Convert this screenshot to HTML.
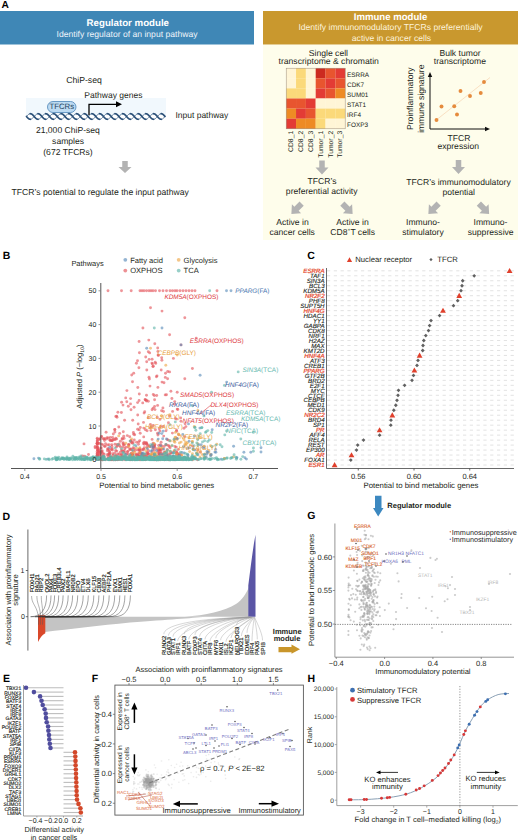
<!DOCTYPE html>
<html><head><meta charset="utf-8"><style>
html,body{margin:0;padding:0;background:#fff;}
body{width:520px;height:840px;overflow:hidden;}
svg{display:block;}
text{font-family:"Liberation Sans",sans-serif;text-rendering:geometricPrecision;}
</style></head><body>
<svg width="520" height="840" viewBox="0 0 520 840">
<text x="1.50" y="7.80" font-size="10.20" font-weight="bold" fill="#000">A</text>
<rect x="0.00" y="11.00" width="254.00" height="33.50" fill="#3f87b6"/>
<text x="127.80" y="25.75" font-size="9.70" text-anchor="middle" font-weight="bold" fill="#fff">Regulator module</text>
<text x="127.00" y="37.16" font-size="8.60" text-anchor="middle" fill="#eef4fa">Identify regulator of an input pathway</text>
<rect x="263.00" y="11.00" width="255.00" height="33.70" fill="#c9982e"/>
<rect x="263.00" y="44.70" width="255.00" height="195.30" fill="#fefdeb"/>
<text x="390.50" y="20.07" font-size="9.60" text-anchor="middle" font-weight="bold" fill="#fff">Immune module</text>
<text x="390.50" y="29.76" font-size="8.60" text-anchor="middle" fill="#fdf3dc">Identify immunomodulatory TFCRs preferentially</text>
<text x="391.50" y="41.16" font-size="8.60" text-anchor="middle" fill="#fdf3dc">active in cancer cells</text>
<text x="84.00" y="83.23" font-size="8.70" text-anchor="middle" fill="#231f20">ChiP-seq</text>
<rect x="26.00" y="98.00" width="140.00" height="17.00" fill="#f1f8fd"/>
<path d="M26.50,116.50 L26.76,116.79 L27.01,117.08 L27.27,117.37 L27.53,117.64 L27.78,117.90 L28.04,118.15 L28.30,118.37 L28.55,118.58 L28.81,118.77 L29.07,118.92 L29.32,119.06 L29.58,119.16 L29.84,119.24 L30.09,119.28 L30.35,119.30" fill="none" stroke="#2b5078" stroke-width="1.7" stroke-linecap="round"/>
<path d="M26.50,116.50 L26.76,116.21 L27.01,115.92 L27.27,115.63 L27.53,115.36 L27.78,115.10 L28.04,114.85 L28.30,114.63 L28.55,114.42 L28.81,114.23 L29.07,114.08 L29.32,113.94 L29.58,113.84 L29.84,113.76 L30.09,113.72 L30.35,113.70" fill="none" stroke="#2b5078" stroke-width="0.8" stroke-linecap="round"/>
<path d="M30.35,119.30 L30.61,119.28 L30.86,119.24 L31.12,119.16 L31.38,119.06 L31.63,118.92 L31.89,118.77 L32.15,118.58 L32.40,118.37 L32.66,118.15 L32.92,117.90 L33.17,117.64 L33.43,117.37 L33.69,117.08 L33.94,116.79 L34.20,116.50 L34.46,116.21 L34.71,115.92 L34.97,115.63 L35.23,115.36 L35.48,115.10 L35.74,114.85 L36.00,114.63 L36.25,114.42 L36.51,114.23 L36.77,114.08 L37.02,113.94 L37.28,113.84 L37.54,113.76 L37.79,113.72 L38.05,113.70" fill="none" stroke="#2b5078" stroke-width="0.8" stroke-linecap="round"/>
<path d="M30.35,113.70 L30.61,113.72 L30.86,113.76 L31.12,113.84 L31.38,113.94 L31.63,114.08 L31.89,114.23 L32.15,114.42 L32.40,114.63 L32.66,114.85 L32.92,115.10 L33.17,115.36 L33.43,115.63 L33.69,115.92 L33.94,116.21 L34.20,116.50 L34.46,116.79 L34.71,117.08 L34.97,117.37 L35.23,117.64 L35.48,117.90 L35.74,118.15 L36.00,118.37 L36.25,118.58 L36.51,118.77 L36.77,118.92 L37.02,119.06 L37.28,119.16 L37.54,119.24 L37.79,119.28 L38.05,119.30" fill="none" stroke="#2b5078" stroke-width="1.7" stroke-linecap="round"/>
<path d="M38.05,113.70 L38.31,113.72 L38.56,113.76 L38.82,113.84 L39.08,113.94 L39.33,114.08 L39.59,114.23 L39.85,114.42 L40.10,114.63 L40.36,114.85 L40.62,115.10 L40.87,115.36 L41.13,115.63 L41.39,115.92 L41.64,116.21 L41.90,116.50 L42.16,116.79 L42.41,117.08 L42.67,117.37 L42.93,117.64 L43.18,117.90 L43.44,118.15 L43.70,118.37 L43.95,118.58 L44.21,118.77 L44.47,118.92 L44.72,119.06 L44.98,119.16 L45.24,119.24 L45.49,119.28 L45.75,119.30" fill="none" stroke="#2b5078" stroke-width="1.7" stroke-linecap="round"/>
<path d="M38.05,119.30 L38.31,119.28 L38.56,119.24 L38.82,119.16 L39.08,119.06 L39.33,118.92 L39.59,118.77 L39.85,118.58 L40.10,118.37 L40.36,118.15 L40.62,117.90 L40.87,117.64 L41.13,117.37 L41.39,117.08 L41.64,116.79 L41.90,116.50 L42.16,116.21 L42.41,115.92 L42.67,115.63 L42.93,115.36 L43.18,115.10 L43.44,114.85 L43.70,114.63 L43.95,114.42 L44.21,114.23 L44.47,114.08 L44.72,113.94 L44.98,113.84 L45.24,113.76 L45.49,113.72 L45.75,113.70" fill="none" stroke="#2b5078" stroke-width="0.8" stroke-linecap="round"/>
<path d="M45.75,119.30 L46.01,119.28 L46.26,119.24 L46.52,119.16 L46.78,119.06 L47.03,118.92 L47.29,118.77 L47.55,118.58 L47.80,118.37 L48.06,118.15 L48.32,117.90 L48.57,117.64 L48.83,117.37 L49.09,117.08 L49.34,116.79 L49.60,116.50 L49.86,116.21 L50.11,115.92 L50.37,115.63 L50.63,115.36 L50.88,115.10 L51.14,114.85 L51.40,114.63 L51.65,114.42 L51.91,114.23 L52.17,114.08 L52.42,113.94 L52.68,113.84 L52.94,113.76 L53.19,113.72 L53.45,113.70" fill="none" stroke="#2b5078" stroke-width="0.8" stroke-linecap="round"/>
<path d="M45.75,113.70 L46.01,113.72 L46.26,113.76 L46.52,113.84 L46.78,113.94 L47.03,114.08 L47.29,114.23 L47.55,114.42 L47.80,114.63 L48.06,114.85 L48.32,115.10 L48.57,115.36 L48.83,115.63 L49.09,115.92 L49.34,116.21 L49.60,116.50 L49.86,116.79 L50.11,117.08 L50.37,117.37 L50.63,117.64 L50.88,117.90 L51.14,118.15 L51.40,118.37 L51.65,118.58 L51.91,118.77 L52.17,118.92 L52.42,119.06 L52.68,119.16 L52.94,119.24 L53.19,119.28 L53.45,119.30" fill="none" stroke="#2b5078" stroke-width="1.7" stroke-linecap="round"/>
<path d="M53.45,113.70 L53.71,113.72 L53.96,113.76 L54.22,113.84 L54.48,113.94 L54.73,114.08 L54.99,114.23 L55.25,114.42 L55.50,114.63 L55.76,114.85 L56.02,115.10 L56.27,115.36 L56.53,115.63 L56.79,115.92 L57.04,116.21 L57.30,116.50 L57.56,116.79 L57.81,117.08 L58.07,117.37 L58.33,117.64 L58.58,117.90 L58.84,118.15 L59.10,118.37 L59.35,118.58 L59.61,118.77 L59.87,118.92 L60.12,119.06 L60.38,119.16 L60.64,119.24 L60.89,119.28 L61.15,119.30" fill="none" stroke="#2b5078" stroke-width="1.7" stroke-linecap="round"/>
<path d="M53.45,119.30 L53.71,119.28 L53.96,119.24 L54.22,119.16 L54.48,119.06 L54.73,118.92 L54.99,118.77 L55.25,118.58 L55.50,118.37 L55.76,118.15 L56.02,117.90 L56.27,117.64 L56.53,117.37 L56.79,117.08 L57.04,116.79 L57.30,116.50 L57.56,116.21 L57.81,115.92 L58.07,115.63 L58.33,115.36 L58.58,115.10 L58.84,114.85 L59.10,114.63 L59.35,114.42 L59.61,114.23 L59.87,114.08 L60.12,113.94 L60.38,113.84 L60.64,113.76 L60.89,113.72 L61.15,113.70" fill="none" stroke="#2b5078" stroke-width="0.8" stroke-linecap="round"/>
<path d="M61.15,119.30 L61.41,119.28 L61.66,119.24 L61.92,119.16 L62.18,119.06 L62.43,118.92 L62.69,118.77 L62.95,118.58 L63.20,118.37 L63.46,118.15 L63.72,117.90 L63.97,117.64 L64.23,117.37 L64.49,117.08 L64.74,116.79 L65.00,116.50 L65.26,116.21 L65.51,115.92 L65.77,115.63 L66.03,115.36 L66.28,115.10 L66.54,114.85 L66.80,114.63 L67.05,114.42 L67.31,114.23 L67.57,114.08 L67.82,113.94 L68.08,113.84 L68.34,113.76 L68.59,113.72 L68.85,113.70" fill="none" stroke="#2b5078" stroke-width="0.8" stroke-linecap="round"/>
<path d="M61.15,113.70 L61.41,113.72 L61.66,113.76 L61.92,113.84 L62.18,113.94 L62.43,114.08 L62.69,114.23 L62.95,114.42 L63.20,114.63 L63.46,114.85 L63.72,115.10 L63.97,115.36 L64.23,115.63 L64.49,115.92 L64.74,116.21 L65.00,116.50 L65.26,116.79 L65.51,117.08 L65.77,117.37 L66.03,117.64 L66.28,117.90 L66.54,118.15 L66.80,118.37 L67.05,118.58 L67.31,118.77 L67.57,118.92 L67.82,119.06 L68.08,119.16 L68.34,119.24 L68.59,119.28 L68.85,119.30" fill="none" stroke="#2b5078" stroke-width="1.7" stroke-linecap="round"/>
<path d="M68.85,113.70 L69.11,113.72 L69.36,113.76 L69.62,113.84 L69.88,113.94 L70.13,114.08 L70.39,114.23 L70.65,114.42 L70.90,114.63 L71.16,114.85 L71.42,115.10 L71.67,115.36 L71.93,115.63 L72.19,115.92 L72.44,116.21 L72.70,116.50 L72.96,116.79 L73.21,117.08 L73.47,117.37 L73.73,117.64 L73.98,117.90 L74.24,118.15 L74.50,118.37 L74.75,118.58 L75.01,118.77 L75.27,118.92 L75.52,119.06 L75.78,119.16 L76.04,119.24 L76.29,119.28 L76.55,119.30" fill="none" stroke="#2b5078" stroke-width="1.7" stroke-linecap="round"/>
<path d="M68.85,119.30 L69.11,119.28 L69.36,119.24 L69.62,119.16 L69.88,119.06 L70.13,118.92 L70.39,118.77 L70.65,118.58 L70.90,118.37 L71.16,118.15 L71.42,117.90 L71.67,117.64 L71.93,117.37 L72.19,117.08 L72.44,116.79 L72.70,116.50 L72.96,116.21 L73.21,115.92 L73.47,115.63 L73.73,115.36 L73.98,115.10 L74.24,114.85 L74.50,114.63 L74.75,114.42 L75.01,114.23 L75.27,114.08 L75.52,113.94 L75.78,113.84 L76.04,113.76 L76.29,113.72 L76.55,113.70" fill="none" stroke="#2b5078" stroke-width="0.8" stroke-linecap="round"/>
<path d="M76.55,119.30 L76.81,119.28 L77.06,119.24 L77.32,119.16 L77.58,119.06 L77.83,118.92 L78.09,118.77 L78.35,118.58 L78.60,118.37 L78.86,118.15 L79.12,117.90 L79.37,117.64 L79.63,117.37 L79.89,117.08 L80.14,116.79 L80.40,116.50 L80.66,116.21 L80.91,115.92 L81.17,115.63 L81.43,115.36 L81.68,115.10 L81.94,114.85 L82.20,114.63 L82.45,114.42 L82.71,114.23 L82.97,114.08 L83.22,113.94 L83.48,113.84 L83.74,113.76 L83.99,113.72 L84.25,113.70" fill="none" stroke="#2b5078" stroke-width="0.8" stroke-linecap="round"/>
<path d="M76.55,113.70 L76.81,113.72 L77.06,113.76 L77.32,113.84 L77.58,113.94 L77.83,114.08 L78.09,114.23 L78.35,114.42 L78.60,114.63 L78.86,114.85 L79.12,115.10 L79.37,115.36 L79.63,115.63 L79.89,115.92 L80.14,116.21 L80.40,116.50 L80.66,116.79 L80.91,117.08 L81.17,117.37 L81.43,117.64 L81.68,117.90 L81.94,118.15 L82.20,118.37 L82.45,118.58 L82.71,118.77 L82.97,118.92 L83.22,119.06 L83.48,119.16 L83.74,119.24 L83.99,119.28 L84.25,119.30" fill="none" stroke="#2b5078" stroke-width="1.7" stroke-linecap="round"/>
<path d="M84.25,113.70 L84.51,113.72 L84.76,113.76 L85.02,113.84 L85.28,113.94 L85.53,114.08 L85.79,114.23 L86.05,114.42 L86.30,114.63 L86.56,114.85 L86.82,115.10 L87.07,115.36 L87.33,115.63 L87.59,115.92 L87.84,116.21 L88.10,116.50 L88.36,116.79 L88.61,117.08 L88.87,117.37 L89.13,117.64 L89.38,117.90 L89.64,118.15 L89.90,118.37 L90.15,118.58 L90.41,118.77 L90.67,118.92 L90.92,119.06 L91.18,119.16 L91.44,119.24 L91.69,119.28 L91.95,119.30" fill="none" stroke="#2b5078" stroke-width="1.7" stroke-linecap="round"/>
<path d="M84.25,119.30 L84.51,119.28 L84.76,119.24 L85.02,119.16 L85.28,119.06 L85.53,118.92 L85.79,118.77 L86.05,118.58 L86.30,118.37 L86.56,118.15 L86.82,117.90 L87.07,117.64 L87.33,117.37 L87.59,117.08 L87.84,116.79 L88.10,116.50 L88.36,116.21 L88.61,115.92 L88.87,115.63 L89.13,115.36 L89.38,115.10 L89.64,114.85 L89.90,114.63 L90.15,114.42 L90.41,114.23 L90.67,114.08 L90.92,113.94 L91.18,113.84 L91.44,113.76 L91.69,113.72 L91.95,113.70" fill="none" stroke="#2b5078" stroke-width="0.8" stroke-linecap="round"/>
<path d="M91.95,119.30 L92.21,119.28 L92.46,119.24 L92.72,119.16 L92.98,119.06 L93.23,118.92 L93.49,118.77 L93.75,118.58 L94.00,118.37 L94.26,118.15 L94.52,117.90 L94.77,117.64 L95.03,117.37 L95.29,117.08 L95.54,116.79 L95.80,116.50 L96.06,116.21 L96.31,115.92 L96.57,115.63 L96.83,115.36 L97.08,115.10 L97.34,114.85 L97.60,114.63 L97.85,114.42 L98.11,114.23 L98.37,114.08 L98.62,113.94 L98.88,113.84 L99.14,113.76 L99.39,113.72 L99.65,113.70" fill="none" stroke="#2b5078" stroke-width="0.8" stroke-linecap="round"/>
<path d="M91.95,113.70 L92.21,113.72 L92.46,113.76 L92.72,113.84 L92.98,113.94 L93.23,114.08 L93.49,114.23 L93.75,114.42 L94.00,114.63 L94.26,114.85 L94.52,115.10 L94.77,115.36 L95.03,115.63 L95.29,115.92 L95.54,116.21 L95.80,116.50 L96.06,116.79 L96.31,117.08 L96.57,117.37 L96.83,117.64 L97.08,117.90 L97.34,118.15 L97.60,118.37 L97.85,118.58 L98.11,118.77 L98.37,118.92 L98.62,119.06 L98.88,119.16 L99.14,119.24 L99.39,119.28 L99.65,119.30" fill="none" stroke="#2b5078" stroke-width="1.7" stroke-linecap="round"/>
<path d="M99.65,113.70 L99.91,113.72 L100.16,113.76 L100.42,113.84 L100.68,113.94 L100.93,114.08 L101.19,114.23 L101.45,114.42 L101.70,114.63 L101.96,114.85 L102.22,115.10 L102.47,115.36 L102.73,115.63 L102.99,115.92 L103.24,116.21 L103.50,116.50 L103.76,116.79 L104.01,117.08 L104.27,117.37 L104.53,117.64 L104.78,117.90 L105.04,118.15 L105.30,118.37 L105.55,118.58 L105.81,118.77 L106.07,118.92 L106.32,119.06 L106.58,119.16 L106.84,119.24 L107.09,119.28 L107.35,119.30" fill="none" stroke="#2b5078" stroke-width="1.7" stroke-linecap="round"/>
<path d="M99.65,119.30 L99.91,119.28 L100.16,119.24 L100.42,119.16 L100.68,119.06 L100.93,118.92 L101.19,118.77 L101.45,118.58 L101.70,118.37 L101.96,118.15 L102.22,117.90 L102.47,117.64 L102.73,117.37 L102.99,117.08 L103.24,116.79 L103.50,116.50 L103.76,116.21 L104.01,115.92 L104.27,115.63 L104.53,115.36 L104.78,115.10 L105.04,114.85 L105.30,114.63 L105.55,114.42 L105.81,114.23 L106.07,114.08 L106.32,113.94 L106.58,113.84 L106.84,113.76 L107.09,113.72 L107.35,113.70" fill="none" stroke="#2b5078" stroke-width="0.8" stroke-linecap="round"/>
<path d="M107.35,119.30 L107.61,119.28 L107.86,119.24 L108.12,119.16 L108.38,119.06 L108.63,118.92 L108.89,118.77 L109.15,118.58 L109.40,118.37 L109.66,118.15 L109.92,117.90 L110.17,117.64 L110.43,117.37 L110.69,117.08 L110.94,116.79 L111.20,116.50 L111.46,116.21 L111.71,115.92 L111.97,115.63 L112.23,115.36 L112.48,115.10 L112.74,114.85 L113.00,114.63 L113.25,114.42 L113.51,114.23 L113.77,114.08 L114.02,113.94 L114.28,113.84 L114.54,113.76 L114.79,113.72 L115.05,113.70" fill="none" stroke="#2b5078" stroke-width="0.8" stroke-linecap="round"/>
<path d="M107.35,113.70 L107.61,113.72 L107.86,113.76 L108.12,113.84 L108.38,113.94 L108.63,114.08 L108.89,114.23 L109.15,114.42 L109.40,114.63 L109.66,114.85 L109.92,115.10 L110.17,115.36 L110.43,115.63 L110.69,115.92 L110.94,116.21 L111.20,116.50 L111.46,116.79 L111.71,117.08 L111.97,117.37 L112.23,117.64 L112.48,117.90 L112.74,118.15 L113.00,118.37 L113.25,118.58 L113.51,118.77 L113.77,118.92 L114.02,119.06 L114.28,119.16 L114.54,119.24 L114.79,119.28 L115.05,119.30" fill="none" stroke="#2b5078" stroke-width="1.7" stroke-linecap="round"/>
<path d="M115.05,113.70 L115.31,113.72 L115.56,113.76 L115.82,113.84 L116.08,113.94 L116.33,114.08 L116.59,114.23 L116.85,114.42 L117.10,114.63 L117.36,114.85 L117.62,115.10 L117.87,115.36 L118.13,115.63 L118.39,115.92 L118.64,116.21 L118.90,116.50 L119.16,116.79 L119.41,117.08 L119.67,117.37 L119.93,117.64 L120.18,117.90 L120.44,118.15 L120.70,118.37 L120.95,118.58 L121.21,118.77 L121.47,118.92 L121.72,119.06 L121.98,119.16 L122.24,119.24 L122.49,119.28 L122.75,119.30" fill="none" stroke="#2b5078" stroke-width="1.7" stroke-linecap="round"/>
<path d="M115.05,119.30 L115.31,119.28 L115.56,119.24 L115.82,119.16 L116.08,119.06 L116.33,118.92 L116.59,118.77 L116.85,118.58 L117.10,118.37 L117.36,118.15 L117.62,117.90 L117.87,117.64 L118.13,117.37 L118.39,117.08 L118.64,116.79 L118.90,116.50 L119.16,116.21 L119.41,115.92 L119.67,115.63 L119.93,115.36 L120.18,115.10 L120.44,114.85 L120.70,114.63 L120.95,114.42 L121.21,114.23 L121.47,114.08 L121.72,113.94 L121.98,113.84 L122.24,113.76 L122.49,113.72 L122.75,113.70" fill="none" stroke="#2b5078" stroke-width="0.8" stroke-linecap="round"/>
<path d="M122.75,119.30 L123.01,119.28 L123.26,119.24 L123.52,119.16 L123.78,119.06 L124.03,118.92 L124.29,118.77 L124.55,118.58 L124.80,118.37 L125.06,118.15 L125.32,117.90 L125.57,117.64 L125.83,117.37 L126.09,117.08 L126.34,116.79 L126.60,116.50 L126.86,116.21 L127.11,115.92 L127.37,115.63 L127.63,115.36 L127.88,115.10 L128.14,114.85 L128.40,114.63 L128.65,114.42 L128.91,114.23 L129.17,114.08 L129.42,113.94 L129.68,113.84 L129.94,113.76 L130.19,113.72 L130.45,113.70" fill="none" stroke="#2b5078" stroke-width="0.8" stroke-linecap="round"/>
<path d="M122.75,113.70 L123.01,113.72 L123.26,113.76 L123.52,113.84 L123.78,113.94 L124.03,114.08 L124.29,114.23 L124.55,114.42 L124.80,114.63 L125.06,114.85 L125.32,115.10 L125.57,115.36 L125.83,115.63 L126.09,115.92 L126.34,116.21 L126.60,116.50 L126.86,116.79 L127.11,117.08 L127.37,117.37 L127.63,117.64 L127.88,117.90 L128.14,118.15 L128.40,118.37 L128.65,118.58 L128.91,118.77 L129.17,118.92 L129.42,119.06 L129.68,119.16 L129.94,119.24 L130.19,119.28 L130.45,119.30" fill="none" stroke="#2b5078" stroke-width="1.7" stroke-linecap="round"/>
<path d="M130.45,113.70 L130.71,113.72 L130.96,113.76 L131.22,113.84 L131.48,113.94 L131.73,114.08 L131.99,114.23 L132.25,114.42 L132.50,114.63 L132.76,114.85 L133.02,115.10 L133.27,115.36 L133.53,115.63 L133.79,115.92 L134.04,116.21 L134.30,116.50 L134.56,116.79 L134.81,117.08 L135.07,117.37 L135.33,117.64 L135.58,117.90 L135.84,118.15 L136.10,118.37 L136.35,118.58 L136.61,118.77 L136.87,118.92 L137.12,119.06 L137.38,119.16 L137.64,119.24 L137.89,119.28 L138.15,119.30" fill="none" stroke="#2b5078" stroke-width="1.7" stroke-linecap="round"/>
<path d="M130.45,119.30 L130.71,119.28 L130.96,119.24 L131.22,119.16 L131.48,119.06 L131.73,118.92 L131.99,118.77 L132.25,118.58 L132.50,118.37 L132.76,118.15 L133.02,117.90 L133.27,117.64 L133.53,117.37 L133.79,117.08 L134.04,116.79 L134.30,116.50 L134.56,116.21 L134.81,115.92 L135.07,115.63 L135.33,115.36 L135.58,115.10 L135.84,114.85 L136.10,114.63 L136.35,114.42 L136.61,114.23 L136.87,114.08 L137.12,113.94 L137.38,113.84 L137.64,113.76 L137.89,113.72 L138.15,113.70" fill="none" stroke="#2b5078" stroke-width="0.8" stroke-linecap="round"/>
<path d="M138.15,119.30 L138.41,119.28 L138.66,119.24 L138.92,119.16 L139.18,119.06 L139.43,118.92 L139.69,118.77 L139.95,118.58 L140.20,118.37 L140.46,118.15 L140.72,117.90 L140.97,117.64 L141.23,117.37 L141.49,117.08 L141.74,116.79 L142.00,116.50 L142.26,116.21 L142.51,115.92 L142.77,115.63 L143.03,115.36 L143.28,115.10 L143.54,114.85 L143.80,114.63 L144.05,114.42 L144.31,114.23 L144.57,114.08 L144.82,113.94 L145.08,113.84 L145.34,113.76 L145.59,113.72 L145.85,113.70" fill="none" stroke="#2b5078" stroke-width="0.8" stroke-linecap="round"/>
<path d="M138.15,113.70 L138.41,113.72 L138.66,113.76 L138.92,113.84 L139.18,113.94 L139.43,114.08 L139.69,114.23 L139.95,114.42 L140.20,114.63 L140.46,114.85 L140.72,115.10 L140.97,115.36 L141.23,115.63 L141.49,115.92 L141.74,116.21 L142.00,116.50 L142.26,116.79 L142.51,117.08 L142.77,117.37 L143.03,117.64 L143.28,117.90 L143.54,118.15 L143.80,118.37 L144.05,118.58 L144.31,118.77 L144.57,118.92 L144.82,119.06 L145.08,119.16 L145.34,119.24 L145.59,119.28 L145.85,119.30" fill="none" stroke="#2b5078" stroke-width="1.7" stroke-linecap="round"/>
<path d="M145.85,113.70 L146.11,113.72 L146.36,113.76 L146.62,113.84 L146.88,113.94 L147.13,114.08 L147.39,114.23 L147.65,114.42 L147.90,114.63 L148.16,114.85 L148.42,115.10 L148.67,115.36 L148.93,115.63 L149.19,115.92 L149.44,116.21 L149.70,116.50 L149.96,116.79 L150.21,117.08 L150.47,117.37 L150.73,117.64 L150.98,117.90 L151.24,118.15 L151.50,118.37 L151.75,118.58 L152.01,118.77 L152.27,118.92 L152.52,119.06 L152.78,119.16 L153.04,119.24 L153.29,119.28 L153.55,119.30" fill="none" stroke="#2b5078" stroke-width="1.7" stroke-linecap="round"/>
<path d="M145.85,119.30 L146.11,119.28 L146.36,119.24 L146.62,119.16 L146.88,119.06 L147.13,118.92 L147.39,118.77 L147.65,118.58 L147.90,118.37 L148.16,118.15 L148.42,117.90 L148.67,117.64 L148.93,117.37 L149.19,117.08 L149.44,116.79 L149.70,116.50 L149.96,116.21 L150.21,115.92 L150.47,115.63 L150.73,115.36 L150.98,115.10 L151.24,114.85 L151.50,114.63 L151.75,114.42 L152.01,114.23 L152.27,114.08 L152.52,113.94 L152.78,113.84 L153.04,113.76 L153.29,113.72 L153.55,113.70" fill="none" stroke="#2b5078" stroke-width="0.8" stroke-linecap="round"/>
<path d="M153.55,119.30 L153.81,119.28 L154.06,119.24 L154.32,119.16 L154.58,119.06 L154.83,118.92 L155.09,118.77 L155.35,118.58 L155.60,118.37 L155.86,118.15 L156.12,117.90 L156.37,117.64 L156.63,117.37 L156.89,117.08 L157.14,116.79 L157.40,116.50 L157.66,116.21 L157.91,115.92 L158.17,115.63 L158.43,115.36 L158.68,115.10 L158.94,114.85 L159.20,114.63 L159.45,114.42 L159.71,114.23 L159.97,114.08 L160.22,113.94 L160.48,113.84 L160.74,113.76 L160.99,113.72 L161.25,113.70" fill="none" stroke="#2b5078" stroke-width="0.8" stroke-linecap="round"/>
<path d="M153.55,113.70 L153.81,113.72 L154.06,113.76 L154.32,113.84 L154.58,113.94 L154.83,114.08 L155.09,114.23 L155.35,114.42 L155.60,114.63 L155.86,114.85 L156.12,115.10 L156.37,115.36 L156.63,115.63 L156.89,115.92 L157.14,116.21 L157.40,116.50 L157.66,116.79 L157.91,117.08 L158.17,117.37 L158.43,117.64 L158.68,117.90 L158.94,118.15 L159.20,118.37 L159.45,118.58 L159.71,118.77 L159.97,118.92 L160.22,119.06 L160.48,119.16 L160.74,119.24 L160.99,119.28 L161.25,119.30" fill="none" stroke="#2b5078" stroke-width="1.7" stroke-linecap="round"/>
<path d="M161.25,113.70 L161.50,113.71 L161.75,113.76 L162.00,113.83 L162.25,113.93 L162.50,114.06 L162.75,114.21 L163.00,114.38 L163.25,114.58 L163.50,114.80 L163.75,115.03 L164.00,115.29 L164.25,115.55 L164.50,115.82 L164.75,116.10 L165.00,116.39" fill="none" stroke="#2b5078" stroke-width="1.7" stroke-linecap="round"/>
<path d="M161.25,119.30 L161.50,119.29 L161.75,119.24 L162.00,119.17 L162.25,119.07 L162.50,118.94 L162.75,118.79 L163.00,118.62 L163.25,118.42 L163.50,118.20 L163.75,117.97 L164.00,117.71 L164.25,117.45 L164.50,117.18 L164.75,116.90 L165.00,116.61" fill="none" stroke="#2b5078" stroke-width="0.8" stroke-linecap="round"/>
<rect x="47.5" y="101.5" width="28.5" height="11" rx="5.5" ry="5.5" fill="#bcdaf2" stroke="#4d85b8" stroke-width="0.8"/>
<text x="61.80" y="109.18" font-size="7.80" text-anchor="middle" fill="#1f3f60">TFCRs</text>
<path d="M89,115 L89,104.3 L117,104.3" fill="none" stroke="#000" stroke-width="1.3"/>
<path d="M116,101.3 L122,104.3 L116,107.3 Z" fill="#000" stroke="none" stroke-width="1"/>
<text x="113.40" y="97.79" font-size="8.50" text-anchor="middle" fill="#231f20">Pathway genes</text>
<text x="175.40" y="117.79" font-size="8.50" fill="#231f20">Input pathway</text>
<text x="67.90" y="132.96" font-size="8.60" text-anchor="middle" fill="#231f20">21,000 ChiP-seq</text>
<text x="68.10" y="144.06" font-size="8.60" text-anchor="middle" fill="#231f20">samples</text>
<text x="68.00" y="154.56" font-size="8.60" text-anchor="middle" fill="#231f20">(672 TFCRs)</text>
<path d="M122.25,161.00 L127.75,161.00 L127.75,167.00 L131.50,167.00 L125.00,173.00 L118.50,167.00 L122.25,167.00 Z" fill="#b3b3b3" stroke="none" stroke-width="1"/>
<text x="100.20" y="194.69" font-size="8.65" text-anchor="middle" fill="#231f20">TFCR’s potential to regulate the input pathway</text>
<rect x="286.20" y="68.20" width="9.88" height="10.15" fill="#fff5d6"/>
<rect x="296.03" y="68.20" width="9.88" height="10.15" fill="#fbd97a"/>
<rect x="305.86" y="68.20" width="9.88" height="10.15" fill="#fff5d6"/>
<rect x="315.69" y="68.20" width="9.88" height="10.15" fill="#cc2b20"/>
<rect x="325.52" y="68.20" width="9.88" height="10.15" fill="#e8552f"/>
<rect x="335.35" y="68.20" width="9.88" height="10.15" fill="#e33b35"/>
<rect x="286.20" y="78.30" width="9.88" height="10.15" fill="#fff5d6"/>
<rect x="296.03" y="78.30" width="9.88" height="10.15" fill="#fbd97a"/>
<rect x="305.86" y="78.30" width="9.88" height="10.15" fill="#fff5d6"/>
<rect x="315.69" y="78.30" width="9.88" height="10.15" fill="#e8552f"/>
<rect x="325.52" y="78.30" width="9.88" height="10.15" fill="#e33b35"/>
<rect x="335.35" y="78.30" width="9.88" height="10.15" fill="#e8552f"/>
<rect x="286.20" y="88.40" width="9.88" height="10.15" fill="#fbd97a"/>
<rect x="296.03" y="88.40" width="9.88" height="10.15" fill="#fbd97a"/>
<rect x="305.86" y="88.40" width="9.88" height="10.15" fill="#fff5d6"/>
<rect x="315.69" y="88.40" width="9.88" height="10.15" fill="#e33b35"/>
<rect x="325.52" y="88.40" width="9.88" height="10.15" fill="#e8552f"/>
<rect x="335.35" y="88.40" width="9.88" height="10.15" fill="#ee8b24"/>
<rect x="286.20" y="98.50" width="9.88" height="10.15" fill="#e8552f"/>
<rect x="296.03" y="98.50" width="9.88" height="10.15" fill="#e8552f"/>
<rect x="305.86" y="98.50" width="9.88" height="10.15" fill="#e33b35"/>
<rect x="315.69" y="98.50" width="9.88" height="10.15" fill="#fff5d6"/>
<rect x="325.52" y="98.50" width="9.88" height="10.15" fill="#fff5d6"/>
<rect x="335.35" y="98.50" width="9.88" height="10.15" fill="#fff5d6"/>
<rect x="286.20" y="108.60" width="9.88" height="10.15" fill="#ee8b24"/>
<rect x="296.03" y="108.60" width="9.88" height="10.15" fill="#e33b35"/>
<rect x="305.86" y="108.60" width="9.88" height="10.15" fill="#e8552f"/>
<rect x="315.69" y="108.60" width="9.88" height="10.15" fill="#fbd97a"/>
<rect x="325.52" y="108.60" width="9.88" height="10.15" fill="#fbd97a"/>
<rect x="335.35" y="108.60" width="9.88" height="10.15" fill="#fbd97a"/>
<rect x="286.20" y="118.70" width="9.88" height="10.15" fill="#e33b35"/>
<rect x="296.03" y="118.70" width="9.88" height="10.15" fill="#ee8b24"/>
<rect x="305.86" y="118.70" width="9.88" height="10.15" fill="#ee8b24"/>
<rect x="315.69" y="118.70" width="9.88" height="10.15" fill="#fbd97a"/>
<rect x="325.52" y="118.70" width="9.88" height="10.15" fill="#fff5d6"/>
<rect x="335.35" y="118.70" width="9.88" height="10.15" fill="#fff5d6"/>
<rect x="286.2" y="68.2" width="58.98" height="60.60" fill="none" stroke="#9a8a7a" stroke-width="0.5"/>
<text x="347.10" y="76.60" font-size="6.40" fill="#231f20">ESRRA</text>
<text x="347.10" y="86.60" font-size="6.40" fill="#231f20">CDK7</text>
<text x="347.10" y="96.60" font-size="6.40" fill="#231f20">SUM01</text>
<text x="347.10" y="106.60" font-size="6.40" fill="#231f20">STAT1</text>
<text x="347.10" y="116.60" font-size="6.40" fill="#231f20">IRF4</text>
<text x="347.10" y="126.60" font-size="6.40" fill="#231f20">FOXP3</text>
<g transform="translate(293.22,130.8) rotate(-90)"><text x="0" y="0" font-size="6.8" text-anchor="end" fill="#231f20">CD8_1</text></g>
<g transform="translate(303.05,130.8) rotate(-90)"><text x="0" y="0" font-size="6.8" text-anchor="end" fill="#231f20">CD8_2</text></g>
<g transform="translate(312.88,130.8) rotate(-90)"><text x="0" y="0" font-size="6.8" text-anchor="end" fill="#231f20">CD8_3</text></g>
<g transform="translate(322.71,130.8) rotate(-90)"><text x="0" y="0" font-size="6.8" text-anchor="end" fill="#231f20">Tumor_1</text></g>
<g transform="translate(332.54,130.8) rotate(-90)"><text x="0" y="0" font-size="6.8" text-anchor="end" fill="#231f20">Tumor_2</text></g>
<g transform="translate(342.37,130.8) rotate(-90)"><text x="0" y="0" font-size="6.8" text-anchor="end" fill="#231f20">Tumor_3</text></g>
<text x="328.40" y="56.16" font-size="8.60" text-anchor="middle" fill="#231f20">Single cell</text>
<text x="328.70" y="64.16" font-size="8.60" text-anchor="middle" fill="#231f20">transcriptome &amp; chromatin</text>
<text x="460.00" y="56.16" font-size="8.60" text-anchor="middle" fill="#231f20">Bulk tumor</text>
<text x="459.90" y="64.16" font-size="8.60" text-anchor="middle" fill="#231f20">transcriptome</text>
<line x1="435.00" y1="121.00" x2="490.00" y2="77.50" stroke="#f8d8b8" stroke-width="0.8"/>
<circle cx="436.50" cy="120.00" r="1.95" fill="#e58b3d"/>
<circle cx="441.50" cy="106.50" r="1.95" fill="#e58b3d"/>
<circle cx="454.25" cy="106.25" r="1.95" fill="#e58b3d"/>
<circle cx="457.00" cy="114.50" r="1.95" fill="#e58b3d"/>
<circle cx="460.50" cy="91.00" r="1.95" fill="#e58b3d"/>
<circle cx="470.00" cy="96.00" r="1.95" fill="#e58b3d"/>
<circle cx="480.75" cy="93.00" r="1.95" fill="#e58b3d"/>
<circle cx="484.00" cy="82.00" r="1.95" fill="#e58b3d"/>
<path d="M430,129 L430,76 M486,129 L430,129" fill="none" stroke="#111" stroke-width="1.0"/>
<path d="M427.8,77 L430,72 L432.2,77 Z" fill="#111" stroke="none" stroke-width="1"/>
<path d="M485,126.8 L490,129 L485,131.2 Z" fill="#111" stroke="none" stroke-width="1"/>
<g transform="translate(410.2,98.7) rotate(-90)"><text x="0" y="3.1" font-size="8.6" text-anchor="middle" fill="#231f20">Proinflammatory</text></g>
<g transform="translate(420.5,98.7) rotate(-90)"><text x="0" y="3.1" font-size="8.6" text-anchor="middle" fill="#231f20">immune signature</text></g>
<text x="459.00" y="140.66" font-size="8.60" text-anchor="middle" fill="#231f20">TFCR</text>
<text x="458.20" y="148.66" font-size="8.60" text-anchor="middle" fill="#231f20">expression</text>
<path d="M319.25,160.50 L324.75,160.50 L324.75,167.50 L328.50,167.50 L322.00,174.50 L315.50,167.50 L319.25,167.50 Z" fill="#b3b3b3" stroke="none" stroke-width="1"/>
<path d="M455.75,160.00 L461.25,160.00 L461.25,167.00 L465.00,167.00 L458.50,174.00 L452.00,167.00 L455.75,167.00 Z" fill="#b3b3b3" stroke="none" stroke-width="1"/>
<text x="322.00" y="183.66" font-size="8.60" text-anchor="middle" fill="#231f20">TFCR’s</text>
<text x="321.70" y="193.66" font-size="8.60" text-anchor="middle" fill="#231f20">preferential activity</text>
<text x="458.50" y="185.16" font-size="8.60" text-anchor="middle" fill="#231f20">TFCR’s immunomodulatory</text>
<text x="458.70" y="195.16" font-size="8.60" text-anchor="middle" fill="#231f20">potential</text>
<path d="M293.50,201.50 L299.50,201.50 L299.50,208.75 L303.00,208.75 L296.50,216.00 L290.00,208.75 L293.50,208.75 Z" fill="#b3b3b3" stroke="none" stroke-width="1" transform="rotate(45 296.50 208.75)"/>
<path d="M344.50,201.50 L350.50,201.50 L350.50,208.75 L354.00,208.75 L347.50,216.00 L341.00,208.75 L344.50,208.75 Z" fill="#b3b3b3" stroke="none" stroke-width="1" transform="rotate(-45 347.50 208.75)"/>
<path d="M430.50,201.50 L436.50,201.50 L436.50,208.75 L440.00,208.75 L433.50,216.00 L427.00,208.75 L430.50,208.75 Z" fill="#b3b3b3" stroke="none" stroke-width="1" transform="rotate(45 433.50 208.75)"/>
<path d="M481.00,201.50 L487.00,201.50 L487.00,208.75 L490.50,208.75 L484.00,216.00 L477.50,208.75 L481.00,208.75 Z" fill="#b3b3b3" stroke="none" stroke-width="1" transform="rotate(-45 484.00 208.75)"/>
<text x="292.50" y="225.16" font-size="8.60" text-anchor="middle" fill="#231f20">Active in</text>
<text x="292.20" y="235.16" font-size="8.60" text-anchor="middle" fill="#231f20">cancer cells</text>
<text x="352.50" y="225.16" font-size="8.60" text-anchor="middle" fill="#231f20">Active in</text>
<text x="352.70" y="235.16" font-size="8.60" text-anchor="middle" fill="#231f20">CD8⁺T cells</text>
<text x="423.00" y="224.91" font-size="8.60" text-anchor="middle" fill="#231f20">Immuno-</text>
<text x="423.00" y="234.91" font-size="8.60" text-anchor="middle" fill="#231f20">stimulatory</text>
<text x="490.50" y="224.91" font-size="8.60" text-anchor="middle" fill="#231f20">Immuno-</text>
<text x="490.70" y="234.91" font-size="8.60" text-anchor="middle" fill="#231f20">suppressive</text>
<text x="2.70" y="259.40" font-size="10.50" font-weight="bold" fill="#000">B</text>
<circle cx="132.7" cy="420.2" r="1.45" fill="#e4545a" fill-opacity="0.62"/>
<circle cx="152.0" cy="459.0" r="1.45" fill="#e4545a" fill-opacity="0.62"/>
<circle cx="115.7" cy="459.6" r="1.45" fill="#e4545a" fill-opacity="0.62"/>
<circle cx="133.7" cy="434.3" r="1.45" fill="#e4545a" fill-opacity="0.62"/>
<circle cx="165.2" cy="459.2" r="1.45" fill="#e4545a" fill-opacity="0.62"/>
<circle cx="145.4" cy="458.6" r="1.45" fill="#e4545a" fill-opacity="0.62"/>
<circle cx="97.2" cy="459.4" r="1.45" fill="#e4545a" fill-opacity="0.62"/>
<circle cx="160.6" cy="453.4" r="1.45" fill="#e4545a" fill-opacity="0.62"/>
<circle cx="97.2" cy="451.5" r="1.45" fill="#e4545a" fill-opacity="0.62"/>
<circle cx="97.2" cy="455.7" r="1.45" fill="#e4545a" fill-opacity="0.62"/>
<circle cx="146.8" cy="370.0" r="1.45" fill="#e4545a" fill-opacity="0.62"/>
<circle cx="137.9" cy="449.9" r="1.45" fill="#e4545a" fill-opacity="0.62"/>
<circle cx="146.9" cy="446.9" r="1.45" fill="#e4545a" fill-opacity="0.62"/>
<circle cx="149.0" cy="377.3" r="1.45" fill="#e4545a" fill-opacity="0.62"/>
<circle cx="153.1" cy="408.2" r="1.45" fill="#e4545a" fill-opacity="0.62"/>
<circle cx="169.2" cy="446.5" r="1.45" fill="#e4545a" fill-opacity="0.62"/>
<circle cx="130.4" cy="459.4" r="1.45" fill="#e4545a" fill-opacity="0.62"/>
<circle cx="136.4" cy="454.8" r="1.45" fill="#e4545a" fill-opacity="0.62"/>
<circle cx="127.9" cy="451.5" r="1.45" fill="#e4545a" fill-opacity="0.62"/>
<circle cx="115.0" cy="444.3" r="1.45" fill="#e4545a" fill-opacity="0.62"/>
<circle cx="118.8" cy="427.0" r="1.45" fill="#e4545a" fill-opacity="0.62"/>
<circle cx="145.3" cy="399.9" r="1.45" fill="#e4545a" fill-opacity="0.62"/>
<circle cx="140.3" cy="427.5" r="1.45" fill="#e4545a" fill-opacity="0.62"/>
<circle cx="171.9" cy="398.5" r="1.45" fill="#e4545a" fill-opacity="0.62"/>
<circle cx="136.4" cy="363.3" r="1.45" fill="#e4545a" fill-opacity="0.62"/>
<circle cx="118.5" cy="458.9" r="1.45" fill="#e4545a" fill-opacity="0.62"/>
<circle cx="102.3" cy="459.1" r="1.45" fill="#e4545a" fill-opacity="0.62"/>
<circle cx="159.9" cy="431.1" r="1.45" fill="#e4545a" fill-opacity="0.62"/>
<circle cx="175.3" cy="418.4" r="1.45" fill="#e4545a" fill-opacity="0.62"/>
<circle cx="148.2" cy="417.8" r="1.45" fill="#e4545a" fill-opacity="0.62"/>
<circle cx="154.6" cy="399.8" r="1.45" fill="#e4545a" fill-opacity="0.62"/>
<circle cx="123.7" cy="436.2" r="1.45" fill="#e4545a" fill-opacity="0.62"/>
<circle cx="114.8" cy="429.4" r="1.45" fill="#e4545a" fill-opacity="0.62"/>
<circle cx="125.7" cy="397.9" r="1.45" fill="#e4545a" fill-opacity="0.62"/>
<circle cx="102.4" cy="459.7" r="1.45" fill="#e4545a" fill-opacity="0.62"/>
<circle cx="145.1" cy="399.5" r="1.45" fill="#e4545a" fill-opacity="0.62"/>
<circle cx="97.2" cy="443.5" r="1.45" fill="#e4545a" fill-opacity="0.62"/>
<circle cx="97.2" cy="457.6" r="1.45" fill="#e4545a" fill-opacity="0.62"/>
<circle cx="110.9" cy="459.8" r="1.45" fill="#e4545a" fill-opacity="0.62"/>
<circle cx="163.7" cy="436.1" r="1.45" fill="#e4545a" fill-opacity="0.62"/>
<circle cx="145.3" cy="459.3" r="1.45" fill="#e4545a" fill-opacity="0.62"/>
<circle cx="150.0" cy="386.1" r="1.45" fill="#e4545a" fill-opacity="0.62"/>
<circle cx="152.1" cy="439.4" r="1.45" fill="#e4545a" fill-opacity="0.62"/>
<circle cx="152.9" cy="366.6" r="1.45" fill="#e4545a" fill-opacity="0.62"/>
<circle cx="163.1" cy="426.4" r="1.45" fill="#e4545a" fill-opacity="0.62"/>
<circle cx="152.4" cy="364.0" r="1.45" fill="#e4545a" fill-opacity="0.62"/>
<circle cx="160.3" cy="450.0" r="1.45" fill="#e4545a" fill-opacity="0.62"/>
<circle cx="97.2" cy="455.3" r="1.45" fill="#e4545a" fill-opacity="0.62"/>
<circle cx="106.1" cy="432.2" r="1.45" fill="#e4545a" fill-opacity="0.62"/>
<circle cx="179.6" cy="458.2" r="1.45" fill="#e4545a" fill-opacity="0.62"/>
<circle cx="147.3" cy="452.2" r="1.45" fill="#e4545a" fill-opacity="0.62"/>
<circle cx="155.4" cy="429.8" r="1.45" fill="#e4545a" fill-opacity="0.62"/>
<circle cx="122.5" cy="459.8" r="1.45" fill="#e4545a" fill-opacity="0.62"/>
<circle cx="128.7" cy="444.9" r="1.45" fill="#e4545a" fill-opacity="0.62"/>
<circle cx="117.0" cy="417.2" r="1.45" fill="#e4545a" fill-opacity="0.62"/>
<circle cx="162.9" cy="408.0" r="1.45" fill="#e4545a" fill-opacity="0.62"/>
<circle cx="104.4" cy="446.3" r="1.45" fill="#e4545a" fill-opacity="0.62"/>
<circle cx="135.7" cy="459.4" r="1.45" fill="#e4545a" fill-opacity="0.62"/>
<circle cx="174.4" cy="404.3" r="1.45" fill="#e4545a" fill-opacity="0.62"/>
<circle cx="113.3" cy="434.0" r="1.45" fill="#e4545a" fill-opacity="0.62"/>
<circle cx="119.3" cy="459.1" r="1.45" fill="#e4545a" fill-opacity="0.62"/>
<circle cx="155.0" cy="409.6" r="1.45" fill="#e4545a" fill-opacity="0.62"/>
<circle cx="147.8" cy="453.6" r="1.45" fill="#e4545a" fill-opacity="0.62"/>
<circle cx="142.7" cy="456.2" r="1.45" fill="#e4545a" fill-opacity="0.62"/>
<circle cx="134.7" cy="459.8" r="1.45" fill="#e4545a" fill-opacity="0.62"/>
<circle cx="146.1" cy="456.5" r="1.45" fill="#e4545a" fill-opacity="0.62"/>
<circle cx="158.3" cy="459.7" r="1.45" fill="#e4545a" fill-opacity="0.62"/>
<circle cx="153.3" cy="366.3" r="1.45" fill="#e4545a" fill-opacity="0.62"/>
<circle cx="128.3" cy="454.2" r="1.45" fill="#e4545a" fill-opacity="0.62"/>
<circle cx="129.7" cy="449.0" r="1.45" fill="#e4545a" fill-opacity="0.62"/>
<circle cx="130.6" cy="398.6" r="1.45" fill="#e4545a" fill-opacity="0.62"/>
<circle cx="148.8" cy="340.1" r="1.45" fill="#e4545a" fill-opacity="0.62"/>
<circle cx="110.8" cy="459.5" r="1.45" fill="#e4545a" fill-opacity="0.62"/>
<circle cx="145.2" cy="458.2" r="1.45" fill="#e4545a" fill-opacity="0.62"/>
<circle cx="128.3" cy="406.3" r="1.45" fill="#e4545a" fill-opacity="0.62"/>
<circle cx="155.6" cy="456.1" r="1.45" fill="#e4545a" fill-opacity="0.62"/>
<circle cx="200.2" cy="452.2" r="1.45" fill="#e4545a" fill-opacity="0.62"/>
<circle cx="148.0" cy="456.7" r="1.45" fill="#e4545a" fill-opacity="0.62"/>
<circle cx="133.4" cy="432.5" r="1.45" fill="#e4545a" fill-opacity="0.62"/>
<circle cx="137.5" cy="360.8" r="1.45" fill="#e4545a" fill-opacity="0.62"/>
<circle cx="164.5" cy="451.9" r="1.45" fill="#e4545a" fill-opacity="0.62"/>
<circle cx="109.7" cy="454.7" r="1.45" fill="#e4545a" fill-opacity="0.62"/>
<circle cx="160.6" cy="426.5" r="1.45" fill="#e4545a" fill-opacity="0.62"/>
<circle cx="176.6" cy="419.1" r="1.45" fill="#e4545a" fill-opacity="0.62"/>
<circle cx="130.5" cy="403.9" r="1.45" fill="#e4545a" fill-opacity="0.62"/>
<circle cx="154.8" cy="343.7" r="1.45" fill="#e4545a" fill-opacity="0.62"/>
<circle cx="166.5" cy="394.8" r="1.45" fill="#e4545a" fill-opacity="0.62"/>
<circle cx="102.7" cy="444.6" r="1.45" fill="#e4545a" fill-opacity="0.62"/>
<circle cx="143.5" cy="443.5" r="1.45" fill="#e4545a" fill-opacity="0.62"/>
<circle cx="169.1" cy="459.7" r="1.45" fill="#e4545a" fill-opacity="0.62"/>
<circle cx="159.1" cy="451.1" r="1.45" fill="#e4545a" fill-opacity="0.62"/>
<circle cx="142.7" cy="402.9" r="1.45" fill="#e4545a" fill-opacity="0.62"/>
<circle cx="165.5" cy="373.2" r="1.45" fill="#e4545a" fill-opacity="0.62"/>
<circle cx="131.7" cy="375.0" r="1.45" fill="#e4545a" fill-opacity="0.62"/>
<circle cx="162.1" cy="453.8" r="1.45" fill="#e4545a" fill-opacity="0.62"/>
<circle cx="132.4" cy="454.5" r="1.45" fill="#e4545a" fill-opacity="0.62"/>
<circle cx="144.7" cy="411.8" r="1.45" fill="#e4545a" fill-opacity="0.62"/>
<circle cx="155.2" cy="362.2" r="1.45" fill="#e4545a" fill-opacity="0.62"/>
<circle cx="154.6" cy="406.5" r="1.45" fill="#e4545a" fill-opacity="0.62"/>
<circle cx="114.9" cy="432.0" r="1.45" fill="#e4545a" fill-opacity="0.62"/>
<circle cx="170.9" cy="391.3" r="1.45" fill="#e4545a" fill-opacity="0.62"/>
<circle cx="157.9" cy="387.4" r="1.45" fill="#e4545a" fill-opacity="0.62"/>
<circle cx="139.1" cy="455.7" r="1.45" fill="#e4545a" fill-opacity="0.62"/>
<circle cx="110.4" cy="437.4" r="1.45" fill="#e4545a" fill-opacity="0.62"/>
<circle cx="116.7" cy="416.1" r="1.45" fill="#e4545a" fill-opacity="0.62"/>
<circle cx="178.3" cy="449.4" r="1.45" fill="#e4545a" fill-opacity="0.62"/>
<circle cx="97.2" cy="446.9" r="1.45" fill="#e4545a" fill-opacity="0.62"/>
<circle cx="174.5" cy="457.3" r="1.45" fill="#e4545a" fill-opacity="0.62"/>
<circle cx="149.1" cy="359.4" r="1.45" fill="#e4545a" fill-opacity="0.62"/>
<circle cx="149.4" cy="379.0" r="1.45" fill="#e4545a" fill-opacity="0.62"/>
<circle cx="167.7" cy="371.5" r="1.45" fill="#e4545a" fill-opacity="0.62"/>
<circle cx="176.5" cy="430.2" r="1.45" fill="#e4545a" fill-opacity="0.62"/>
<circle cx="120.4" cy="458.7" r="1.45" fill="#e4545a" fill-opacity="0.62"/>
<circle cx="164.7" cy="459.8" r="1.45" fill="#e4545a" fill-opacity="0.62"/>
<circle cx="174.9" cy="439.1" r="1.45" fill="#e4545a" fill-opacity="0.62"/>
<circle cx="132.5" cy="381.7" r="1.45" fill="#e4545a" fill-opacity="0.62"/>
<circle cx="97.2" cy="443.3" r="1.45" fill="#e4545a" fill-opacity="0.62"/>
<circle cx="159.7" cy="454.0" r="1.45" fill="#e4545a" fill-opacity="0.62"/>
<circle cx="138.9" cy="452.7" r="1.45" fill="#e4545a" fill-opacity="0.62"/>
<circle cx="160.0" cy="419.4" r="1.45" fill="#e4545a" fill-opacity="0.62"/>
<circle cx="137.6" cy="457.6" r="1.45" fill="#e4545a" fill-opacity="0.62"/>
<circle cx="165.3" cy="377.4" r="1.45" fill="#e4545a" fill-opacity="0.62"/>
<circle cx="122.2" cy="438.5" r="1.45" fill="#e4545a" fill-opacity="0.62"/>
<circle cx="161.2" cy="370.0" r="1.45" fill="#e4545a" fill-opacity="0.62"/>
<circle cx="97.2" cy="453.4" r="1.45" fill="#e4545a" fill-opacity="0.62"/>
<circle cx="166.0" cy="430.7" r="1.45" fill="#e4545a" fill-opacity="0.62"/>
<circle cx="134.3" cy="440.0" r="1.45" fill="#e4545a" fill-opacity="0.62"/>
<circle cx="138.4" cy="455.6" r="1.45" fill="#e4545a" fill-opacity="0.62"/>
<circle cx="184.1" cy="458.1" r="1.45" fill="#e4545a" fill-opacity="0.62"/>
<circle cx="140.2" cy="433.3" r="1.45" fill="#e4545a" fill-opacity="0.62"/>
<circle cx="134.1" cy="448.6" r="1.45" fill="#e4545a" fill-opacity="0.62"/>
<circle cx="107.4" cy="450.8" r="1.45" fill="#e4545a" fill-opacity="0.62"/>
<circle cx="97.7" cy="459.5" r="1.45" fill="#e4545a" fill-opacity="0.62"/>
<circle cx="124.1" cy="438.4" r="1.45" fill="#e4545a" fill-opacity="0.62"/>
<circle cx="139.3" cy="394.0" r="1.45" fill="#e4545a" fill-opacity="0.62"/>
<circle cx="159.3" cy="428.7" r="1.45" fill="#e4545a" fill-opacity="0.62"/>
<circle cx="99.8" cy="438.8" r="1.45" fill="#e4545a" fill-opacity="0.62"/>
<circle cx="123.0" cy="446.7" r="1.45" fill="#e4545a" fill-opacity="0.62"/>
<circle cx="116.4" cy="447.0" r="1.45" fill="#e4545a" fill-opacity="0.62"/>
<circle cx="119.7" cy="433.4" r="1.45" fill="#e4545a" fill-opacity="0.62"/>
<circle cx="109.4" cy="451.5" r="1.45" fill="#e4545a" fill-opacity="0.62"/>
<circle cx="148.3" cy="351.8" r="1.45" fill="#e4545a" fill-opacity="0.62"/>
<circle cx="123.0" cy="405.1" r="1.45" fill="#e4545a" fill-opacity="0.62"/>
<circle cx="97.2" cy="458.0" r="1.45" fill="#e4545a" fill-opacity="0.62"/>
<circle cx="97.2" cy="442.8" r="1.45" fill="#e4545a" fill-opacity="0.62"/>
<circle cx="117.1" cy="458.7" r="1.45" fill="#e4545a" fill-opacity="0.62"/>
<circle cx="158.7" cy="459.0" r="1.45" fill="#e4545a" fill-opacity="0.62"/>
<circle cx="157.9" cy="452.1" r="1.45" fill="#e4545a" fill-opacity="0.62"/>
<circle cx="172.6" cy="411.4" r="1.45" fill="#e4545a" fill-opacity="0.62"/>
<circle cx="155.7" cy="363.4" r="1.45" fill="#e4545a" fill-opacity="0.62"/>
<circle cx="161.6" cy="410.8" r="1.45" fill="#e4545a" fill-opacity="0.62"/>
<circle cx="172.0" cy="457.8" r="1.45" fill="#e4545a" fill-opacity="0.62"/>
<circle cx="187.9" cy="457.6" r="1.45" fill="#e4545a" fill-opacity="0.62"/>
<circle cx="97.2" cy="438.2" r="1.45" fill="#e4545a" fill-opacity="0.62"/>
<circle cx="115.8" cy="416.4" r="1.45" fill="#e4545a" fill-opacity="0.62"/>
<circle cx="156.4" cy="376.8" r="1.45" fill="#e4545a" fill-opacity="0.62"/>
<circle cx="153.2" cy="425.5" r="1.45" fill="#e4545a" fill-opacity="0.62"/>
<circle cx="161.8" cy="446.0" r="1.45" fill="#e4545a" fill-opacity="0.62"/>
<circle cx="146.5" cy="395.3" r="1.45" fill="#e4545a" fill-opacity="0.62"/>
<circle cx="159.9" cy="459.7" r="1.45" fill="#e4545a" fill-opacity="0.62"/>
<circle cx="113.5" cy="459.8" r="1.45" fill="#e4545a" fill-opacity="0.62"/>
<circle cx="130.1" cy="449.8" r="1.45" fill="#e4545a" fill-opacity="0.62"/>
<circle cx="117.6" cy="459.5" r="1.45" fill="#e4545a" fill-opacity="0.62"/>
<circle cx="117.9" cy="412.3" r="1.45" fill="#e4545a" fill-opacity="0.62"/>
<circle cx="155.1" cy="458.2" r="1.45" fill="#e4545a" fill-opacity="0.62"/>
<circle cx="97.2" cy="457.9" r="1.45" fill="#e4545a" fill-opacity="0.62"/>
<circle cx="181.4" cy="455.4" r="1.45" fill="#e4545a" fill-opacity="0.62"/>
<circle cx="149.9" cy="457.3" r="1.45" fill="#e4545a" fill-opacity="0.62"/>
<circle cx="97.2" cy="443.6" r="1.45" fill="#e4545a" fill-opacity="0.62"/>
<circle cx="165.1" cy="452.2" r="1.45" fill="#e4545a" fill-opacity="0.62"/>
<circle cx="172.4" cy="433.1" r="1.45" fill="#e4545a" fill-opacity="0.62"/>
<circle cx="184.6" cy="436.6" r="1.45" fill="#e4545a" fill-opacity="0.62"/>
<circle cx="146.4" cy="401.0" r="1.45" fill="#e4545a" fill-opacity="0.62"/>
<circle cx="143.7" cy="436.9" r="1.45" fill="#e4545a" fill-opacity="0.62"/>
<circle cx="192.4" cy="446.0" r="1.45" fill="#e4545a" fill-opacity="0.62"/>
<circle cx="165.2" cy="394.9" r="1.45" fill="#e4545a" fill-opacity="0.62"/>
<circle cx="181.9" cy="459.5" r="1.45" fill="#e4545a" fill-opacity="0.62"/>
<circle cx="164.0" cy="382.7" r="1.45" fill="#e4545a" fill-opacity="0.62"/>
<circle cx="117.2" cy="444.5" r="1.45" fill="#e4545a" fill-opacity="0.62"/>
<circle cx="145.7" cy="357.0" r="1.45" fill="#e4545a" fill-opacity="0.62"/>
<circle cx="137.6" cy="429.2" r="1.45" fill="#e4545a" fill-opacity="0.62"/>
<circle cx="152.2" cy="451.8" r="1.45" fill="#e4545a" fill-opacity="0.62"/>
<circle cx="150.6" cy="459.4" r="1.45" fill="#e4545a" fill-opacity="0.62"/>
<circle cx="148.6" cy="454.0" r="1.45" fill="#e4545a" fill-opacity="0.62"/>
<circle cx="131.0" cy="409.7" r="1.45" fill="#e4545a" fill-opacity="0.62"/>
<circle cx="158.9" cy="449.0" r="1.45" fill="#e4545a" fill-opacity="0.62"/>
<circle cx="123.4" cy="451.5" r="1.45" fill="#e4545a" fill-opacity="0.62"/>
<circle cx="139.1" cy="459.7" r="1.45" fill="#e4545a" fill-opacity="0.62"/>
<circle cx="139.1" cy="400.5" r="1.45" fill="#e4545a" fill-opacity="0.62"/>
<circle cx="143.5" cy="422.4" r="1.45" fill="#e4545a" fill-opacity="0.62"/>
<circle cx="149.7" cy="352.9" r="1.45" fill="#e4545a" fill-opacity="0.62"/>
<circle cx="165.6" cy="458.4" r="1.45" fill="#e4545a" fill-opacity="0.62"/>
<circle cx="150.3" cy="427.8" r="1.45" fill="#e4545a" fill-opacity="0.62"/>
<circle cx="114.8" cy="429.7" r="1.45" fill="#e4545a" fill-opacity="0.62"/>
<circle cx="115.7" cy="438.1" r="1.45" fill="#e4545a" fill-opacity="0.62"/>
<circle cx="157.7" cy="348.0" r="1.45" fill="#e4545a" fill-opacity="0.62"/>
<circle cx="113.0" cy="439.6" r="1.45" fill="#e4545a" fill-opacity="0.62"/>
<circle cx="178.8" cy="434.7" r="1.45" fill="#e4545a" fill-opacity="0.62"/>
<circle cx="119.9" cy="459.6" r="1.45" fill="#e4545a" fill-opacity="0.62"/>
<circle cx="152.2" cy="457.3" r="1.45" fill="#e4545a" fill-opacity="0.62"/>
<circle cx="176.4" cy="454.9" r="1.45" fill="#e4545a" fill-opacity="0.62"/>
<circle cx="156.9" cy="456.1" r="1.45" fill="#e4545a" fill-opacity="0.62"/>
<circle cx="180.7" cy="417.9" r="1.45" fill="#e4545a" fill-opacity="0.62"/>
<circle cx="163.5" cy="411.5" r="1.45" fill="#e4545a" fill-opacity="0.62"/>
<circle cx="135.4" cy="450.3" r="1.45" fill="#e4545a" fill-opacity="0.62"/>
<circle cx="157.5" cy="433.3" r="1.45" fill="#e4545a" fill-opacity="0.62"/>
<circle cx="154.1" cy="450.3" r="1.45" fill="#e4545a" fill-opacity="0.62"/>
<circle cx="161.9" cy="360.3" r="1.45" fill="#e4545a" fill-opacity="0.62"/>
<circle cx="170.3" cy="454.0" r="1.45" fill="#e4545a" fill-opacity="0.62"/>
<circle cx="133.7" cy="373.2" r="1.45" fill="#e4545a" fill-opacity="0.62"/>
<circle cx="130.5" cy="459.8" r="1.45" fill="#e4545a" fill-opacity="0.62"/>
<circle cx="161.1" cy="442.3" r="1.45" fill="#e4545a" fill-opacity="0.62"/>
<circle cx="109.8" cy="458.2" r="1.45" fill="#e4545a" fill-opacity="0.62"/>
<circle cx="143.8" cy="428.1" r="1.45" fill="#e4545a" fill-opacity="0.62"/>
<circle cx="158.8" cy="458.6" r="1.45" fill="#e4545a" fill-opacity="0.62"/>
<circle cx="139.7" cy="440.8" r="1.45" fill="#e4545a" fill-opacity="0.62"/>
<circle cx="144.3" cy="447.6" r="1.45" fill="#e4545a" fill-opacity="0.62"/>
<circle cx="140.5" cy="452.9" r="1.45" fill="#e4545a" fill-opacity="0.62"/>
<circle cx="112.6" cy="437.5" r="1.45" fill="#e4545a" fill-opacity="0.62"/>
<circle cx="123.3" cy="431.8" r="1.45" fill="#e4545a" fill-opacity="0.62"/>
<circle cx="128.1" cy="447.1" r="1.45" fill="#e4545a" fill-opacity="0.62"/>
<circle cx="97.2" cy="457.0" r="1.45" fill="#e4545a" fill-opacity="0.62"/>
<circle cx="153.3" cy="394.4" r="1.45" fill="#e4545a" fill-opacity="0.62"/>
<circle cx="137.7" cy="415.0" r="1.45" fill="#e4545a" fill-opacity="0.62"/>
<circle cx="185.1" cy="423.8" r="1.45" fill="#e4545a" fill-opacity="0.62"/>
<circle cx="152.1" cy="409.7" r="1.45" fill="#e4545a" fill-opacity="0.62"/>
<circle cx="134.4" cy="457.6" r="1.45" fill="#e4545a" fill-opacity="0.62"/>
<circle cx="97.2" cy="452.9" r="1.45" fill="#e4545a" fill-opacity="0.62"/>
<circle cx="97.2" cy="444.1" r="1.45" fill="#e4545a" fill-opacity="0.62"/>
<circle cx="137.8" cy="387.5" r="1.45" fill="#e4545a" fill-opacity="0.62"/>
<circle cx="97.2" cy="448.3" r="1.45" fill="#e4545a" fill-opacity="0.62"/>
<circle cx="112.3" cy="440.8" r="1.45" fill="#e4545a" fill-opacity="0.62"/>
<circle cx="139.9" cy="457.4" r="1.45" fill="#e4545a" fill-opacity="0.62"/>
<circle cx="145.4" cy="442.7" r="1.45" fill="#e4545a" fill-opacity="0.62"/>
<circle cx="176.9" cy="438.5" r="1.45" fill="#e4545a" fill-opacity="0.62"/>
<circle cx="168.4" cy="422.8" r="1.45" fill="#e4545a" fill-opacity="0.62"/>
<circle cx="112.4" cy="450.0" r="1.45" fill="#e4545a" fill-opacity="0.62"/>
<circle cx="112.0" cy="459.8" r="1.45" fill="#e4545a" fill-opacity="0.62"/>
<circle cx="151.4" cy="426.9" r="1.45" fill="#e4545a" fill-opacity="0.62"/>
<circle cx="99.2" cy="452.3" r="1.45" fill="#e4545a" fill-opacity="0.62"/>
<circle cx="134.1" cy="407.3" r="1.45" fill="#e4545a" fill-opacity="0.62"/>
<circle cx="131.3" cy="453.6" r="1.45" fill="#e4545a" fill-opacity="0.62"/>
<circle cx="156.7" cy="395.5" r="1.45" fill="#e4545a" fill-opacity="0.62"/>
<circle cx="148.0" cy="453.8" r="1.45" fill="#e4545a" fill-opacity="0.62"/>
<circle cx="134.7" cy="434.8" r="1.45" fill="#e4545a" fill-opacity="0.62"/>
<circle cx="97.2" cy="456.0" r="1.45" fill="#e4545a" fill-opacity="0.62"/>
<circle cx="101.3" cy="444.2" r="1.45" fill="#e4545a" fill-opacity="0.62"/>
<circle cx="144.1" cy="413.1" r="1.45" fill="#e4545a" fill-opacity="0.62"/>
<circle cx="132.8" cy="457.4" r="1.45" fill="#e4545a" fill-opacity="0.62"/>
<circle cx="131.2" cy="453.5" r="1.45" fill="#e4545a" fill-opacity="0.62"/>
<circle cx="138.2" cy="424.0" r="1.45" fill="#e4545a" fill-opacity="0.62"/>
<circle cx="117.7" cy="459.8" r="1.45" fill="#e4545a" fill-opacity="0.62"/>
<circle cx="157.6" cy="405.4" r="1.45" fill="#e4545a" fill-opacity="0.62"/>
<circle cx="146.5" cy="400.3" r="1.45" fill="#e4545a" fill-opacity="0.62"/>
<circle cx="129.7" cy="436.8" r="1.45" fill="#e4545a" fill-opacity="0.62"/>
<circle cx="120.5" cy="447.0" r="1.45" fill="#e4545a" fill-opacity="0.62"/>
<circle cx="126.8" cy="401.7" r="1.45" fill="#e4545a" fill-opacity="0.62"/>
<circle cx="141.8" cy="454.5" r="1.45" fill="#e4545a" fill-opacity="0.62"/>
<circle cx="197.5" cy="459.8" r="1.45" fill="#e4545a" fill-opacity="0.62"/>
<circle cx="131.0" cy="440.5" r="1.45" fill="#e4545a" fill-opacity="0.62"/>
<circle cx="167.2" cy="439.4" r="1.45" fill="#e4545a" fill-opacity="0.62"/>
<circle cx="97.2" cy="457.9" r="1.45" fill="#e4545a" fill-opacity="0.62"/>
<circle cx="154.2" cy="453.6" r="1.45" fill="#e4545a" fill-opacity="0.62"/>
<circle cx="197.9" cy="450.1" r="1.45" fill="#e4545a" fill-opacity="0.62"/>
<circle cx="158.4" cy="355.4" r="1.45" fill="#e4545a" fill-opacity="0.62"/>
<circle cx="162.9" cy="457.5" r="1.45" fill="#e4545a" fill-opacity="0.62"/>
<circle cx="151.9" cy="363.1" r="1.45" fill="#e4545a" fill-opacity="0.62"/>
<circle cx="112.0" cy="440.6" r="1.45" fill="#e4545a" fill-opacity="0.62"/>
<circle cx="145.4" cy="429.7" r="1.45" fill="#e4545a" fill-opacity="0.62"/>
<circle cx="192.4" cy="459.8" r="1.45" fill="#e4545a" fill-opacity="0.62"/>
<circle cx="168.3" cy="440.1" r="1.45" fill="#e4545a" fill-opacity="0.62"/>
<circle cx="139.8" cy="448.6" r="1.45" fill="#e4545a" fill-opacity="0.62"/>
<circle cx="153.7" cy="446.3" r="1.45" fill="#e4545a" fill-opacity="0.62"/>
<circle cx="157.0" cy="375.9" r="1.45" fill="#e4545a" fill-opacity="0.62"/>
<circle cx="181.0" cy="421.3" r="1.45" fill="#e4545a" fill-opacity="0.62"/>
<circle cx="139.6" cy="457.9" r="1.45" fill="#e4545a" fill-opacity="0.62"/>
<circle cx="174.7" cy="401.6" r="1.45" fill="#e4545a" fill-opacity="0.62"/>
<circle cx="121.4" cy="454.4" r="1.45" fill="#e4545a" fill-opacity="0.62"/>
<circle cx="121.6" cy="402.2" r="1.45" fill="#e4545a" fill-opacity="0.62"/>
<circle cx="157.2" cy="417.2" r="1.45" fill="#e4545a" fill-opacity="0.62"/>
<circle cx="122.1" cy="454.7" r="1.45" fill="#e4545a" fill-opacity="0.62"/>
<circle cx="159.5" cy="459.4" r="1.45" fill="#e4545a" fill-opacity="0.62"/>
<circle cx="177.4" cy="454.0" r="1.45" fill="#e4545a" fill-opacity="0.62"/>
<circle cx="167.6" cy="378.7" r="1.45" fill="#e4545a" fill-opacity="0.62"/>
<circle cx="139.2" cy="429.9" r="1.45" fill="#e4545a" fill-opacity="0.62"/>
<circle cx="158.9" cy="455.0" r="1.45" fill="#e4545a" fill-opacity="0.62"/>
<circle cx="97.2" cy="441.0" r="1.45" fill="#e4545a" fill-opacity="0.62"/>
<circle cx="184.0" cy="428.2" r="1.45" fill="#e4545a" fill-opacity="0.62"/>
<circle cx="101.3" cy="436.8" r="1.45" fill="#e4545a" fill-opacity="0.62"/>
<circle cx="98.3" cy="452.0" r="1.45" fill="#e4545a" fill-opacity="0.62"/>
<circle cx="137.6" cy="402.6" r="1.45" fill="#e4545a" fill-opacity="0.62"/>
<circle cx="131.2" cy="441.0" r="1.45" fill="#e4545a" fill-opacity="0.62"/>
<circle cx="139.7" cy="449.7" r="1.45" fill="#e4545a" fill-opacity="0.62"/>
<circle cx="102.9" cy="459.7" r="1.45" fill="#e4545a" fill-opacity="0.62"/>
<circle cx="150.9" cy="430.6" r="1.45" fill="#e4545a" fill-opacity="0.62"/>
<circle cx="133.3" cy="447.8" r="1.45" fill="#e4545a" fill-opacity="0.62"/>
<circle cx="126.9" cy="390.6" r="1.45" fill="#e4545a" fill-opacity="0.62"/>
<circle cx="178.5" cy="455.1" r="1.45" fill="#e4545a" fill-opacity="0.62"/>
<circle cx="127.3" cy="435.6" r="1.45" fill="#e4545a" fill-opacity="0.62"/>
<circle cx="121.4" cy="450.0" r="1.45" fill="#e4545a" fill-opacity="0.62"/>
<circle cx="146.5" cy="453.7" r="1.45" fill="#e4545a" fill-opacity="0.62"/>
<circle cx="152.1" cy="359.2" r="1.45" fill="#e4545a" fill-opacity="0.62"/>
<circle cx="121.4" cy="412.5" r="1.45" fill="#e4545a" fill-opacity="0.62"/>
<circle cx="139.4" cy="352.7" r="1.45" fill="#e4545a" fill-opacity="0.62"/>
<circle cx="126.0" cy="456.8" r="1.45" fill="#e4545a" fill-opacity="0.62"/>
<circle cx="143.4" cy="458.6" r="1.45" fill="#e4545a" fill-opacity="0.62"/>
<circle cx="133.1" cy="453.8" r="1.45" fill="#e4545a" fill-opacity="0.62"/>
<circle cx="148.3" cy="450.5" r="1.45" fill="#e4545a" fill-opacity="0.62"/>
<circle cx="97.2" cy="446.1" r="1.45" fill="#e4545a" fill-opacity="0.62"/>
<circle cx="116.8" cy="451.1" r="1.45" fill="#e4545a" fill-opacity="0.62"/>
<circle cx="112.8" cy="453.7" r="1.45" fill="#e4545a" fill-opacity="0.62"/>
<circle cx="154.9" cy="444.6" r="1.45" fill="#e4545a" fill-opacity="0.62"/>
<circle cx="157.9" cy="351.4" r="1.45" fill="#e4545a" fill-opacity="0.62"/>
<circle cx="146.8" cy="457.5" r="1.45" fill="#e4545a" fill-opacity="0.62"/>
<circle cx="103.7" cy="438.9" r="1.45" fill="#e4545a" fill-opacity="0.62"/>
<circle cx="138.3" cy="454.1" r="1.45" fill="#e4545a" fill-opacity="0.62"/>
<circle cx="136.6" cy="442.2" r="1.45" fill="#e4545a" fill-opacity="0.62"/>
<circle cx="157.9" cy="435.0" r="1.45" fill="#e4545a" fill-opacity="0.62"/>
<circle cx="185.9" cy="426.6" r="1.45" fill="#e4545a" fill-opacity="0.62"/>
<circle cx="125.2" cy="459.8" r="1.45" fill="#e4545a" fill-opacity="0.62"/>
<circle cx="177.8" cy="409.5" r="1.45" fill="#e4545a" fill-opacity="0.62"/>
<circle cx="147.1" cy="430.8" r="1.45" fill="#e4545a" fill-opacity="0.62"/>
<circle cx="138.7" cy="441.9" r="1.45" fill="#e4545a" fill-opacity="0.62"/>
<circle cx="138.9" cy="367.7" r="1.45" fill="#e4545a" fill-opacity="0.62"/>
<circle cx="161.7" cy="357.8" r="1.45" fill="#e4545a" fill-opacity="0.62"/>
<circle cx="97.2" cy="458.1" r="1.45" fill="#e4545a" fill-opacity="0.62"/>
<circle cx="150.4" cy="424.4" r="1.45" fill="#e4545a" fill-opacity="0.62"/>
<circle cx="148.3" cy="401.3" r="1.45" fill="#e4545a" fill-opacity="0.62"/>
<circle cx="176.6" cy="431.2" r="1.45" fill="#e4545a" fill-opacity="0.62"/>
<circle cx="124.6" cy="420.2" r="1.45" fill="#e4545a" fill-opacity="0.62"/>
<circle cx="127.5" cy="451.6" r="1.45" fill="#e4545a" fill-opacity="0.62"/>
<circle cx="98.4" cy="443.2" r="1.45" fill="#e4545a" fill-opacity="0.62"/>
<circle cx="109.8" cy="440.0" r="1.45" fill="#e4545a" fill-opacity="0.62"/>
<circle cx="144.6" cy="456.8" r="1.45" fill="#e4545a" fill-opacity="0.62"/>
<circle cx="103.0" cy="456.8" r="1.45" fill="#e4545a" fill-opacity="0.62"/>
<circle cx="143.8" cy="449.3" r="1.45" fill="#e4545a" fill-opacity="0.62"/>
<circle cx="102.1" cy="459.4" r="1.45" fill="#e4545a" fill-opacity="0.62"/>
<circle cx="133.4" cy="451.2" r="1.45" fill="#e4545a" fill-opacity="0.62"/>
<circle cx="121.7" cy="457.6" r="1.45" fill="#e4545a" fill-opacity="0.62"/>
<circle cx="140.4" cy="459.8" r="1.45" fill="#e4545a" fill-opacity="0.62"/>
<circle cx="114.8" cy="453.0" r="1.45" fill="#e4545a" fill-opacity="0.62"/>
<circle cx="176.6" cy="452.8" r="1.45" fill="#e4545a" fill-opacity="0.62"/>
<circle cx="168.6" cy="455.0" r="1.45" fill="#e4545a" fill-opacity="0.62"/>
<circle cx="109.9" cy="457.0" r="1.45" fill="#e4545a" fill-opacity="0.62"/>
<circle cx="176.7" cy="451.8" r="1.45" fill="#e4545a" fill-opacity="0.62"/>
<circle cx="115.3" cy="459.7" r="1.45" fill="#e4545a" fill-opacity="0.62"/>
<circle cx="131.1" cy="448.9" r="1.45" fill="#e4545a" fill-opacity="0.62"/>
<circle cx="124.3" cy="457.1" r="1.45" fill="#e4545a" fill-opacity="0.62"/>
<circle cx="146.7" cy="444.2" r="1.45" fill="#e4545a" fill-opacity="0.62"/>
<circle cx="109.4" cy="459.7" r="1.45" fill="#e4545a" fill-opacity="0.62"/>
<circle cx="117.7" cy="454.0" r="1.45" fill="#e4545a" fill-opacity="0.62"/>
<circle cx="148.2" cy="458.3" r="1.45" fill="#e4545a" fill-opacity="0.62"/>
<circle cx="159.6" cy="449.7" r="1.45" fill="#e4545a" fill-opacity="0.62"/>
<circle cx="131.7" cy="458.0" r="1.45" fill="#e4545a" fill-opacity="0.62"/>
<circle cx="177.7" cy="457.5" r="1.45" fill="#e4545a" fill-opacity="0.62"/>
<circle cx="162.0" cy="458.1" r="1.45" fill="#e4545a" fill-opacity="0.62"/>
<circle cx="109.0" cy="444.8" r="1.45" fill="#e4545a" fill-opacity="0.62"/>
<circle cx="114.3" cy="439.5" r="1.45" fill="#e4545a" fill-opacity="0.62"/>
<circle cx="130.9" cy="458.2" r="1.45" fill="#e4545a" fill-opacity="0.62"/>
<circle cx="109.1" cy="453.7" r="1.45" fill="#e4545a" fill-opacity="0.62"/>
<circle cx="146.5" cy="443.5" r="1.45" fill="#e4545a" fill-opacity="0.62"/>
<circle cx="104.1" cy="454.1" r="1.45" fill="#e4545a" fill-opacity="0.62"/>
<circle cx="108.4" cy="438.0" r="1.45" fill="#e4545a" fill-opacity="0.62"/>
<circle cx="103.8" cy="459.5" r="1.45" fill="#e4545a" fill-opacity="0.62"/>
<circle cx="99.4" cy="453.9" r="1.45" fill="#e4545a" fill-opacity="0.62"/>
<circle cx="170.1" cy="447.8" r="1.45" fill="#e4545a" fill-opacity="0.62"/>
<circle cx="153.1" cy="443.1" r="1.45" fill="#e4545a" fill-opacity="0.62"/>
<circle cx="173.6" cy="457.2" r="1.45" fill="#e4545a" fill-opacity="0.62"/>
<circle cx="106.6" cy="439.0" r="1.45" fill="#e4545a" fill-opacity="0.62"/>
<circle cx="154.5" cy="459.7" r="1.45" fill="#e4545a" fill-opacity="0.62"/>
<circle cx="146.5" cy="455.7" r="1.45" fill="#e4545a" fill-opacity="0.62"/>
<circle cx="120.5" cy="455.8" r="1.45" fill="#e4545a" fill-opacity="0.62"/>
<circle cx="105.5" cy="459.8" r="1.45" fill="#e4545a" fill-opacity="0.62"/>
<circle cx="113.2" cy="455.2" r="1.45" fill="#e4545a" fill-opacity="0.62"/>
<circle cx="176.2" cy="459.2" r="1.45" fill="#e4545a" fill-opacity="0.62"/>
<circle cx="177.1" cy="458.5" r="1.45" fill="#e4545a" fill-opacity="0.62"/>
<circle cx="119.1" cy="444.0" r="1.45" fill="#e4545a" fill-opacity="0.62"/>
<circle cx="162.2" cy="455.4" r="1.45" fill="#e4545a" fill-opacity="0.62"/>
<circle cx="98.9" cy="452.0" r="1.45" fill="#e4545a" fill-opacity="0.62"/>
<circle cx="120.4" cy="441.2" r="1.45" fill="#e4545a" fill-opacity="0.62"/>
<circle cx="107.1" cy="454.8" r="1.45" fill="#e4545a" fill-opacity="0.62"/>
<circle cx="170.0" cy="459.7" r="1.45" fill="#e4545a" fill-opacity="0.62"/>
<circle cx="123.6" cy="444.7" r="1.45" fill="#e4545a" fill-opacity="0.62"/>
<circle cx="156.5" cy="459.7" r="1.45" fill="#e4545a" fill-opacity="0.62"/>
<circle cx="98.3" cy="459.4" r="1.45" fill="#e4545a" fill-opacity="0.62"/>
<circle cx="172.4" cy="458.0" r="1.45" fill="#e4545a" fill-opacity="0.62"/>
<circle cx="154.6" cy="445.7" r="1.45" fill="#e4545a" fill-opacity="0.62"/>
<circle cx="117.7" cy="456.8" r="1.45" fill="#e4545a" fill-opacity="0.62"/>
<circle cx="176.4" cy="453.2" r="1.45" fill="#e4545a" fill-opacity="0.62"/>
<circle cx="111.9" cy="446.3" r="1.45" fill="#e4545a" fill-opacity="0.62"/>
<circle cx="116.0" cy="456.7" r="1.45" fill="#e4545a" fill-opacity="0.62"/>
<circle cx="97.2" cy="443.9" r="1.45" fill="#e4545a" fill-opacity="0.62"/>
<circle cx="172.0" cy="452.6" r="1.45" fill="#e4545a" fill-opacity="0.62"/>
<circle cx="174.9" cy="459.7" r="1.45" fill="#e4545a" fill-opacity="0.62"/>
<circle cx="109.9" cy="452.4" r="1.45" fill="#e4545a" fill-opacity="0.62"/>
<circle cx="176.3" cy="447.1" r="1.45" fill="#e4545a" fill-opacity="0.62"/>
<circle cx="121.5" cy="457.2" r="1.45" fill="#e4545a" fill-opacity="0.62"/>
<circle cx="125.2" cy="452.7" r="1.45" fill="#e4545a" fill-opacity="0.62"/>
<circle cx="173.3" cy="458.7" r="1.45" fill="#e4545a" fill-opacity="0.62"/>
<circle cx="160.2" cy="449.8" r="1.45" fill="#e4545a" fill-opacity="0.62"/>
<circle cx="162.2" cy="449.3" r="1.45" fill="#e4545a" fill-opacity="0.62"/>
<circle cx="141.0" cy="456.4" r="1.45" fill="#e4545a" fill-opacity="0.62"/>
<circle cx="116.2" cy="455.1" r="1.45" fill="#e4545a" fill-opacity="0.62"/>
<circle cx="158.1" cy="459.4" r="1.45" fill="#e4545a" fill-opacity="0.62"/>
<circle cx="107.4" cy="444.9" r="1.45" fill="#e4545a" fill-opacity="0.62"/>
<circle cx="110.8" cy="459.4" r="1.45" fill="#e4545a" fill-opacity="0.62"/>
<circle cx="98.2" cy="449.9" r="1.45" fill="#e4545a" fill-opacity="0.62"/>
<circle cx="116.7" cy="438.9" r="1.45" fill="#e4545a" fill-opacity="0.62"/>
<circle cx="168.5" cy="445.4" r="1.45" fill="#e4545a" fill-opacity="0.62"/>
<circle cx="112.1" cy="459.3" r="1.45" fill="#e4545a" fill-opacity="0.62"/>
<circle cx="101.2" cy="451.5" r="1.45" fill="#e4545a" fill-opacity="0.62"/>
<circle cx="150.9" cy="454.7" r="1.45" fill="#e4545a" fill-opacity="0.62"/>
<circle cx="109.9" cy="453.8" r="1.45" fill="#e4545a" fill-opacity="0.62"/>
<circle cx="142.2" cy="449.7" r="1.45" fill="#e4545a" fill-opacity="0.62"/>
<circle cx="154.7" cy="446.9" r="1.45" fill="#e4545a" fill-opacity="0.62"/>
<circle cx="146.5" cy="459.1" r="1.45" fill="#e4545a" fill-opacity="0.62"/>
<circle cx="164.1" cy="457.4" r="1.45" fill="#e4545a" fill-opacity="0.62"/>
<circle cx="137.3" cy="455.5" r="1.45" fill="#e4545a" fill-opacity="0.62"/>
<circle cx="153.7" cy="458.3" r="1.45" fill="#e4545a" fill-opacity="0.62"/>
<circle cx="110.8" cy="457.1" r="1.45" fill="#e4545a" fill-opacity="0.62"/>
<circle cx="104.5" cy="440.5" r="1.45" fill="#e4545a" fill-opacity="0.62"/>
<circle cx="138.3" cy="456.3" r="1.45" fill="#e4545a" fill-opacity="0.62"/>
<circle cx="122.3" cy="439.2" r="1.45" fill="#e4545a" fill-opacity="0.62"/>
<circle cx="131.9" cy="457.6" r="1.45" fill="#e4545a" fill-opacity="0.62"/>
<circle cx="160.8" cy="451.5" r="1.45" fill="#e4545a" fill-opacity="0.62"/>
<circle cx="180.0" cy="459.4" r="1.45" fill="#e4545a" fill-opacity="0.62"/>
<circle cx="129.0" cy="445.0" r="1.45" fill="#e4545a" fill-opacity="0.62"/>
<circle cx="164.1" cy="446.5" r="1.45" fill="#e4545a" fill-opacity="0.62"/>
<circle cx="98.5" cy="456.0" r="1.45" fill="#e4545a" fill-opacity="0.62"/>
<circle cx="102.5" cy="457.9" r="1.45" fill="#e4545a" fill-opacity="0.62"/>
<circle cx="178.1" cy="453.8" r="1.45" fill="#e4545a" fill-opacity="0.62"/>
<circle cx="173.5" cy="456.6" r="1.45" fill="#e4545a" fill-opacity="0.62"/>
<circle cx="166.7" cy="455.3" r="1.45" fill="#e4545a" fill-opacity="0.62"/>
<circle cx="111.7" cy="444.6" r="1.45" fill="#e4545a" fill-opacity="0.62"/>
<circle cx="175.1" cy="459.3" r="1.45" fill="#e4545a" fill-opacity="0.62"/>
<circle cx="140.0" cy="450.8" r="1.45" fill="#e4545a" fill-opacity="0.62"/>
<circle cx="108.7" cy="454.7" r="1.45" fill="#e4545a" fill-opacity="0.62"/>
<circle cx="103.8" cy="457.7" r="1.45" fill="#e4545a" fill-opacity="0.62"/>
<circle cx="111.4" cy="449.5" r="1.45" fill="#e4545a" fill-opacity="0.62"/>
<circle cx="145.2" cy="458.2" r="1.45" fill="#e4545a" fill-opacity="0.62"/>
<circle cx="97.4" cy="455.3" r="1.45" fill="#e4545a" fill-opacity="0.62"/>
<circle cx="147.8" cy="458.4" r="1.45" fill="#e4545a" fill-opacity="0.62"/>
<circle cx="115.6" cy="457.8" r="1.45" fill="#e4545a" fill-opacity="0.62"/>
<circle cx="159.4" cy="453.4" r="1.45" fill="#e4545a" fill-opacity="0.62"/>
<circle cx="99.5" cy="459.0" r="1.45" fill="#e4545a" fill-opacity="0.62"/>
<circle cx="122.3" cy="451.3" r="1.45" fill="#e4545a" fill-opacity="0.62"/>
<circle cx="144.0" cy="459.3" r="1.45" fill="#e4545a" fill-opacity="0.62"/>
<circle cx="105.2" cy="446.4" r="1.45" fill="#e4545a" fill-opacity="0.62"/>
<circle cx="123.5" cy="456.7" r="1.45" fill="#e4545a" fill-opacity="0.62"/>
<circle cx="115.3" cy="439.6" r="1.45" fill="#e4545a" fill-opacity="0.62"/>
<circle cx="115.7" cy="450.5" r="1.45" fill="#e4545a" fill-opacity="0.62"/>
<circle cx="119.2" cy="454.1" r="1.45" fill="#e4545a" fill-opacity="0.62"/>
<circle cx="166.5" cy="444.9" r="1.45" fill="#e4545a" fill-opacity="0.62"/>
<circle cx="119.7" cy="457.9" r="1.45" fill="#e4545a" fill-opacity="0.62"/>
<circle cx="152.7" cy="458.3" r="1.45" fill="#e4545a" fill-opacity="0.62"/>
<circle cx="97.3" cy="439.1" r="1.45" fill="#e4545a" fill-opacity="0.62"/>
<circle cx="124.6" cy="444.6" r="1.45" fill="#e4545a" fill-opacity="0.62"/>
<circle cx="123.2" cy="442.6" r="1.45" fill="#e4545a" fill-opacity="0.62"/>
<circle cx="127.8" cy="458.5" r="1.45" fill="#e4545a" fill-opacity="0.62"/>
<circle cx="97.5" cy="449.9" r="1.45" fill="#e4545a" fill-opacity="0.62"/>
<circle cx="144.2" cy="444.3" r="1.45" fill="#e4545a" fill-opacity="0.62"/>
<circle cx="100.8" cy="448.2" r="1.45" fill="#e4545a" fill-opacity="0.62"/>
<circle cx="120.3" cy="452.2" r="1.45" fill="#e4545a" fill-opacity="0.62"/>
<circle cx="104.1" cy="456.3" r="1.45" fill="#e4545a" fill-opacity="0.62"/>
<circle cx="133.1" cy="442.5" r="1.45" fill="#e4545a" fill-opacity="0.62"/>
<circle cx="101.9" cy="451.7" r="1.45" fill="#e4545a" fill-opacity="0.62"/>
<circle cx="160.4" cy="444.8" r="1.45" fill="#e4545a" fill-opacity="0.62"/>
<circle cx="107.4" cy="458.8" r="1.45" fill="#e4545a" fill-opacity="0.62"/>
<circle cx="174.9" cy="446.5" r="1.45" fill="#e4545a" fill-opacity="0.62"/>
<circle cx="129.7" cy="459.6" r="1.45" fill="#e4545a" fill-opacity="0.62"/>
<circle cx="173.1" cy="456.4" r="1.45" fill="#e4545a" fill-opacity="0.62"/>
<circle cx="170.7" cy="452.8" r="1.45" fill="#e4545a" fill-opacity="0.62"/>
<circle cx="162.4" cy="458.8" r="1.45" fill="#e4545a" fill-opacity="0.62"/>
<circle cx="158.5" cy="458.1" r="1.45" fill="#e4545a" fill-opacity="0.62"/>
<circle cx="123.0" cy="443.7" r="1.45" fill="#e4545a" fill-opacity="0.62"/>
<circle cx="162.9" cy="458.6" r="1.45" fill="#e4545a" fill-opacity="0.62"/>
<circle cx="108.8" cy="454.1" r="1.45" fill="#e4545a" fill-opacity="0.62"/>
<circle cx="132.8" cy="455.2" r="1.45" fill="#e4545a" fill-opacity="0.62"/>
<circle cx="102.7" cy="456.9" r="1.45" fill="#e4545a" fill-opacity="0.62"/>
<circle cx="152.4" cy="445.5" r="1.45" fill="#e4545a" fill-opacity="0.62"/>
<circle cx="98.5" cy="449.7" r="1.45" fill="#e4545a" fill-opacity="0.62"/>
<circle cx="155.6" cy="459.7" r="1.45" fill="#e4545a" fill-opacity="0.62"/>
<circle cx="163.8" cy="459.2" r="1.45" fill="#e4545a" fill-opacity="0.62"/>
<circle cx="140.3" cy="452.3" r="1.45" fill="#e4545a" fill-opacity="0.62"/>
<circle cx="142.9" cy="456.7" r="1.45" fill="#e4545a" fill-opacity="0.62"/>
<circle cx="124.3" cy="450.7" r="1.45" fill="#e4545a" fill-opacity="0.62"/>
<circle cx="124.8" cy="448.8" r="1.45" fill="#e4545a" fill-opacity="0.62"/>
<circle cx="126.6" cy="453.9" r="1.45" fill="#e4545a" fill-opacity="0.62"/>
<circle cx="97.8" cy="448.1" r="1.45" fill="#e4545a" fill-opacity="0.62"/>
<circle cx="130.3" cy="457.5" r="1.45" fill="#e4545a" fill-opacity="0.62"/>
<circle cx="156.2" cy="448.6" r="1.45" fill="#e4545a" fill-opacity="0.62"/>
<circle cx="127.6" cy="458.3" r="1.45" fill="#e4545a" fill-opacity="0.62"/>
<circle cx="128.9" cy="459.1" r="1.45" fill="#e4545a" fill-opacity="0.62"/>
<circle cx="103.0" cy="453.2" r="1.45" fill="#e4545a" fill-opacity="0.62"/>
<circle cx="100.9" cy="452.8" r="1.45" fill="#e4545a" fill-opacity="0.62"/>
<circle cx="132.1" cy="459.6" r="1.45" fill="#e4545a" fill-opacity="0.62"/>
<circle cx="143.8" cy="459.4" r="1.45" fill="#e4545a" fill-opacity="0.62"/>
<circle cx="153.2" cy="448.3" r="1.45" fill="#e4545a" fill-opacity="0.62"/>
<circle cx="132.3" cy="459.6" r="1.45" fill="#e4545a" fill-opacity="0.62"/>
<circle cx="131.6" cy="455.2" r="1.45" fill="#e4545a" fill-opacity="0.62"/>
<circle cx="175.7" cy="459.1" r="1.45" fill="#e4545a" fill-opacity="0.62"/>
<circle cx="165.8" cy="444.8" r="1.45" fill="#e4545a" fill-opacity="0.62"/>
<circle cx="153.1" cy="447.5" r="1.45" fill="#e4545a" fill-opacity="0.62"/>
<circle cx="107.1" cy="437.6" r="1.45" fill="#e4545a" fill-opacity="0.62"/>
<circle cx="130.5" cy="441.3" r="1.45" fill="#e4545a" fill-opacity="0.62"/>
<circle cx="172.0" cy="458.8" r="1.45" fill="#e4545a" fill-opacity="0.62"/>
<circle cx="158.7" cy="445.5" r="1.45" fill="#e4545a" fill-opacity="0.62"/>
<circle cx="99.6" cy="454.8" r="1.45" fill="#e4545a" fill-opacity="0.62"/>
<circle cx="155.5" cy="458.8" r="1.45" fill="#e4545a" fill-opacity="0.62"/>
<circle cx="169.9" cy="457.7" r="1.45" fill="#e4545a" fill-opacity="0.62"/>
<circle cx="161.5" cy="459.0" r="1.45" fill="#e4545a" fill-opacity="0.62"/>
<circle cx="131.4" cy="442.5" r="1.45" fill="#e4545a" fill-opacity="0.62"/>
<circle cx="108.1" cy="456.7" r="1.45" fill="#e4545a" fill-opacity="0.62"/>
<circle cx="131.8" cy="456.3" r="1.45" fill="#e4545a" fill-opacity="0.62"/>
<circle cx="98.3" cy="457.9" r="1.45" fill="#e4545a" fill-opacity="0.62"/>
<circle cx="105.0" cy="438.8" r="1.45" fill="#e4545a" fill-opacity="0.62"/>
<circle cx="147.9" cy="445.0" r="1.45" fill="#e4545a" fill-opacity="0.62"/>
<circle cx="105.5" cy="443.8" r="1.45" fill="#e4545a" fill-opacity="0.62"/>
<circle cx="102.2" cy="450.7" r="1.45" fill="#e4545a" fill-opacity="0.62"/>
<circle cx="143.8" cy="455.9" r="1.45" fill="#e4545a" fill-opacity="0.62"/>
<circle cx="167.4" cy="453.7" r="1.45" fill="#e4545a" fill-opacity="0.62"/>
<circle cx="138.5" cy="444.3" r="1.45" fill="#e4545a" fill-opacity="0.62"/>
<circle cx="101.6" cy="436.5" r="1.45" fill="#e4545a" fill-opacity="0.62"/>
<circle cx="143.1" cy="455.3" r="1.45" fill="#e4545a" fill-opacity="0.62"/>
<circle cx="159.7" cy="457.6" r="1.45" fill="#e4545a" fill-opacity="0.62"/>
<circle cx="180.0" cy="454.0" r="1.45" fill="#e4545a" fill-opacity="0.62"/>
<circle cx="119.4" cy="445.6" r="1.45" fill="#e4545a" fill-opacity="0.62"/>
<circle cx="126.2" cy="458.3" r="1.45" fill="#e4545a" fill-opacity="0.62"/>
<circle cx="154.2" cy="459.6" r="1.45" fill="#e4545a" fill-opacity="0.62"/>
<circle cx="161.9" cy="457.8" r="1.45" fill="#e4545a" fill-opacity="0.62"/>
<circle cx="144.0" cy="442.3" r="1.45" fill="#e4545a" fill-opacity="0.62"/>
<circle cx="139.0" cy="449.7" r="1.45" fill="#e4545a" fill-opacity="0.62"/>
<circle cx="115.7" cy="459.8" r="1.45" fill="#e4545a" fill-opacity="0.62"/>
<circle cx="98.2" cy="458.4" r="1.45" fill="#e4545a" fill-opacity="0.62"/>
<circle cx="141.8" cy="454.6" r="1.45" fill="#e4545a" fill-opacity="0.62"/>
<circle cx="132.4" cy="443.3" r="1.45" fill="#e4545a" fill-opacity="0.62"/>
<circle cx="103.2" cy="457.3" r="1.45" fill="#e4545a" fill-opacity="0.62"/>
<circle cx="145.4" cy="459.7" r="1.45" fill="#e4545a" fill-opacity="0.62"/>
<circle cx="97.2" cy="454.7" r="1.45" fill="#e4545a" fill-opacity="0.62"/>
<circle cx="101.7" cy="454.8" r="1.45" fill="#e4545a" fill-opacity="0.62"/>
<circle cx="109.2" cy="449.7" r="1.45" fill="#e4545a" fill-opacity="0.62"/>
<circle cx="139.3" cy="458.1" r="1.45" fill="#e4545a" fill-opacity="0.62"/>
<circle cx="142.6" cy="453.9" r="1.45" fill="#e4545a" fill-opacity="0.62"/>
<circle cx="103.4" cy="438.6" r="1.45" fill="#e4545a" fill-opacity="0.62"/>
<circle cx="110.6" cy="458.5" r="1.45" fill="#e4545a" fill-opacity="0.62"/>
<circle cx="101.2" cy="447.7" r="1.45" fill="#e4545a" fill-opacity="0.62"/>
<circle cx="167.3" cy="449.5" r="1.45" fill="#e4545a" fill-opacity="0.62"/>
<circle cx="122.8" cy="457.0" r="1.45" fill="#e4545a" fill-opacity="0.62"/>
<circle cx="97.4" cy="447.3" r="1.45" fill="#e4545a" fill-opacity="0.62"/>
<circle cx="136.8" cy="455.9" r="1.45" fill="#e4545a" fill-opacity="0.62"/>
<circle cx="144.6" cy="454.5" r="1.45" fill="#e4545a" fill-opacity="0.62"/>
<circle cx="174.2" cy="451.1" r="1.45" fill="#e4545a" fill-opacity="0.62"/>
<circle cx="110.9" cy="440.6" r="1.45" fill="#e4545a" fill-opacity="0.62"/>
<circle cx="98.6" cy="450.5" r="1.45" fill="#e4545a" fill-opacity="0.62"/>
<circle cx="123.2" cy="457.4" r="1.45" fill="#e4545a" fill-opacity="0.62"/>
<circle cx="99.3" cy="443.4" r="1.45" fill="#e4545a" fill-opacity="0.62"/>
<circle cx="97.5" cy="449.9" r="1.45" fill="#e4545a" fill-opacity="0.62"/>
<circle cx="174.6" cy="459.1" r="1.45" fill="#e4545a" fill-opacity="0.62"/>
<circle cx="107.5" cy="449.0" r="1.45" fill="#e4545a" fill-opacity="0.62"/>
<circle cx="131.8" cy="449.8" r="1.45" fill="#e4545a" fill-opacity="0.62"/>
<circle cx="161.3" cy="458.7" r="1.45" fill="#e4545a" fill-opacity="0.62"/>
<circle cx="115.4" cy="456.2" r="1.45" fill="#e4545a" fill-opacity="0.62"/>
<circle cx="98.8" cy="439.7" r="1.45" fill="#e4545a" fill-opacity="0.62"/>
<circle cx="158.2" cy="450.1" r="1.45" fill="#e4545a" fill-opacity="0.62"/>
<circle cx="97.3" cy="441.1" r="1.45" fill="#e4545a" fill-opacity="0.62"/>
<circle cx="154.4" cy="454.5" r="1.45" fill="#e4545a" fill-opacity="0.62"/>
<circle cx="154.0" cy="454.7" r="1.45" fill="#e4545a" fill-opacity="0.62"/>
<circle cx="109.3" cy="459.0" r="1.45" fill="#e4545a" fill-opacity="0.62"/>
<circle cx="109.8" cy="459.6" r="1.45" fill="#e4545a" fill-opacity="0.62"/>
<circle cx="117.5" cy="445.9" r="1.45" fill="#e4545a" fill-opacity="0.62"/>
<circle cx="149.4" cy="446.4" r="1.45" fill="#e4545a" fill-opacity="0.62"/>
<circle cx="151.1" cy="457.5" r="1.45" fill="#e4545a" fill-opacity="0.62"/>
<circle cx="136.1" cy="454.3" r="1.45" fill="#e4545a" fill-opacity="0.62"/>
<circle cx="158.7" cy="453.8" r="1.45" fill="#e4545a" fill-opacity="0.62"/>
<circle cx="112.1" cy="448.4" r="1.45" fill="#e4545a" fill-opacity="0.62"/>
<circle cx="177.2" cy="458.4" r="1.45" fill="#e4545a" fill-opacity="0.62"/>
<circle cx="168.2" cy="459.8" r="1.45" fill="#e4545a" fill-opacity="0.62"/>
<circle cx="111.8" cy="457.2" r="1.45" fill="#e4545a" fill-opacity="0.62"/>
<circle cx="154.2" cy="444.6" r="1.45" fill="#e4545a" fill-opacity="0.62"/>
<circle cx="154.5" cy="456.7" r="1.45" fill="#e4545a" fill-opacity="0.62"/>
<circle cx="168.2" cy="457.0" r="1.45" fill="#e4545a" fill-opacity="0.62"/>
<circle cx="110.2" cy="440.4" r="1.45" fill="#e4545a" fill-opacity="0.62"/>
<circle cx="143.2" cy="449.4" r="1.45" fill="#e4545a" fill-opacity="0.62"/>
<circle cx="146.5" cy="442.8" r="1.45" fill="#e4545a" fill-opacity="0.62"/>
<circle cx="128.6" cy="444.4" r="1.45" fill="#e4545a" fill-opacity="0.62"/>
<circle cx="149.7" cy="446.2" r="1.45" fill="#e4545a" fill-opacity="0.62"/>
<circle cx="125.8" cy="447.2" r="1.45" fill="#e4545a" fill-opacity="0.62"/>
<circle cx="137.6" cy="456.6" r="1.45" fill="#e4545a" fill-opacity="0.62"/>
<circle cx="108.3" cy="448.7" r="1.45" fill="#e4545a" fill-opacity="0.62"/>
<circle cx="100.2" cy="439.1" r="1.45" fill="#e4545a" fill-opacity="0.62"/>
<circle cx="84.7" cy="456.1" r="1.45" fill="#e4545a" fill-opacity="0.62"/>
<circle cx="84.0" cy="443.9" r="1.45" fill="#e4545a" fill-opacity="0.62"/>
<circle cx="88.5" cy="454.5" r="1.45" fill="#e4545a" fill-opacity="0.62"/>
<circle cx="82.5" cy="455.9" r="1.45" fill="#e4545a" fill-opacity="0.62"/>
<circle cx="95.1" cy="447.8" r="1.45" fill="#e4545a" fill-opacity="0.62"/>
<circle cx="95.2" cy="446.5" r="1.45" fill="#e4545a" fill-opacity="0.62"/>
<circle cx="108.0" cy="290.8" r="1.45" fill="#e4545a" fill-opacity="0.62"/>
<circle cx="121.5" cy="290.8" r="1.45" fill="#e4545a" fill-opacity="0.62"/>
<circle cx="131.2" cy="290.8" r="1.45" fill="#e4545a" fill-opacity="0.62"/>
<circle cx="140.0" cy="290.8" r="1.45" fill="#e4545a" fill-opacity="0.62"/>
<circle cx="142.0" cy="290.8" r="1.45" fill="#e4545a" fill-opacity="0.62"/>
<circle cx="144.0" cy="290.8" r="1.45" fill="#e4545a" fill-opacity="0.62"/>
<circle cx="146.5" cy="290.8" r="1.45" fill="#e4545a" fill-opacity="0.62"/>
<circle cx="149.0" cy="290.8" r="1.45" fill="#e4545a" fill-opacity="0.62"/>
<circle cx="151.0" cy="290.8" r="1.45" fill="#e4545a" fill-opacity="0.62"/>
<circle cx="153.0" cy="290.8" r="1.45" fill="#e4545a" fill-opacity="0.62"/>
<circle cx="155.5" cy="290.8" r="1.45" fill="#e4545a" fill-opacity="0.62"/>
<circle cx="159.5" cy="290.8" r="1.45" fill="#e4545a" fill-opacity="0.62"/>
<circle cx="163.0" cy="290.8" r="1.45" fill="#e4545a" fill-opacity="0.62"/>
<circle cx="166.5" cy="290.8" r="1.45" fill="#e4545a" fill-opacity="0.62"/>
<circle cx="170.0" cy="290.8" r="1.45" fill="#e4545a" fill-opacity="0.62"/>
<circle cx="172.5" cy="290.8" r="1.45" fill="#e4545a" fill-opacity="0.62"/>
<circle cx="175.0" cy="290.8" r="1.45" fill="#e4545a" fill-opacity="0.62"/>
<circle cx="177.0" cy="290.8" r="1.45" fill="#e4545a" fill-opacity="0.62"/>
<circle cx="180.0" cy="290.8" r="1.45" fill="#e4545a" fill-opacity="0.62"/>
<circle cx="183.0" cy="290.8" r="1.45" fill="#e4545a" fill-opacity="0.62"/>
<circle cx="186.0" cy="290.8" r="1.45" fill="#e4545a" fill-opacity="0.62"/>
<circle cx="189.0" cy="290.8" r="1.45" fill="#e4545a" fill-opacity="0.62"/>
<circle cx="192.0" cy="290.8" r="1.45" fill="#e4545a" fill-opacity="0.62"/>
<circle cx="195.0" cy="290.8" r="1.45" fill="#e4545a" fill-opacity="0.62"/>
<circle cx="217.0" cy="290.8" r="1.45" fill="#e4545a" fill-opacity="0.62"/>
<circle cx="150.5" cy="307.7" r="1.45" fill="#e4545a" fill-opacity="0.62"/>
<circle cx="162.0" cy="311.1" r="1.45" fill="#e4545a" fill-opacity="0.62"/>
<circle cx="184.8" cy="317.8" r="1.45" fill="#e4545a" fill-opacity="0.62"/>
<circle cx="142.9" cy="328.0" r="1.45" fill="#e4545a" fill-opacity="0.62"/>
<circle cx="169.6" cy="334.7" r="1.45" fill="#e4545a" fill-opacity="0.62"/>
<circle cx="139.1" cy="341.5" r="1.45" fill="#e4545a" fill-opacity="0.62"/>
<circle cx="181.0" cy="344.9" r="1.45" fill="#e4545a" fill-opacity="0.62"/>
<circle cx="158.1" cy="355.0" r="1.45" fill="#e4545a" fill-opacity="0.62"/>
<circle cx="146.7" cy="361.8" r="1.45" fill="#e4545a" fill-opacity="0.62"/>
<circle cx="169.6" cy="371.9" r="1.45" fill="#e4545a" fill-opacity="0.62"/>
<circle cx="177.2" cy="392.2" r="1.45" fill="#e4545a" fill-opacity="0.62"/>
<circle cx="154.3" cy="395.6" r="1.45" fill="#e4545a" fill-opacity="0.62"/>
<circle cx="162.0" cy="382.1" r="1.45" fill="#e4545a" fill-opacity="0.62"/>
<circle cx="173.4" cy="358.4" r="1.45" fill="#e4545a" fill-opacity="0.62"/>
<circle cx="196.2" cy="338.1" r="1.45" fill="#e4545a" fill-opacity="0.62"/>
<circle cx="192.4" cy="368.5" r="1.45" fill="#e4545a" fill-opacity="0.62"/>
<circle cx="184.8" cy="378.7" r="1.45" fill="#e4545a" fill-opacity="0.62"/>
<circle cx="177.2" cy="409.1" r="1.45" fill="#e4545a" fill-opacity="0.62"/>
<circle cx="169.6" cy="415.9" r="1.45" fill="#e4545a" fill-opacity="0.62"/>
<circle cx="202.2" cy="454.5" r="1.45" fill="#eea848" fill-opacity="0.62"/>
<circle cx="183.9" cy="439.7" r="1.45" fill="#eea848" fill-opacity="0.62"/>
<circle cx="193.4" cy="459.0" r="1.45" fill="#eea848" fill-opacity="0.62"/>
<circle cx="118.7" cy="435.9" r="1.45" fill="#eea848" fill-opacity="0.62"/>
<circle cx="224.6" cy="458.5" r="1.45" fill="#eea848" fill-opacity="0.62"/>
<circle cx="136.7" cy="457.1" r="1.45" fill="#eea848" fill-opacity="0.62"/>
<circle cx="175.0" cy="437.5" r="1.45" fill="#eea848" fill-opacity="0.62"/>
<circle cx="174.1" cy="440.0" r="1.45" fill="#eea848" fill-opacity="0.62"/>
<circle cx="136.5" cy="448.0" r="1.45" fill="#eea848" fill-opacity="0.62"/>
<circle cx="132.4" cy="455.8" r="1.45" fill="#eea848" fill-opacity="0.62"/>
<circle cx="179.4" cy="443.0" r="1.45" fill="#eea848" fill-opacity="0.62"/>
<circle cx="176.7" cy="457.1" r="1.45" fill="#eea848" fill-opacity="0.62"/>
<circle cx="157.8" cy="459.5" r="1.45" fill="#eea848" fill-opacity="0.62"/>
<circle cx="195.0" cy="456.3" r="1.45" fill="#eea848" fill-opacity="0.62"/>
<circle cx="161.0" cy="454.4" r="1.45" fill="#eea848" fill-opacity="0.62"/>
<circle cx="211.0" cy="455.2" r="1.45" fill="#eea848" fill-opacity="0.62"/>
<circle cx="200.3" cy="437.2" r="1.45" fill="#eea848" fill-opacity="0.62"/>
<circle cx="162.5" cy="448.4" r="1.45" fill="#eea848" fill-opacity="0.62"/>
<circle cx="196.6" cy="453.0" r="1.45" fill="#eea848" fill-opacity="0.62"/>
<circle cx="174.9" cy="442.3" r="1.45" fill="#eea848" fill-opacity="0.62"/>
<circle cx="145.8" cy="450.7" r="1.45" fill="#eea848" fill-opacity="0.62"/>
<circle cx="203.8" cy="456.9" r="1.45" fill="#eea848" fill-opacity="0.62"/>
<circle cx="177.1" cy="439.5" r="1.45" fill="#eea848" fill-opacity="0.62"/>
<circle cx="160.7" cy="457.6" r="1.45" fill="#eea848" fill-opacity="0.62"/>
<circle cx="187.5" cy="442.8" r="1.45" fill="#eea848" fill-opacity="0.62"/>
<circle cx="169.7" cy="414.7" r="1.45" fill="#eea848" fill-opacity="0.62"/>
<circle cx="200.6" cy="451.8" r="1.45" fill="#eea848" fill-opacity="0.62"/>
<circle cx="170.4" cy="440.9" r="1.45" fill="#eea848" fill-opacity="0.62"/>
<circle cx="182.0" cy="454.8" r="1.45" fill="#eea848" fill-opacity="0.62"/>
<circle cx="198.1" cy="438.7" r="1.45" fill="#eea848" fill-opacity="0.62"/>
<circle cx="165.3" cy="455.9" r="1.45" fill="#eea848" fill-opacity="0.62"/>
<circle cx="233.4" cy="456.9" r="1.45" fill="#eea848" fill-opacity="0.62"/>
<circle cx="159.8" cy="458.4" r="1.45" fill="#eea848" fill-opacity="0.62"/>
<circle cx="139.8" cy="447.8" r="1.45" fill="#eea848" fill-opacity="0.62"/>
<circle cx="210.6" cy="445.7" r="1.45" fill="#eea848" fill-opacity="0.62"/>
<circle cx="192.4" cy="441.5" r="1.45" fill="#eea848" fill-opacity="0.62"/>
<circle cx="152.2" cy="453.7" r="1.45" fill="#eea848" fill-opacity="0.62"/>
<circle cx="151.6" cy="453.9" r="1.45" fill="#eea848" fill-opacity="0.62"/>
<circle cx="178.3" cy="433.9" r="1.45" fill="#eea848" fill-opacity="0.62"/>
<circle cx="162.4" cy="459.5" r="1.45" fill="#eea848" fill-opacity="0.62"/>
<circle cx="175.3" cy="432.4" r="1.45" fill="#eea848" fill-opacity="0.62"/>
<circle cx="189.6" cy="451.6" r="1.45" fill="#eea848" fill-opacity="0.62"/>
<circle cx="129.4" cy="456.7" r="1.45" fill="#eea848" fill-opacity="0.62"/>
<circle cx="207.6" cy="452.5" r="1.45" fill="#eea848" fill-opacity="0.62"/>
<circle cx="125.8" cy="443.3" r="1.45" fill="#eea848" fill-opacity="0.62"/>
<circle cx="160.8" cy="447.5" r="1.45" fill="#eea848" fill-opacity="0.62"/>
<circle cx="155.8" cy="457.8" r="1.45" fill="#eea848" fill-opacity="0.62"/>
<circle cx="188.9" cy="437.9" r="1.45" fill="#eea848" fill-opacity="0.62"/>
<circle cx="146.5" cy="457.6" r="1.45" fill="#eea848" fill-opacity="0.62"/>
<circle cx="132.2" cy="453.0" r="1.45" fill="#eea848" fill-opacity="0.62"/>
<circle cx="174.7" cy="458.2" r="1.45" fill="#eea848" fill-opacity="0.62"/>
<circle cx="134.9" cy="452.5" r="1.45" fill="#eea848" fill-opacity="0.62"/>
<circle cx="184.3" cy="457.3" r="1.45" fill="#eea848" fill-opacity="0.62"/>
<circle cx="156.6" cy="455.6" r="1.45" fill="#eea848" fill-opacity="0.62"/>
<circle cx="154.7" cy="457.8" r="1.45" fill="#eea848" fill-opacity="0.62"/>
<circle cx="120.4" cy="457.8" r="1.45" fill="#eea848" fill-opacity="0.62"/>
<circle cx="169.9" cy="451.1" r="1.45" fill="#eea848" fill-opacity="0.62"/>
<circle cx="193.3" cy="457.7" r="1.45" fill="#eea848" fill-opacity="0.62"/>
<circle cx="161.4" cy="416.1" r="1.45" fill="#eea848" fill-opacity="0.62"/>
<circle cx="184.8" cy="444.4" r="1.45" fill="#eea848" fill-opacity="0.62"/>
<circle cx="224.4" cy="458.5" r="1.45" fill="#eea848" fill-opacity="0.62"/>
<circle cx="210.4" cy="454.1" r="1.45" fill="#eea848" fill-opacity="0.62"/>
<circle cx="216.8" cy="444.2" r="1.45" fill="#eea848" fill-opacity="0.62"/>
<circle cx="164.8" cy="453.0" r="1.45" fill="#eea848" fill-opacity="0.62"/>
<circle cx="182.2" cy="458.5" r="1.45" fill="#eea848" fill-opacity="0.62"/>
<circle cx="205.4" cy="457.1" r="1.45" fill="#eea848" fill-opacity="0.62"/>
<circle cx="164.2" cy="453.8" r="1.45" fill="#eea848" fill-opacity="0.62"/>
<circle cx="174.1" cy="441.3" r="1.45" fill="#eea848" fill-opacity="0.62"/>
<circle cx="158.6" cy="448.0" r="1.45" fill="#eea848" fill-opacity="0.62"/>
<circle cx="140.1" cy="452.4" r="1.45" fill="#eea848" fill-opacity="0.62"/>
<circle cx="192.4" cy="453.7" r="1.45" fill="#eea848" fill-opacity="0.62"/>
<circle cx="197.8" cy="443.8" r="1.45" fill="#eea848" fill-opacity="0.62"/>
<circle cx="193.3" cy="449.7" r="1.45" fill="#eea848" fill-opacity="0.62"/>
<circle cx="154.1" cy="443.4" r="1.45" fill="#eea848" fill-opacity="0.62"/>
<circle cx="152.7" cy="444.6" r="1.45" fill="#eea848" fill-opacity="0.62"/>
<circle cx="178.7" cy="434.7" r="1.45" fill="#eea848" fill-opacity="0.62"/>
<circle cx="175.8" cy="437.2" r="1.45" fill="#eea848" fill-opacity="0.62"/>
<circle cx="128.7" cy="446.3" r="1.45" fill="#eea848" fill-opacity="0.62"/>
<circle cx="151.1" cy="455.4" r="1.45" fill="#eea848" fill-opacity="0.62"/>
<circle cx="146.8" cy="448.1" r="1.45" fill="#eea848" fill-opacity="0.62"/>
<circle cx="192.3" cy="441.8" r="1.45" fill="#eea848" fill-opacity="0.62"/>
<circle cx="185.6" cy="445.0" r="1.45" fill="#eea848" fill-opacity="0.62"/>
<circle cx="155.7" cy="453.3" r="1.45" fill="#eea848" fill-opacity="0.62"/>
<circle cx="154.9" cy="452.6" r="1.45" fill="#eea848" fill-opacity="0.62"/>
<circle cx="149.8" cy="446.5" r="1.45" fill="#eea848" fill-opacity="0.62"/>
<circle cx="150.6" cy="428.3" r="1.45" fill="#eea848" fill-opacity="0.62"/>
<circle cx="185.5" cy="442.0" r="1.45" fill="#eea848" fill-opacity="0.62"/>
<circle cx="205.1" cy="454.0" r="1.45" fill="#eea848" fill-opacity="0.62"/>
<circle cx="101.0" cy="459.3" r="1.45" fill="#eea848" fill-opacity="0.62"/>
<circle cx="174.2" cy="450.5" r="1.45" fill="#eea848" fill-opacity="0.62"/>
<circle cx="194.3" cy="426.4" r="1.45" fill="#eea848" fill-opacity="0.62"/>
<circle cx="209.0" cy="451.1" r="1.45" fill="#eea848" fill-opacity="0.62"/>
<circle cx="197.6" cy="450.6" r="1.45" fill="#eea848" fill-opacity="0.62"/>
<circle cx="190.3" cy="444.9" r="1.45" fill="#eea848" fill-opacity="0.62"/>
<circle cx="131.6" cy="438.9" r="1.45" fill="#eea848" fill-opacity="0.62"/>
<circle cx="166.7" cy="451.1" r="1.45" fill="#eea848" fill-opacity="0.62"/>
<circle cx="114.8" cy="457.0" r="1.45" fill="#eea848" fill-opacity="0.62"/>
<circle cx="204.2" cy="446.2" r="1.45" fill="#eea848" fill-opacity="0.62"/>
<circle cx="134.3" cy="458.3" r="1.45" fill="#eea848" fill-opacity="0.62"/>
<circle cx="197.9" cy="410.5" r="1.45" fill="#eea848" fill-opacity="0.62"/>
<circle cx="164.0" cy="456.0" r="1.45" fill="#eea848" fill-opacity="0.62"/>
<circle cx="176.8" cy="453.8" r="1.45" fill="#eea848" fill-opacity="0.62"/>
<circle cx="197.3" cy="453.3" r="1.45" fill="#eea848" fill-opacity="0.62"/>
<circle cx="171.9" cy="445.6" r="1.45" fill="#eea848" fill-opacity="0.62"/>
<circle cx="157.0" cy="456.8" r="1.45" fill="#eea848" fill-opacity="0.62"/>
<circle cx="186.4" cy="443.8" r="1.45" fill="#eea848" fill-opacity="0.62"/>
<circle cx="199.9" cy="456.9" r="1.45" fill="#eea848" fill-opacity="0.62"/>
<circle cx="157.6" cy="440.7" r="1.45" fill="#eea848" fill-opacity="0.62"/>
<circle cx="155.3" cy="458.2" r="1.45" fill="#eea848" fill-opacity="0.62"/>
<circle cx="181.1" cy="442.1" r="1.45" fill="#eea848" fill-opacity="0.62"/>
<circle cx="150.5" cy="348.3" r="1.45" fill="#eea848" fill-opacity="0.62"/>
<circle cx="177.2" cy="355.0" r="1.45" fill="#eea848" fill-opacity="0.62"/>
<circle cx="165.8" cy="365.2" r="1.45" fill="#eea848" fill-opacity="0.62"/>
<circle cx="208.2" cy="452.3" r="1.45" fill="#5a8cba" fill-opacity="0.62"/>
<circle cx="152.2" cy="450.0" r="1.45" fill="#5a8cba" fill-opacity="0.62"/>
<circle cx="204.2" cy="454.6" r="1.45" fill="#5a8cba" fill-opacity="0.62"/>
<circle cx="261.0" cy="447.8" r="1.45" fill="#5a8cba" fill-opacity="0.62"/>
<circle cx="215.9" cy="452.3" r="1.45" fill="#5a8cba" fill-opacity="0.62"/>
<circle cx="141.5" cy="455.7" r="1.45" fill="#5a8cba" fill-opacity="0.62"/>
<circle cx="177.4" cy="438.6" r="1.45" fill="#5a8cba" fill-opacity="0.62"/>
<circle cx="187.7" cy="454.6" r="1.45" fill="#5a8cba" fill-opacity="0.62"/>
<circle cx="206.7" cy="454.2" r="1.45" fill="#5a8cba" fill-opacity="0.62"/>
<circle cx="173.0" cy="456.3" r="1.45" fill="#5a8cba" fill-opacity="0.62"/>
<circle cx="175.0" cy="459.8" r="1.45" fill="#5a8cba" fill-opacity="0.62"/>
<circle cx="201.2" cy="444.7" r="1.45" fill="#5a8cba" fill-opacity="0.62"/>
<circle cx="188.0" cy="455.5" r="1.45" fill="#5a8cba" fill-opacity="0.62"/>
<circle cx="214.9" cy="452.1" r="1.45" fill="#5a8cba" fill-opacity="0.62"/>
<circle cx="153.3" cy="447.1" r="1.45" fill="#5a8cba" fill-opacity="0.62"/>
<circle cx="211.3" cy="454.5" r="1.45" fill="#5a8cba" fill-opacity="0.62"/>
<circle cx="246.4" cy="459.1" r="1.45" fill="#5a8cba" fill-opacity="0.62"/>
<circle cx="166.5" cy="439.0" r="1.45" fill="#5a8cba" fill-opacity="0.62"/>
<circle cx="236.7" cy="458.0" r="1.45" fill="#5a8cba" fill-opacity="0.62"/>
<circle cx="162.7" cy="438.7" r="1.45" fill="#5a8cba" fill-opacity="0.62"/>
<circle cx="188.9" cy="459.7" r="1.45" fill="#5a8cba" fill-opacity="0.62"/>
<circle cx="188.5" cy="423.9" r="1.45" fill="#5a8cba" fill-opacity="0.62"/>
<circle cx="179.6" cy="458.5" r="1.45" fill="#5a8cba" fill-opacity="0.62"/>
<circle cx="173.2" cy="458.0" r="1.45" fill="#5a8cba" fill-opacity="0.62"/>
<circle cx="197.9" cy="454.8" r="1.45" fill="#5a8cba" fill-opacity="0.62"/>
<circle cx="244.9" cy="457.8" r="1.45" fill="#5a8cba" fill-opacity="0.62"/>
<circle cx="236.9" cy="457.6" r="1.45" fill="#5a8cba" fill-opacity="0.62"/>
<circle cx="161.8" cy="433.6" r="1.45" fill="#5a8cba" fill-opacity="0.62"/>
<circle cx="151.1" cy="446.7" r="1.45" fill="#5a8cba" fill-opacity="0.62"/>
<circle cx="159.0" cy="433.3" r="1.45" fill="#5a8cba" fill-opacity="0.62"/>
<circle cx="206.2" cy="457.2" r="1.45" fill="#5a8cba" fill-opacity="0.62"/>
<circle cx="135.9" cy="445.8" r="1.45" fill="#5a8cba" fill-opacity="0.62"/>
<circle cx="143.2" cy="453.0" r="1.45" fill="#5a8cba" fill-opacity="0.62"/>
<circle cx="182.8" cy="434.4" r="1.45" fill="#5a8cba" fill-opacity="0.62"/>
<circle cx="170.0" cy="456.6" r="1.45" fill="#5a8cba" fill-opacity="0.62"/>
<circle cx="184.3" cy="458.0" r="1.45" fill="#5a8cba" fill-opacity="0.62"/>
<circle cx="181.9" cy="452.4" r="1.45" fill="#5a8cba" fill-opacity="0.62"/>
<circle cx="192.9" cy="458.0" r="1.45" fill="#5a8cba" fill-opacity="0.62"/>
<circle cx="156.7" cy="450.6" r="1.45" fill="#5a8cba" fill-opacity="0.62"/>
<circle cx="194.4" cy="436.3" r="1.45" fill="#5a8cba" fill-opacity="0.62"/>
<circle cx="250.8" cy="452.3" r="1.45" fill="#5a8cba" fill-opacity="0.62"/>
<circle cx="194.9" cy="450.0" r="1.45" fill="#5a8cba" fill-opacity="0.62"/>
<circle cx="162.8" cy="454.2" r="1.45" fill="#5a8cba" fill-opacity="0.62"/>
<circle cx="142.1" cy="453.4" r="1.45" fill="#5a8cba" fill-opacity="0.62"/>
<circle cx="204.1" cy="447.8" r="1.45" fill="#5a8cba" fill-opacity="0.62"/>
<circle cx="189.5" cy="447.8" r="1.45" fill="#5a8cba" fill-opacity="0.62"/>
<circle cx="233.6" cy="446.2" r="1.45" fill="#5a8cba" fill-opacity="0.62"/>
<circle cx="199.9" cy="428.1" r="1.45" fill="#5a8cba" fill-opacity="0.62"/>
<circle cx="150.7" cy="451.3" r="1.45" fill="#5a8cba" fill-opacity="0.62"/>
<circle cx="261.0" cy="452.0" r="1.45" fill="#5a8cba" fill-opacity="0.62"/>
<circle cx="198.8" cy="444.8" r="1.45" fill="#5a8cba" fill-opacity="0.62"/>
<circle cx="187.6" cy="448.2" r="1.45" fill="#5a8cba" fill-opacity="0.62"/>
<circle cx="160.4" cy="454.4" r="1.45" fill="#5a8cba" fill-opacity="0.62"/>
<circle cx="243.9" cy="452.2" r="1.45" fill="#5a8cba" fill-opacity="0.62"/>
<circle cx="140.8" cy="457.0" r="1.45" fill="#5a8cba" fill-opacity="0.62"/>
<circle cx="184.1" cy="453.0" r="1.45" fill="#5a8cba" fill-opacity="0.62"/>
<circle cx="158.2" cy="439.1" r="1.45" fill="#5a8cba" fill-opacity="0.62"/>
<circle cx="210.6" cy="455.7" r="1.45" fill="#5a8cba" fill-opacity="0.62"/>
<circle cx="207.0" cy="451.5" r="1.45" fill="#5a8cba" fill-opacity="0.62"/>
<circle cx="165.1" cy="456.0" r="1.45" fill="#5a8cba" fill-opacity="0.62"/>
<circle cx="109.7" cy="447.2" r="1.45" fill="#5a8cba" fill-opacity="0.62"/>
<circle cx="189.1" cy="441.2" r="1.45" fill="#5a8cba" fill-opacity="0.62"/>
<circle cx="179.5" cy="455.6" r="1.45" fill="#5a8cba" fill-opacity="0.62"/>
<circle cx="215.7" cy="449.4" r="1.45" fill="#5a8cba" fill-opacity="0.62"/>
<circle cx="157.1" cy="459.3" r="1.45" fill="#5a8cba" fill-opacity="0.62"/>
<circle cx="152.4" cy="444.6" r="1.45" fill="#5a8cba" fill-opacity="0.62"/>
<circle cx="221.2" cy="459.2" r="1.45" fill="#5a8cba" fill-opacity="0.62"/>
<circle cx="167.2" cy="455.6" r="1.45" fill="#5a8cba" fill-opacity="0.62"/>
<circle cx="212.2" cy="429.7" r="1.45" fill="#5a8cba" fill-opacity="0.62"/>
<circle cx="193.2" cy="448.7" r="1.45" fill="#5a8cba" fill-opacity="0.62"/>
<circle cx="163.1" cy="431.3" r="1.45" fill="#5a8cba" fill-opacity="0.62"/>
<circle cx="147.4" cy="448.6" r="1.45" fill="#5a8cba" fill-opacity="0.62"/>
<circle cx="160.6" cy="445.7" r="1.45" fill="#5a8cba" fill-opacity="0.62"/>
<circle cx="163.8" cy="449.1" r="1.45" fill="#5a8cba" fill-opacity="0.62"/>
<circle cx="183.6" cy="446.8" r="1.45" fill="#5a8cba" fill-opacity="0.62"/>
<circle cx="173.3" cy="452.6" r="1.45" fill="#5a8cba" fill-opacity="0.62"/>
<circle cx="193.6" cy="457.4" r="1.45" fill="#5a8cba" fill-opacity="0.62"/>
<circle cx="178.4" cy="459.4" r="1.45" fill="#5a8cba" fill-opacity="0.62"/>
<circle cx="202.8" cy="447.2" r="1.45" fill="#5a8cba" fill-opacity="0.62"/>
<circle cx="125.7" cy="454.4" r="1.45" fill="#5a8cba" fill-opacity="0.62"/>
<circle cx="162.0" cy="328.0" r="1.45" fill="#5a8cba" fill-opacity="0.62"/>
<circle cx="181.0" cy="344.9" r="1.45" fill="#5a8cba" fill-opacity="0.62"/>
<circle cx="200.1" cy="375.3" r="1.45" fill="#5a8cba" fill-opacity="0.62"/>
<circle cx="226.5" cy="290.8" r="1.45" fill="#5a8cba" fill-opacity="0.62"/>
<circle cx="231.0" cy="290.8" r="1.45" fill="#5a8cba" fill-opacity="0.62"/>
<circle cx="226.7" cy="382.1" r="1.45" fill="#5a8cba" fill-opacity="0.62"/>
<circle cx="146.7" cy="348.3" r="1.45" fill="#5a8cba" fill-opacity="0.62"/>
<circle cx="33.9" cy="458.8" r="1.45" fill="#5a8cba" fill-opacity="0.62"/>
<circle cx="38.5" cy="458.1" r="1.45" fill="#5a8cba" fill-opacity="0.62"/>
<circle cx="47.7" cy="459.1" r="1.45" fill="#5a8cba" fill-opacity="0.62"/>
<circle cx="183.8" cy="457.4" r="1.45" fill="#5fb5aa" fill-opacity="0.62"/>
<circle cx="141.5" cy="458.3" r="1.45" fill="#5fb5aa" fill-opacity="0.62"/>
<circle cx="124.5" cy="458.7" r="1.45" fill="#5fb5aa" fill-opacity="0.62"/>
<circle cx="172.8" cy="458.0" r="1.45" fill="#5fb5aa" fill-opacity="0.62"/>
<circle cx="191.9" cy="459.7" r="1.45" fill="#5fb5aa" fill-opacity="0.62"/>
<circle cx="197.3" cy="454.7" r="1.45" fill="#5fb5aa" fill-opacity="0.62"/>
<circle cx="158.1" cy="459.8" r="1.45" fill="#5fb5aa" fill-opacity="0.62"/>
<circle cx="170.3" cy="459.7" r="1.45" fill="#5fb5aa" fill-opacity="0.62"/>
<circle cx="144.7" cy="459.5" r="1.45" fill="#5fb5aa" fill-opacity="0.62"/>
<circle cx="216.8" cy="459.0" r="1.45" fill="#5fb5aa" fill-opacity="0.62"/>
<circle cx="200.6" cy="458.7" r="1.45" fill="#5fb5aa" fill-opacity="0.62"/>
<circle cx="151.8" cy="459.7" r="1.45" fill="#5fb5aa" fill-opacity="0.62"/>
<circle cx="93.2" cy="457.5" r="1.45" fill="#5fb5aa" fill-opacity="0.62"/>
<circle cx="192.5" cy="455.9" r="1.45" fill="#5fb5aa" fill-opacity="0.62"/>
<circle cx="152.5" cy="458.9" r="1.45" fill="#5fb5aa" fill-opacity="0.62"/>
<circle cx="121.4" cy="458.1" r="1.45" fill="#5fb5aa" fill-opacity="0.62"/>
<circle cx="175.1" cy="456.2" r="1.45" fill="#5fb5aa" fill-opacity="0.62"/>
<circle cx="150.8" cy="459.3" r="1.45" fill="#5fb5aa" fill-opacity="0.62"/>
<circle cx="170.3" cy="458.6" r="1.45" fill="#5fb5aa" fill-opacity="0.62"/>
<circle cx="179.6" cy="458.0" r="1.45" fill="#5fb5aa" fill-opacity="0.62"/>
<circle cx="182.6" cy="458.8" r="1.45" fill="#5fb5aa" fill-opacity="0.62"/>
<circle cx="209.3" cy="440.0" r="1.45" fill="#5fb5aa" fill-opacity="0.62"/>
<circle cx="156.9" cy="456.9" r="1.45" fill="#5fb5aa" fill-opacity="0.62"/>
<circle cx="187.7" cy="458.3" r="1.45" fill="#5fb5aa" fill-opacity="0.62"/>
<circle cx="174.6" cy="457.6" r="1.45" fill="#5fb5aa" fill-opacity="0.62"/>
<circle cx="196.0" cy="458.8" r="1.45" fill="#5fb5aa" fill-opacity="0.62"/>
<circle cx="179.6" cy="459.3" r="1.45" fill="#5fb5aa" fill-opacity="0.62"/>
<circle cx="129.0" cy="459.6" r="1.45" fill="#5fb5aa" fill-opacity="0.62"/>
<circle cx="153.6" cy="458.2" r="1.45" fill="#5fb5aa" fill-opacity="0.62"/>
<circle cx="159.7" cy="457.8" r="1.45" fill="#5fb5aa" fill-opacity="0.62"/>
<circle cx="111.4" cy="459.6" r="1.45" fill="#5fb5aa" fill-opacity="0.62"/>
<circle cx="162.9" cy="458.9" r="1.45" fill="#5fb5aa" fill-opacity="0.62"/>
<circle cx="118.8" cy="459.2" r="1.45" fill="#5fb5aa" fill-opacity="0.62"/>
<circle cx="253.4" cy="451.3" r="1.45" fill="#5fb5aa" fill-opacity="0.62"/>
<circle cx="182.9" cy="458.1" r="1.45" fill="#5fb5aa" fill-opacity="0.62"/>
<circle cx="164.2" cy="459.7" r="1.45" fill="#5fb5aa" fill-opacity="0.62"/>
<circle cx="105.2" cy="459.6" r="1.45" fill="#5fb5aa" fill-opacity="0.62"/>
<circle cx="71.9" cy="458.1" r="1.45" fill="#5fb5aa" fill-opacity="0.62"/>
<circle cx="79.8" cy="459.5" r="1.45" fill="#5fb5aa" fill-opacity="0.62"/>
<circle cx="165.0" cy="459.6" r="1.45" fill="#5fb5aa" fill-opacity="0.62"/>
<circle cx="65.1" cy="458.8" r="1.45" fill="#5fb5aa" fill-opacity="0.62"/>
<circle cx="172.2" cy="458.9" r="1.45" fill="#5fb5aa" fill-opacity="0.62"/>
<circle cx="104.2" cy="458.9" r="1.45" fill="#5fb5aa" fill-opacity="0.62"/>
<circle cx="173.0" cy="458.8" r="1.45" fill="#5fb5aa" fill-opacity="0.62"/>
<circle cx="156.2" cy="459.4" r="1.45" fill="#5fb5aa" fill-opacity="0.62"/>
<circle cx="222.0" cy="446.8" r="1.45" fill="#5fb5aa" fill-opacity="0.62"/>
<circle cx="72.9" cy="456.3" r="1.45" fill="#5fb5aa" fill-opacity="0.62"/>
<circle cx="207.5" cy="459.0" r="1.45" fill="#5fb5aa" fill-opacity="0.62"/>
<circle cx="180.9" cy="459.0" r="1.45" fill="#5fb5aa" fill-opacity="0.62"/>
<circle cx="72.7" cy="459.7" r="1.45" fill="#5fb5aa" fill-opacity="0.62"/>
<circle cx="59.7" cy="459.6" r="1.45" fill="#5fb5aa" fill-opacity="0.62"/>
<circle cx="170.7" cy="456.3" r="1.45" fill="#5fb5aa" fill-opacity="0.62"/>
<circle cx="168.5" cy="458.5" r="1.45" fill="#5fb5aa" fill-opacity="0.62"/>
<circle cx="125.4" cy="458.6" r="1.45" fill="#5fb5aa" fill-opacity="0.62"/>
<circle cx="82.3" cy="459.5" r="1.45" fill="#5fb5aa" fill-opacity="0.62"/>
<circle cx="161.4" cy="457.9" r="1.45" fill="#5fb5aa" fill-opacity="0.62"/>
<circle cx="135.5" cy="459.3" r="1.45" fill="#5fb5aa" fill-opacity="0.62"/>
<circle cx="142.6" cy="459.0" r="1.45" fill="#5fb5aa" fill-opacity="0.62"/>
<circle cx="169.7" cy="440.8" r="1.45" fill="#5fb5aa" fill-opacity="0.62"/>
<circle cx="141.5" cy="458.9" r="1.45" fill="#5fb5aa" fill-opacity="0.62"/>
<circle cx="153.1" cy="458.8" r="1.45" fill="#5fb5aa" fill-opacity="0.62"/>
<circle cx="90.6" cy="459.8" r="1.45" fill="#5fb5aa" fill-opacity="0.62"/>
<circle cx="211.7" cy="432.5" r="1.45" fill="#5fb5aa" fill-opacity="0.62"/>
<circle cx="156.7" cy="459.1" r="1.45" fill="#5fb5aa" fill-opacity="0.62"/>
<circle cx="170.3" cy="458.3" r="1.45" fill="#5fb5aa" fill-opacity="0.62"/>
<circle cx="149.2" cy="459.4" r="1.45" fill="#5fb5aa" fill-opacity="0.62"/>
<circle cx="129.5" cy="459.2" r="1.45" fill="#5fb5aa" fill-opacity="0.62"/>
<circle cx="150.5" cy="458.8" r="1.45" fill="#5fb5aa" fill-opacity="0.62"/>
<circle cx="63.3" cy="457.9" r="1.45" fill="#5fb5aa" fill-opacity="0.62"/>
<circle cx="154.1" cy="458.5" r="1.45" fill="#5fb5aa" fill-opacity="0.62"/>
<circle cx="195.9" cy="430.3" r="1.45" fill="#5fb5aa" fill-opacity="0.62"/>
<circle cx="151.8" cy="458.8" r="1.45" fill="#5fb5aa" fill-opacity="0.62"/>
<circle cx="173.3" cy="453.6" r="1.45" fill="#5fb5aa" fill-opacity="0.62"/>
<circle cx="142.4" cy="459.2" r="1.45" fill="#5fb5aa" fill-opacity="0.62"/>
<circle cx="176.6" cy="458.8" r="1.45" fill="#5fb5aa" fill-opacity="0.62"/>
<circle cx="154.5" cy="459.3" r="1.45" fill="#5fb5aa" fill-opacity="0.62"/>
<circle cx="108.6" cy="459.7" r="1.45" fill="#5fb5aa" fill-opacity="0.62"/>
<circle cx="77.5" cy="459.3" r="1.45" fill="#5fb5aa" fill-opacity="0.62"/>
<circle cx="67.0" cy="457.0" r="1.45" fill="#5fb5aa" fill-opacity="0.62"/>
<circle cx="156.8" cy="459.5" r="1.45" fill="#5fb5aa" fill-opacity="0.62"/>
<circle cx="161.3" cy="459.5" r="1.45" fill="#5fb5aa" fill-opacity="0.62"/>
<circle cx="173.1" cy="459.6" r="1.45" fill="#5fb5aa" fill-opacity="0.62"/>
<circle cx="150.7" cy="459.0" r="1.45" fill="#5fb5aa" fill-opacity="0.62"/>
<circle cx="125.1" cy="458.2" r="1.45" fill="#5fb5aa" fill-opacity="0.62"/>
<circle cx="190.9" cy="457.4" r="1.45" fill="#5fb5aa" fill-opacity="0.62"/>
<circle cx="90.3" cy="458.4" r="1.45" fill="#5fb5aa" fill-opacity="0.62"/>
<circle cx="215.9" cy="445.1" r="1.45" fill="#5fb5aa" fill-opacity="0.62"/>
<circle cx="222.7" cy="459.5" r="1.45" fill="#5fb5aa" fill-opacity="0.62"/>
<circle cx="197.8" cy="445.5" r="1.45" fill="#5fb5aa" fill-opacity="0.62"/>
<circle cx="130.0" cy="455.0" r="1.45" fill="#5fb5aa" fill-opacity="0.62"/>
<circle cx="173.5" cy="459.8" r="1.45" fill="#5fb5aa" fill-opacity="0.62"/>
<circle cx="204.1" cy="459.0" r="1.45" fill="#5fb5aa" fill-opacity="0.62"/>
<circle cx="207.7" cy="441.5" r="1.45" fill="#5fb5aa" fill-opacity="0.62"/>
<circle cx="201.6" cy="427.7" r="1.45" fill="#5fb5aa" fill-opacity="0.62"/>
<circle cx="146.7" cy="458.5" r="1.45" fill="#5fb5aa" fill-opacity="0.62"/>
<circle cx="75.3" cy="457.7" r="1.45" fill="#5fb5aa" fill-opacity="0.62"/>
<circle cx="70.4" cy="459.4" r="1.45" fill="#5fb5aa" fill-opacity="0.62"/>
<circle cx="143.8" cy="458.3" r="1.45" fill="#5fb5aa" fill-opacity="0.62"/>
<circle cx="195.1" cy="458.8" r="1.45" fill="#5fb5aa" fill-opacity="0.62"/>
<circle cx="139.4" cy="459.0" r="1.45" fill="#5fb5aa" fill-opacity="0.62"/>
<circle cx="104.2" cy="459.2" r="1.45" fill="#5fb5aa" fill-opacity="0.62"/>
<circle cx="155.7" cy="458.7" r="1.45" fill="#5fb5aa" fill-opacity="0.62"/>
<circle cx="149.3" cy="459.7" r="1.45" fill="#5fb5aa" fill-opacity="0.62"/>
<circle cx="157.8" cy="457.9" r="1.45" fill="#5fb5aa" fill-opacity="0.62"/>
<circle cx="186.1" cy="459.7" r="1.45" fill="#5fb5aa" fill-opacity="0.62"/>
<circle cx="224.8" cy="434.9" r="1.45" fill="#5fb5aa" fill-opacity="0.62"/>
<circle cx="175.4" cy="459.1" r="1.45" fill="#5fb5aa" fill-opacity="0.62"/>
<circle cx="173.8" cy="458.7" r="1.45" fill="#5fb5aa" fill-opacity="0.62"/>
<circle cx="99.1" cy="457.8" r="1.45" fill="#5fb5aa" fill-opacity="0.62"/>
<circle cx="149.9" cy="457.3" r="1.45" fill="#5fb5aa" fill-opacity="0.62"/>
<circle cx="167.4" cy="457.5" r="1.45" fill="#5fb5aa" fill-opacity="0.62"/>
<circle cx="156.8" cy="459.7" r="1.45" fill="#5fb5aa" fill-opacity="0.62"/>
<circle cx="56.6" cy="459.7" r="1.45" fill="#5fb5aa" fill-opacity="0.62"/>
<circle cx="170.6" cy="456.8" r="1.45" fill="#5fb5aa" fill-opacity="0.62"/>
<circle cx="114.1" cy="459.3" r="1.45" fill="#5fb5aa" fill-opacity="0.62"/>
<circle cx="116.8" cy="458.6" r="1.45" fill="#5fb5aa" fill-opacity="0.62"/>
<circle cx="171.5" cy="456.9" r="1.45" fill="#5fb5aa" fill-opacity="0.62"/>
<circle cx="125.4" cy="458.6" r="1.45" fill="#5fb5aa" fill-opacity="0.62"/>
<circle cx="227.3" cy="458.0" r="1.45" fill="#5fb5aa" fill-opacity="0.62"/>
<circle cx="179.2" cy="459.5" r="1.45" fill="#5fb5aa" fill-opacity="0.62"/>
<circle cx="166.2" cy="459.8" r="1.45" fill="#5fb5aa" fill-opacity="0.62"/>
<circle cx="211.9" cy="458.5" r="1.45" fill="#5fb5aa" fill-opacity="0.62"/>
<circle cx="96.8" cy="459.5" r="1.45" fill="#5fb5aa" fill-opacity="0.62"/>
<circle cx="125.0" cy="459.0" r="1.45" fill="#5fb5aa" fill-opacity="0.62"/>
<circle cx="137.2" cy="459.7" r="1.45" fill="#5fb5aa" fill-opacity="0.62"/>
<circle cx="108.2" cy="459.1" r="1.45" fill="#5fb5aa" fill-opacity="0.62"/>
<circle cx="113.4" cy="459.7" r="1.45" fill="#5fb5aa" fill-opacity="0.62"/>
<circle cx="128.4" cy="458.2" r="1.45" fill="#5fb5aa" fill-opacity="0.62"/>
<circle cx="110.6" cy="456.0" r="1.45" fill="#5fb5aa" fill-opacity="0.62"/>
<circle cx="216.4" cy="457.7" r="1.45" fill="#5fb5aa" fill-opacity="0.62"/>
<circle cx="90.6" cy="458.8" r="1.45" fill="#5fb5aa" fill-opacity="0.62"/>
<circle cx="132.1" cy="459.8" r="1.45" fill="#5fb5aa" fill-opacity="0.62"/>
<circle cx="81.0" cy="455.9" r="1.45" fill="#5fb5aa" fill-opacity="0.62"/>
<circle cx="97.4" cy="458.4" r="1.45" fill="#5fb5aa" fill-opacity="0.62"/>
<circle cx="186.8" cy="459.8" r="1.45" fill="#5fb5aa" fill-opacity="0.62"/>
<circle cx="141.9" cy="458.9" r="1.45" fill="#5fb5aa" fill-opacity="0.62"/>
<circle cx="148.8" cy="457.6" r="1.45" fill="#5fb5aa" fill-opacity="0.62"/>
<circle cx="74.4" cy="459.1" r="1.45" fill="#5fb5aa" fill-opacity="0.62"/>
<circle cx="119.0" cy="459.4" r="1.45" fill="#5fb5aa" fill-opacity="0.62"/>
<circle cx="56.8" cy="458.0" r="1.45" fill="#5fb5aa" fill-opacity="0.62"/>
<circle cx="127.7" cy="457.6" r="1.45" fill="#5fb5aa" fill-opacity="0.62"/>
<circle cx="152.5" cy="459.1" r="1.45" fill="#5fb5aa" fill-opacity="0.62"/>
<circle cx="130.1" cy="441.1" r="1.45" fill="#5fb5aa" fill-opacity="0.62"/>
<circle cx="70.5" cy="457.9" r="1.45" fill="#5fb5aa" fill-opacity="0.62"/>
<circle cx="154.4" cy="459.3" r="1.45" fill="#5fb5aa" fill-opacity="0.62"/>
<circle cx="122.0" cy="456.8" r="1.45" fill="#5fb5aa" fill-opacity="0.62"/>
<circle cx="77.0" cy="457.5" r="1.45" fill="#5fb5aa" fill-opacity="0.62"/>
<circle cx="156.0" cy="458.3" r="1.45" fill="#5fb5aa" fill-opacity="0.62"/>
<circle cx="126.1" cy="456.9" r="1.45" fill="#5fb5aa" fill-opacity="0.62"/>
<circle cx="155.3" cy="458.9" r="1.45" fill="#5fb5aa" fill-opacity="0.62"/>
<circle cx="185.4" cy="453.4" r="1.45" fill="#5fb5aa" fill-opacity="0.62"/>
<circle cx="70.3" cy="458.8" r="1.45" fill="#5fb5aa" fill-opacity="0.62"/>
<circle cx="89.9" cy="458.9" r="1.45" fill="#5fb5aa" fill-opacity="0.62"/>
<circle cx="209.3" cy="459.3" r="1.45" fill="#5fb5aa" fill-opacity="0.62"/>
<circle cx="179.6" cy="459.1" r="1.45" fill="#5fb5aa" fill-opacity="0.62"/>
<circle cx="86.4" cy="458.8" r="1.45" fill="#5fb5aa" fill-opacity="0.62"/>
<circle cx="117.6" cy="457.9" r="1.45" fill="#5fb5aa" fill-opacity="0.62"/>
<circle cx="178.7" cy="456.2" r="1.45" fill="#5fb5aa" fill-opacity="0.62"/>
<circle cx="135.0" cy="459.6" r="1.45" fill="#5fb5aa" fill-opacity="0.62"/>
<circle cx="195.3" cy="458.6" r="1.45" fill="#5fb5aa" fill-opacity="0.62"/>
<circle cx="117.8" cy="456.8" r="1.45" fill="#5fb5aa" fill-opacity="0.62"/>
<circle cx="146.0" cy="457.2" r="1.45" fill="#5fb5aa" fill-opacity="0.62"/>
<circle cx="124.4" cy="458.2" r="1.45" fill="#5fb5aa" fill-opacity="0.62"/>
<circle cx="174.2" cy="452.8" r="1.45" fill="#5fb5aa" fill-opacity="0.62"/>
<circle cx="125.4" cy="456.6" r="1.45" fill="#5fb5aa" fill-opacity="0.62"/>
<circle cx="157.3" cy="459.0" r="1.45" fill="#5fb5aa" fill-opacity="0.62"/>
<circle cx="85.8" cy="457.9" r="1.45" fill="#5fb5aa" fill-opacity="0.62"/>
<circle cx="167.4" cy="450.2" r="1.45" fill="#5fb5aa" fill-opacity="0.62"/>
<circle cx="136.0" cy="458.6" r="1.45" fill="#5fb5aa" fill-opacity="0.62"/>
<circle cx="145.3" cy="458.7" r="1.45" fill="#5fb5aa" fill-opacity="0.62"/>
<circle cx="166.6" cy="459.1" r="1.45" fill="#5fb5aa" fill-opacity="0.62"/>
<circle cx="75.0" cy="459.4" r="1.45" fill="#5fb5aa" fill-opacity="0.62"/>
<circle cx="93.2" cy="458.4" r="1.45" fill="#5fb5aa" fill-opacity="0.62"/>
<circle cx="185.5" cy="457.2" r="1.45" fill="#5fb5aa" fill-opacity="0.62"/>
<circle cx="153.1" cy="458.2" r="1.45" fill="#5fb5aa" fill-opacity="0.62"/>
<circle cx="226.6" cy="430.9" r="1.45" fill="#5fb5aa" fill-opacity="0.62"/>
<circle cx="68.8" cy="459.5" r="1.45" fill="#5fb5aa" fill-opacity="0.62"/>
<circle cx="175.3" cy="449.8" r="1.45" fill="#5fb5aa" fill-opacity="0.62"/>
<circle cx="104.7" cy="458.2" r="1.45" fill="#5fb5aa" fill-opacity="0.62"/>
<circle cx="232.2" cy="457.8" r="1.45" fill="#5fb5aa" fill-opacity="0.62"/>
<circle cx="149.2" cy="456.9" r="1.45" fill="#5fb5aa" fill-opacity="0.62"/>
<circle cx="209.9" cy="459.0" r="1.45" fill="#5fb5aa" fill-opacity="0.62"/>
<circle cx="141.0" cy="457.9" r="1.45" fill="#5fb5aa" fill-opacity="0.62"/>
<circle cx="151.0" cy="457.9" r="1.45" fill="#5fb5aa" fill-opacity="0.62"/>
<circle cx="98.9" cy="459.5" r="1.45" fill="#5fb5aa" fill-opacity="0.62"/>
<circle cx="141.5" cy="458.5" r="1.45" fill="#5fb5aa" fill-opacity="0.62"/>
<circle cx="156.5" cy="458.7" r="1.45" fill="#5fb5aa" fill-opacity="0.62"/>
<circle cx="187.0" cy="459.2" r="1.45" fill="#5fb5aa" fill-opacity="0.62"/>
<circle cx="185.2" cy="458.3" r="1.45" fill="#5fb5aa" fill-opacity="0.62"/>
<circle cx="136.5" cy="459.0" r="1.45" fill="#5fb5aa" fill-opacity="0.62"/>
<circle cx="91.3" cy="459.2" r="1.45" fill="#5fb5aa" fill-opacity="0.62"/>
<circle cx="62.6" cy="458.4" r="1.45" fill="#5fb5aa" fill-opacity="0.62"/>
<circle cx="173.7" cy="456.5" r="1.45" fill="#5fb5aa" fill-opacity="0.62"/>
<circle cx="64.0" cy="459.5" r="1.45" fill="#5fb5aa" fill-opacity="0.62"/>
<circle cx="142.7" cy="459.7" r="1.45" fill="#5fb5aa" fill-opacity="0.62"/>
<circle cx="137.5" cy="459.5" r="1.45" fill="#5fb5aa" fill-opacity="0.62"/>
<circle cx="167.4" cy="458.0" r="1.45" fill="#5fb5aa" fill-opacity="0.62"/>
<circle cx="92.4" cy="457.2" r="1.45" fill="#5fb5aa" fill-opacity="0.62"/>
<circle cx="149.7" cy="459.0" r="1.45" fill="#5fb5aa" fill-opacity="0.62"/>
<circle cx="147.3" cy="458.9" r="1.45" fill="#5fb5aa" fill-opacity="0.62"/>
<circle cx="175.1" cy="459.4" r="1.45" fill="#5fb5aa" fill-opacity="0.62"/>
<circle cx="155.9" cy="458.4" r="1.45" fill="#5fb5aa" fill-opacity="0.62"/>
<circle cx="121.7" cy="458.4" r="1.45" fill="#5fb5aa" fill-opacity="0.62"/>
<circle cx="155.1" cy="459.4" r="1.45" fill="#5fb5aa" fill-opacity="0.62"/>
<circle cx="179.6" cy="457.6" r="1.45" fill="#5fb5aa" fill-opacity="0.62"/>
<circle cx="91.8" cy="459.7" r="1.45" fill="#5fb5aa" fill-opacity="0.62"/>
<circle cx="109.3" cy="458.7" r="1.45" fill="#5fb5aa" fill-opacity="0.62"/>
<circle cx="163.5" cy="459.6" r="1.45" fill="#5fb5aa" fill-opacity="0.62"/>
<circle cx="153.9" cy="459.7" r="1.45" fill="#5fb5aa" fill-opacity="0.62"/>
<circle cx="163.6" cy="458.2" r="1.45" fill="#5fb5aa" fill-opacity="0.62"/>
<circle cx="114.7" cy="459.7" r="1.45" fill="#5fb5aa" fill-opacity="0.62"/>
<circle cx="118.5" cy="457.3" r="1.45" fill="#5fb5aa" fill-opacity="0.62"/>
<circle cx="142.7" cy="458.2" r="1.45" fill="#5fb5aa" fill-opacity="0.62"/>
<circle cx="159.7" cy="459.2" r="1.45" fill="#5fb5aa" fill-opacity="0.62"/>
<circle cx="236.4" cy="459.2" r="1.45" fill="#5fb5aa" fill-opacity="0.62"/>
<circle cx="137.8" cy="457.9" r="1.45" fill="#5fb5aa" fill-opacity="0.62"/>
<circle cx="139.9" cy="457.9" r="1.45" fill="#5fb5aa" fill-opacity="0.62"/>
<circle cx="135.0" cy="458.8" r="1.45" fill="#5fb5aa" fill-opacity="0.62"/>
<circle cx="178.6" cy="459.6" r="1.45" fill="#5fb5aa" fill-opacity="0.62"/>
<circle cx="202.5" cy="441.9" r="1.45" fill="#5fb5aa" fill-opacity="0.62"/>
<circle cx="77.3" cy="459.2" r="1.45" fill="#5fb5aa" fill-opacity="0.62"/>
<circle cx="136.6" cy="459.6" r="1.45" fill="#5fb5aa" fill-opacity="0.62"/>
<circle cx="193.1" cy="458.7" r="1.45" fill="#5fb5aa" fill-opacity="0.62"/>
<circle cx="117.8" cy="457.8" r="1.45" fill="#5fb5aa" fill-opacity="0.62"/>
<circle cx="108.9" cy="459.0" r="1.45" fill="#5fb5aa" fill-opacity="0.62"/>
<circle cx="97.0" cy="459.0" r="1.45" fill="#5fb5aa" fill-opacity="0.62"/>
<circle cx="156.5" cy="459.7" r="1.45" fill="#5fb5aa" fill-opacity="0.62"/>
<circle cx="200.2" cy="433.6" r="1.45" fill="#5fb5aa" fill-opacity="0.62"/>
<circle cx="180.5" cy="452.2" r="1.45" fill="#5fb5aa" fill-opacity="0.62"/>
<circle cx="161.7" cy="458.5" r="1.45" fill="#5fb5aa" fill-opacity="0.62"/>
<circle cx="194.9" cy="458.4" r="1.45" fill="#5fb5aa" fill-opacity="0.62"/>
<circle cx="170.2" cy="459.1" r="1.45" fill="#5fb5aa" fill-opacity="0.62"/>
<circle cx="159.3" cy="457.5" r="1.45" fill="#5fb5aa" fill-opacity="0.62"/>
<circle cx="110.8" cy="458.0" r="1.45" fill="#5fb5aa" fill-opacity="0.62"/>
<circle cx="122.2" cy="459.2" r="1.45" fill="#5fb5aa" fill-opacity="0.62"/>
<circle cx="220.2" cy="444.7" r="1.45" fill="#5fb5aa" fill-opacity="0.62"/>
<circle cx="57.8" cy="458.1" r="1.45" fill="#5fb5aa" fill-opacity="0.62"/>
<circle cx="162.0" cy="458.9" r="1.45" fill="#5fb5aa" fill-opacity="0.62"/>
<circle cx="162.0" cy="458.4" r="1.45" fill="#5fb5aa" fill-opacity="0.62"/>
<circle cx="128.7" cy="456.3" r="1.45" fill="#5fb5aa" fill-opacity="0.62"/>
<circle cx="180.6" cy="458.3" r="1.45" fill="#5fb5aa" fill-opacity="0.62"/>
<circle cx="177.9" cy="459.6" r="1.45" fill="#5fb5aa" fill-opacity="0.62"/>
<circle cx="158.3" cy="458.7" r="1.45" fill="#5fb5aa" fill-opacity="0.62"/>
<circle cx="95.4" cy="458.3" r="1.45" fill="#5fb5aa" fill-opacity="0.62"/>
<circle cx="76.0" cy="458.5" r="1.45" fill="#5fb5aa" fill-opacity="0.62"/>
<circle cx="105.4" cy="459.4" r="1.45" fill="#5fb5aa" fill-opacity="0.62"/>
<circle cx="204.4" cy="454.6" r="1.45" fill="#5fb5aa" fill-opacity="0.62"/>
<circle cx="174.9" cy="459.6" r="1.45" fill="#5fb5aa" fill-opacity="0.62"/>
<circle cx="147.8" cy="458.0" r="1.45" fill="#5fb5aa" fill-opacity="0.62"/>
<circle cx="60.3" cy="459.1" r="1.45" fill="#5fb5aa" fill-opacity="0.62"/>
<circle cx="93.6" cy="458.8" r="1.45" fill="#5fb5aa" fill-opacity="0.62"/>
<circle cx="118.1" cy="458.2" r="1.45" fill="#5fb5aa" fill-opacity="0.62"/>
<circle cx="176.1" cy="456.8" r="1.45" fill="#5fb5aa" fill-opacity="0.62"/>
<circle cx="132.8" cy="457.4" r="1.45" fill="#5fb5aa" fill-opacity="0.62"/>
<circle cx="131.0" cy="458.7" r="1.45" fill="#5fb5aa" fill-opacity="0.62"/>
<circle cx="186.4" cy="459.3" r="1.45" fill="#5fb5aa" fill-opacity="0.62"/>
<circle cx="83.9" cy="459.6" r="1.45" fill="#5fb5aa" fill-opacity="0.62"/>
<circle cx="157.4" cy="459.7" r="1.45" fill="#5fb5aa" fill-opacity="0.62"/>
<circle cx="107.8" cy="459.1" r="1.45" fill="#5fb5aa" fill-opacity="0.62"/>
<circle cx="183.9" cy="459.3" r="1.45" fill="#5fb5aa" fill-opacity="0.62"/>
<circle cx="69.3" cy="458.7" r="1.45" fill="#5fb5aa" fill-opacity="0.62"/>
<circle cx="126.1" cy="459.5" r="1.45" fill="#5fb5aa" fill-opacity="0.62"/>
<circle cx="113.4" cy="457.7" r="1.45" fill="#5fb5aa" fill-opacity="0.62"/>
<circle cx="194.3" cy="459.0" r="1.45" fill="#5fb5aa" fill-opacity="0.62"/>
<circle cx="169.7" cy="458.8" r="1.45" fill="#5fb5aa" fill-opacity="0.62"/>
<circle cx="133.8" cy="459.2" r="1.45" fill="#5fb5aa" fill-opacity="0.62"/>
<circle cx="139.3" cy="459.0" r="1.45" fill="#5fb5aa" fill-opacity="0.62"/>
<circle cx="141.9" cy="459.4" r="1.45" fill="#5fb5aa" fill-opacity="0.62"/>
<circle cx="120.7" cy="459.1" r="1.45" fill="#5fb5aa" fill-opacity="0.62"/>
<circle cx="95.1" cy="457.1" r="1.45" fill="#5fb5aa" fill-opacity="0.62"/>
<circle cx="131.3" cy="458.6" r="1.45" fill="#5fb5aa" fill-opacity="0.62"/>
<circle cx="131.6" cy="459.2" r="1.45" fill="#5fb5aa" fill-opacity="0.62"/>
<circle cx="102.9" cy="459.7" r="1.45" fill="#5fb5aa" fill-opacity="0.62"/>
<circle cx="240.8" cy="439.0" r="1.45" fill="#5fb5aa" fill-opacity="0.62"/>
<circle cx="74.3" cy="458.5" r="1.45" fill="#5fb5aa" fill-opacity="0.62"/>
<circle cx="156.1" cy="459.1" r="1.45" fill="#5fb5aa" fill-opacity="0.62"/>
<circle cx="105.1" cy="459.3" r="1.45" fill="#5fb5aa" fill-opacity="0.62"/>
<circle cx="126.9" cy="459.0" r="1.45" fill="#5fb5aa" fill-opacity="0.62"/>
<circle cx="138.8" cy="457.3" r="1.45" fill="#5fb5aa" fill-opacity="0.62"/>
<circle cx="169.2" cy="455.7" r="1.45" fill="#5fb5aa" fill-opacity="0.62"/>
<circle cx="56.4" cy="459.3" r="1.45" fill="#5fb5aa" fill-opacity="0.62"/>
<circle cx="117.5" cy="457.6" r="1.45" fill="#5fb5aa" fill-opacity="0.62"/>
<circle cx="58.7" cy="457.3" r="1.45" fill="#5fb5aa" fill-opacity="0.62"/>
<circle cx="196.1" cy="459.1" r="1.45" fill="#5fb5aa" fill-opacity="0.62"/>
<circle cx="145.2" cy="459.2" r="1.45" fill="#5fb5aa" fill-opacity="0.62"/>
<circle cx="159.2" cy="459.5" r="1.45" fill="#5fb5aa" fill-opacity="0.62"/>
<circle cx="198.9" cy="459.6" r="1.45" fill="#5fb5aa" fill-opacity="0.62"/>
<circle cx="121.7" cy="448.6" r="1.45" fill="#5fb5aa" fill-opacity="0.62"/>
<circle cx="204.6" cy="440.7" r="1.45" fill="#5fb5aa" fill-opacity="0.62"/>
<circle cx="82.2" cy="458.0" r="1.45" fill="#5fb5aa" fill-opacity="0.62"/>
<circle cx="159.0" cy="458.7" r="1.45" fill="#5fb5aa" fill-opacity="0.62"/>
<circle cx="157.3" cy="458.8" r="1.45" fill="#5fb5aa" fill-opacity="0.62"/>
<circle cx="124.7" cy="455.1" r="1.45" fill="#5fb5aa" fill-opacity="0.62"/>
<circle cx="204.5" cy="457.5" r="1.45" fill="#5fb5aa" fill-opacity="0.62"/>
<circle cx="147.4" cy="458.5" r="1.45" fill="#5fb5aa" fill-opacity="0.62"/>
<circle cx="184.8" cy="457.8" r="1.45" fill="#5fb5aa" fill-opacity="0.62"/>
<circle cx="163.0" cy="458.3" r="1.45" fill="#5fb5aa" fill-opacity="0.62"/>
<circle cx="160.6" cy="456.8" r="1.45" fill="#5fb5aa" fill-opacity="0.62"/>
<circle cx="174.1" cy="439.3" r="1.45" fill="#5fb5aa" fill-opacity="0.62"/>
<circle cx="75.9" cy="457.8" r="1.45" fill="#5fb5aa" fill-opacity="0.62"/>
<circle cx="183.6" cy="459.1" r="1.45" fill="#5fb5aa" fill-opacity="0.62"/>
<circle cx="83.9" cy="456.9" r="1.45" fill="#5fb5aa" fill-opacity="0.62"/>
<circle cx="150.4" cy="459.4" r="1.45" fill="#5fb5aa" fill-opacity="0.62"/>
<circle cx="176.1" cy="459.5" r="1.45" fill="#5fb5aa" fill-opacity="0.62"/>
<circle cx="168.3" cy="459.3" r="1.45" fill="#5fb5aa" fill-opacity="0.62"/>
<circle cx="132.8" cy="459.4" r="1.45" fill="#5fb5aa" fill-opacity="0.62"/>
<circle cx="98.4" cy="458.0" r="1.45" fill="#5fb5aa" fill-opacity="0.62"/>
<circle cx="173.2" cy="459.1" r="1.45" fill="#5fb5aa" fill-opacity="0.62"/>
<circle cx="87.5" cy="458.6" r="1.45" fill="#5fb5aa" fill-opacity="0.62"/>
<circle cx="198.1" cy="459.4" r="1.45" fill="#5fb5aa" fill-opacity="0.62"/>
<circle cx="133.3" cy="457.8" r="1.45" fill="#5fb5aa" fill-opacity="0.62"/>
<circle cx="114.7" cy="455.8" r="1.45" fill="#5fb5aa" fill-opacity="0.62"/>
<circle cx="127.4" cy="459.0" r="1.45" fill="#5fb5aa" fill-opacity="0.62"/>
<circle cx="125.8" cy="458.8" r="1.45" fill="#5fb5aa" fill-opacity="0.62"/>
<circle cx="158.2" cy="459.8" r="1.45" fill="#5fb5aa" fill-opacity="0.62"/>
<circle cx="152.8" cy="457.7" r="1.45" fill="#5fb5aa" fill-opacity="0.62"/>
<circle cx="160.4" cy="459.1" r="1.45" fill="#5fb5aa" fill-opacity="0.62"/>
<circle cx="164.5" cy="459.5" r="1.45" fill="#5fb5aa" fill-opacity="0.62"/>
<circle cx="125.2" cy="458.3" r="1.45" fill="#5fb5aa" fill-opacity="0.62"/>
<circle cx="217.4" cy="459.8" r="1.45" fill="#5fb5aa" fill-opacity="0.62"/>
<circle cx="182.2" cy="459.8" r="1.45" fill="#5fb5aa" fill-opacity="0.62"/>
<circle cx="110.8" cy="458.1" r="1.45" fill="#5fb5aa" fill-opacity="0.62"/>
<circle cx="110.8" cy="458.3" r="1.45" fill="#5fb5aa" fill-opacity="0.62"/>
<circle cx="128.2" cy="459.5" r="1.45" fill="#5fb5aa" fill-opacity="0.62"/>
<circle cx="190.6" cy="458.9" r="1.45" fill="#5fb5aa" fill-opacity="0.62"/>
<circle cx="168.3" cy="459.6" r="1.45" fill="#5fb5aa" fill-opacity="0.62"/>
<circle cx="108.2" cy="459.5" r="1.45" fill="#5fb5aa" fill-opacity="0.62"/>
<circle cx="187.5" cy="457.3" r="1.45" fill="#5fb5aa" fill-opacity="0.62"/>
<circle cx="192.1" cy="455.7" r="1.45" fill="#5fb5aa" fill-opacity="0.62"/>
<circle cx="74.0" cy="457.4" r="1.45" fill="#5fb5aa" fill-opacity="0.62"/>
<circle cx="182.9" cy="458.9" r="1.45" fill="#5fb5aa" fill-opacity="0.62"/>
<circle cx="138.7" cy="459.6" r="1.45" fill="#5fb5aa" fill-opacity="0.62"/>
<circle cx="140.2" cy="458.2" r="1.45" fill="#5fb5aa" fill-opacity="0.62"/>
<circle cx="155.5" cy="458.9" r="1.45" fill="#5fb5aa" fill-opacity="0.62"/>
<circle cx="126.5" cy="459.7" r="1.45" fill="#5fb5aa" fill-opacity="0.62"/>
<circle cx="124.8" cy="458.1" r="1.45" fill="#5fb5aa" fill-opacity="0.62"/>
<circle cx="148.3" cy="458.6" r="1.45" fill="#5fb5aa" fill-opacity="0.62"/>
<circle cx="162.8" cy="459.2" r="1.45" fill="#5fb5aa" fill-opacity="0.62"/>
<circle cx="166.3" cy="458.3" r="1.45" fill="#5fb5aa" fill-opacity="0.62"/>
<circle cx="146.4" cy="459.5" r="1.45" fill="#5fb5aa" fill-opacity="0.62"/>
<circle cx="146.9" cy="458.6" r="1.45" fill="#5fb5aa" fill-opacity="0.62"/>
<circle cx="167.6" cy="458.5" r="1.45" fill="#5fb5aa" fill-opacity="0.62"/>
<circle cx="176.5" cy="459.3" r="1.45" fill="#5fb5aa" fill-opacity="0.62"/>
<circle cx="115.1" cy="447.9" r="1.45" fill="#5fb5aa" fill-opacity="0.62"/>
<circle cx="120.5" cy="458.5" r="1.45" fill="#5fb5aa" fill-opacity="0.62"/>
<circle cx="154.7" cy="459.5" r="1.45" fill="#5fb5aa" fill-opacity="0.62"/>
<circle cx="83.5" cy="459.1" r="1.45" fill="#5fb5aa" fill-opacity="0.62"/>
<circle cx="186.0" cy="458.8" r="1.45" fill="#5fb5aa" fill-opacity="0.62"/>
<circle cx="180.0" cy="457.8" r="1.45" fill="#5fb5aa" fill-opacity="0.62"/>
<circle cx="210.0" cy="459.2" r="1.45" fill="#5fb5aa" fill-opacity="0.62"/>
<circle cx="154.9" cy="459.0" r="1.45" fill="#5fb5aa" fill-opacity="0.62"/>
<circle cx="138.3" cy="457.8" r="1.45" fill="#5fb5aa" fill-opacity="0.62"/>
<circle cx="141.6" cy="459.7" r="1.45" fill="#5fb5aa" fill-opacity="0.62"/>
<circle cx="55.3" cy="457.1" r="1.45" fill="#5fb5aa" fill-opacity="0.62"/>
<circle cx="175.3" cy="421.9" r="1.45" fill="#5fb5aa" fill-opacity="0.62"/>
<circle cx="149.8" cy="458.6" r="1.45" fill="#5fb5aa" fill-opacity="0.62"/>
<circle cx="185.0" cy="458.3" r="1.45" fill="#5fb5aa" fill-opacity="0.62"/>
<circle cx="185.1" cy="459.4" r="1.45" fill="#5fb5aa" fill-opacity="0.62"/>
<circle cx="61.6" cy="458.9" r="1.45" fill="#5fb5aa" fill-opacity="0.62"/>
<circle cx="124.5" cy="458.6" r="1.45" fill="#5fb5aa" fill-opacity="0.62"/>
<circle cx="167.4" cy="457.8" r="1.45" fill="#5fb5aa" fill-opacity="0.62"/>
<circle cx="185.7" cy="459.4" r="1.45" fill="#5fb5aa" fill-opacity="0.62"/>
<circle cx="123.4" cy="459.3" r="1.45" fill="#5fb5aa" fill-opacity="0.62"/>
<circle cx="138.9" cy="457.5" r="1.45" fill="#5fb5aa" fill-opacity="0.62"/>
<circle cx="68.9" cy="458.8" r="1.45" fill="#5fb5aa" fill-opacity="0.62"/>
<circle cx="192.3" cy="443.0" r="1.45" fill="#5fb5aa" fill-opacity="0.62"/>
<circle cx="167.7" cy="458.9" r="1.45" fill="#5fb5aa" fill-opacity="0.62"/>
<circle cx="168.4" cy="458.1" r="1.45" fill="#5fb5aa" fill-opacity="0.62"/>
<circle cx="147.0" cy="458.8" r="1.45" fill="#5fb5aa" fill-opacity="0.62"/>
<circle cx="66.9" cy="459.3" r="1.45" fill="#5fb5aa" fill-opacity="0.62"/>
<circle cx="191.9" cy="459.3" r="1.45" fill="#5fb5aa" fill-opacity="0.62"/>
<circle cx="62.2" cy="458.5" r="1.45" fill="#5fb5aa" fill-opacity="0.62"/>
<circle cx="224.3" cy="459.0" r="1.45" fill="#5fb5aa" fill-opacity="0.62"/>
<circle cx="166.5" cy="458.0" r="1.45" fill="#5fb5aa" fill-opacity="0.62"/>
<circle cx="166.2" cy="459.1" r="1.45" fill="#5fb5aa" fill-opacity="0.62"/>
<circle cx="146.7" cy="459.6" r="1.45" fill="#5fb5aa" fill-opacity="0.62"/>
<circle cx="111.9" cy="457.9" r="1.45" fill="#5fb5aa" fill-opacity="0.62"/>
<circle cx="156.3" cy="458.8" r="1.45" fill="#5fb5aa" fill-opacity="0.62"/>
<circle cx="253.4" cy="448.0" r="1.45" fill="#5fb5aa" fill-opacity="0.62"/>
<circle cx="154.4" cy="454.2" r="1.45" fill="#5fb5aa" fill-opacity="0.62"/>
<circle cx="188.1" cy="458.5" r="1.45" fill="#5fb5aa" fill-opacity="0.62"/>
<circle cx="143.7" cy="456.6" r="1.45" fill="#5fb5aa" fill-opacity="0.62"/>
<circle cx="163.0" cy="459.6" r="1.45" fill="#5fb5aa" fill-opacity="0.62"/>
<circle cx="103.2" cy="456.4" r="1.45" fill="#5fb5aa" fill-opacity="0.62"/>
<circle cx="127.0" cy="459.4" r="1.45" fill="#5fb5aa" fill-opacity="0.62"/>
<circle cx="123.5" cy="453.0" r="1.45" fill="#5fb5aa" fill-opacity="0.62"/>
<circle cx="166.5" cy="453.7" r="1.45" fill="#5fb5aa" fill-opacity="0.62"/>
<circle cx="125.7" cy="458.5" r="1.45" fill="#5fb5aa" fill-opacity="0.62"/>
<circle cx="76.0" cy="458.2" r="1.45" fill="#5fb5aa" fill-opacity="0.62"/>
<circle cx="118.4" cy="457.3" r="1.45" fill="#5fb5aa" fill-opacity="0.62"/>
<circle cx="164.4" cy="454.0" r="1.45" fill="#5fb5aa" fill-opacity="0.62"/>
<circle cx="135.8" cy="459.6" r="1.45" fill="#5fb5aa" fill-opacity="0.62"/>
<circle cx="110.2" cy="459.4" r="1.45" fill="#5fb5aa" fill-opacity="0.62"/>
<circle cx="84.5" cy="459.2" r="1.45" fill="#5fb5aa" fill-opacity="0.62"/>
<circle cx="170.3" cy="459.8" r="1.45" fill="#5fb5aa" fill-opacity="0.62"/>
<circle cx="167.0" cy="457.9" r="1.45" fill="#5fb5aa" fill-opacity="0.62"/>
<circle cx="154.3" cy="455.6" r="1.45" fill="#5fb5aa" fill-opacity="0.62"/>
<circle cx="122.9" cy="452.5" r="1.45" fill="#5fb5aa" fill-opacity="0.62"/>
<circle cx="159.5" cy="457.8" r="1.45" fill="#5fb5aa" fill-opacity="0.62"/>
<circle cx="180.8" cy="459.4" r="1.45" fill="#5fb5aa" fill-opacity="0.62"/>
<circle cx="205.5" cy="432.4" r="1.45" fill="#5fb5aa" fill-opacity="0.62"/>
<circle cx="169.9" cy="459.0" r="1.45" fill="#5fb5aa" fill-opacity="0.62"/>
<circle cx="144.7" cy="459.4" r="1.45" fill="#5fb5aa" fill-opacity="0.62"/>
<circle cx="79.4" cy="458.7" r="1.45" fill="#5fb5aa" fill-opacity="0.62"/>
<circle cx="103.6" cy="456.2" r="1.45" fill="#5fb5aa" fill-opacity="0.62"/>
<circle cx="110.0" cy="459.6" r="1.45" fill="#5fb5aa" fill-opacity="0.62"/>
<circle cx="131.5" cy="457.6" r="1.45" fill="#5fb5aa" fill-opacity="0.62"/>
<circle cx="158.2" cy="459.1" r="1.45" fill="#5fb5aa" fill-opacity="0.62"/>
<circle cx="206.2" cy="431.8" r="1.45" fill="#5fb5aa" fill-opacity="0.62"/>
<circle cx="230.6" cy="458.5" r="1.45" fill="#5fb5aa" fill-opacity="0.62"/>
<circle cx="120.0" cy="458.9" r="1.45" fill="#5fb5aa" fill-opacity="0.62"/>
<circle cx="176.4" cy="458.9" r="1.45" fill="#5fb5aa" fill-opacity="0.62"/>
<circle cx="172.2" cy="459.5" r="1.45" fill="#5fb5aa" fill-opacity="0.62"/>
<circle cx="79.4" cy="456.9" r="1.45" fill="#5fb5aa" fill-opacity="0.62"/>
<circle cx="158.1" cy="458.0" r="1.45" fill="#5fb5aa" fill-opacity="0.62"/>
<circle cx="145.0" cy="458.3" r="1.45" fill="#5fb5aa" fill-opacity="0.62"/>
<circle cx="117.1" cy="456.5" r="1.45" fill="#5fb5aa" fill-opacity="0.62"/>
<circle cx="201.6" cy="458.6" r="1.45" fill="#5fb5aa" fill-opacity="0.62"/>
<circle cx="114.9" cy="458.8" r="1.45" fill="#5fb5aa" fill-opacity="0.62"/>
<circle cx="169.5" cy="458.3" r="1.45" fill="#5fb5aa" fill-opacity="0.62"/>
<circle cx="140.8" cy="458.9" r="1.45" fill="#5fb5aa" fill-opacity="0.62"/>
<circle cx="88.3" cy="458.9" r="1.45" fill="#5fb5aa" fill-opacity="0.62"/>
<circle cx="102.0" cy="459.0" r="1.45" fill="#5fb5aa" fill-opacity="0.62"/>
<circle cx="149.8" cy="459.4" r="1.45" fill="#5fb5aa" fill-opacity="0.62"/>
<circle cx="141.4" cy="456.0" r="1.45" fill="#5fb5aa" fill-opacity="0.62"/>
<circle cx="194.6" cy="427.5" r="1.45" fill="#5fb5aa" fill-opacity="0.62"/>
<circle cx="156.6" cy="459.6" r="1.45" fill="#5fb5aa" fill-opacity="0.62"/>
<circle cx="170.5" cy="459.8" r="1.45" fill="#5fb5aa" fill-opacity="0.62"/>
<circle cx="164.9" cy="453.0" r="1.45" fill="#5fb5aa" fill-opacity="0.62"/>
<circle cx="184.0" cy="458.4" r="1.45" fill="#5fb5aa" fill-opacity="0.62"/>
<circle cx="131.4" cy="458.4" r="1.45" fill="#5fb5aa" fill-opacity="0.62"/>
<circle cx="189.2" cy="459.4" r="1.45" fill="#5fb5aa" fill-opacity="0.62"/>
<circle cx="121.4" cy="458.5" r="1.45" fill="#5fb5aa" fill-opacity="0.62"/>
<circle cx="118.1" cy="444.6" r="1.45" fill="#5fb5aa" fill-opacity="0.62"/>
<circle cx="134.6" cy="458.0" r="1.45" fill="#5fb5aa" fill-opacity="0.62"/>
<circle cx="202.0" cy="427.6" r="1.45" fill="#5fb5aa" fill-opacity="0.62"/>
<circle cx="170.9" cy="459.3" r="1.45" fill="#5fb5aa" fill-opacity="0.62"/>
<circle cx="190.7" cy="459.4" r="1.45" fill="#5fb5aa" fill-opacity="0.62"/>
<circle cx="141.9" cy="457.3" r="1.45" fill="#5fb5aa" fill-opacity="0.62"/>
<circle cx="61.8" cy="457.8" r="1.45" fill="#5fb5aa" fill-opacity="0.62"/>
<circle cx="137.7" cy="458.5" r="1.45" fill="#5fb5aa" fill-opacity="0.62"/>
<circle cx="125.4" cy="458.7" r="1.45" fill="#5fb5aa" fill-opacity="0.62"/>
<circle cx="118.2" cy="458.4" r="1.45" fill="#5fb5aa" fill-opacity="0.62"/>
<circle cx="93.3" cy="457.7" r="1.45" fill="#5fb5aa" fill-opacity="0.62"/>
<circle cx="143.3" cy="458.4" r="1.45" fill="#5fb5aa" fill-opacity="0.62"/>
<circle cx="167.0" cy="458.6" r="1.45" fill="#5fb5aa" fill-opacity="0.62"/>
<circle cx="87.0" cy="458.3" r="1.45" fill="#5fb5aa" fill-opacity="0.62"/>
<circle cx="80.6" cy="457.2" r="1.45" fill="#5fb5aa" fill-opacity="0.62"/>
<circle cx="189.4" cy="458.9" r="1.45" fill="#5fb5aa" fill-opacity="0.62"/>
<circle cx="147.6" cy="458.5" r="1.45" fill="#5fb5aa" fill-opacity="0.62"/>
<circle cx="101.4" cy="459.0" r="1.45" fill="#5fb5aa" fill-opacity="0.62"/>
<circle cx="99.0" cy="457.2" r="1.45" fill="#5fb5aa" fill-opacity="0.62"/>
<circle cx="134.1" cy="445.0" r="1.45" fill="#5fb5aa" fill-opacity="0.62"/>
<circle cx="121.8" cy="459.2" r="1.45" fill="#5fb5aa" fill-opacity="0.62"/>
<circle cx="154.9" cy="459.2" r="1.45" fill="#5fb5aa" fill-opacity="0.62"/>
<circle cx="137.2" cy="456.7" r="1.45" fill="#5fb5aa" fill-opacity="0.62"/>
<circle cx="93.2" cy="456.7" r="1.45" fill="#5fb5aa" fill-opacity="0.62"/>
<circle cx="160.2" cy="458.3" r="1.45" fill="#5fb5aa" fill-opacity="0.62"/>
<circle cx="133.6" cy="458.5" r="1.45" fill="#5fb5aa" fill-opacity="0.62"/>
<circle cx="184.7" cy="457.0" r="1.45" fill="#5fb5aa" fill-opacity="0.62"/>
<circle cx="96.6" cy="456.9" r="1.45" fill="#5fb5aa" fill-opacity="0.62"/>
<circle cx="115.9" cy="458.9" r="1.45" fill="#5fb5aa" fill-opacity="0.62"/>
<circle cx="120.1" cy="459.1" r="1.45" fill="#5fb5aa" fill-opacity="0.62"/>
<circle cx="192.0" cy="457.6" r="1.45" fill="#5fb5aa" fill-opacity="0.62"/>
<circle cx="124.1" cy="457.6" r="1.45" fill="#5fb5aa" fill-opacity="0.62"/>
<circle cx="204.9" cy="458.3" r="1.45" fill="#5fb5aa" fill-opacity="0.62"/>
<circle cx="194.7" cy="457.5" r="1.45" fill="#5fb5aa" fill-opacity="0.62"/>
<circle cx="97.8" cy="458.1" r="1.45" fill="#5fb5aa" fill-opacity="0.62"/>
<circle cx="157.1" cy="459.1" r="1.45" fill="#5fb5aa" fill-opacity="0.62"/>
<circle cx="165.9" cy="444.4" r="1.45" fill="#5fb5aa" fill-opacity="0.62"/>
<circle cx="152.9" cy="459.7" r="1.45" fill="#5fb5aa" fill-opacity="0.62"/>
<circle cx="152.3" cy="459.3" r="1.45" fill="#5fb5aa" fill-opacity="0.62"/>
<circle cx="158.2" cy="457.7" r="1.45" fill="#5fb5aa" fill-opacity="0.62"/>
<circle cx="130.5" cy="458.8" r="1.45" fill="#5fb5aa" fill-opacity="0.62"/>
<circle cx="157.6" cy="457.2" r="1.45" fill="#5fb5aa" fill-opacity="0.62"/>
<circle cx="145.1" cy="453.9" r="1.45" fill="#5fb5aa" fill-opacity="0.62"/>
<circle cx="142.1" cy="459.5" r="1.45" fill="#5fb5aa" fill-opacity="0.62"/>
<circle cx="121.2" cy="459.0" r="1.45" fill="#5fb5aa" fill-opacity="0.62"/>
<circle cx="165.7" cy="456.8" r="1.45" fill="#5fb5aa" fill-opacity="0.62"/>
<circle cx="187.4" cy="454.3" r="1.45" fill="#5fb5aa" fill-opacity="0.62"/>
<circle cx="182.3" cy="458.6" r="1.45" fill="#5fb5aa" fill-opacity="0.62"/>
<circle cx="104.4" cy="459.4" r="1.45" fill="#5fb5aa" fill-opacity="0.62"/>
<circle cx="175.7" cy="457.5" r="1.45" fill="#5fb5aa" fill-opacity="0.62"/>
<circle cx="87.7" cy="457.6" r="1.45" fill="#5fb5aa" fill-opacity="0.62"/>
<circle cx="123.4" cy="455.9" r="1.45" fill="#5fb5aa" fill-opacity="0.62"/>
<circle cx="207.8" cy="430.6" r="1.45" fill="#5fb5aa" fill-opacity="0.62"/>
<circle cx="144.9" cy="457.7" r="1.45" fill="#5fb5aa" fill-opacity="0.62"/>
<circle cx="182.2" cy="458.0" r="1.45" fill="#5fb5aa" fill-opacity="0.62"/>
<circle cx="177.1" cy="459.5" r="1.45" fill="#5fb5aa" fill-opacity="0.62"/>
<circle cx="68.3" cy="458.2" r="1.45" fill="#5fb5aa" fill-opacity="0.62"/>
<circle cx="161.7" cy="458.1" r="1.45" fill="#5fb5aa" fill-opacity="0.62"/>
<circle cx="166.4" cy="458.1" r="1.45" fill="#5fb5aa" fill-opacity="0.62"/>
<circle cx="192.4" cy="458.6" r="1.45" fill="#5fb5aa" fill-opacity="0.62"/>
<circle cx="154.2" cy="459.5" r="1.45" fill="#5fb5aa" fill-opacity="0.62"/>
<circle cx="253.4" cy="432.4" r="1.45" fill="#5fb5aa" fill-opacity="0.62"/>
<circle cx="81.4" cy="459.1" r="1.45" fill="#5fb5aa" fill-opacity="0.62"/>
<circle cx="150.6" cy="459.7" r="1.45" fill="#5fb5aa" fill-opacity="0.62"/>
<circle cx="143.3" cy="459.7" r="1.45" fill="#5fb5aa" fill-opacity="0.62"/>
<circle cx="184.7" cy="459.2" r="1.45" fill="#5fb5aa" fill-opacity="0.62"/>
<circle cx="85.0" cy="459.6" r="1.45" fill="#5fb5aa" fill-opacity="0.62"/>
<circle cx="141.1" cy="459.3" r="1.45" fill="#5fb5aa" fill-opacity="0.62"/>
<circle cx="167.4" cy="458.2" r="1.45" fill="#5fb5aa" fill-opacity="0.62"/>
<circle cx="143.6" cy="454.4" r="1.45" fill="#5fb5aa" fill-opacity="0.62"/>
<circle cx="108.2" cy="458.5" r="1.45" fill="#5fb5aa" fill-opacity="0.62"/>
<circle cx="119.8" cy="457.9" r="1.45" fill="#5fb5aa" fill-opacity="0.62"/>
<circle cx="84.4" cy="458.7" r="1.45" fill="#5fb5aa" fill-opacity="0.62"/>
<circle cx="159.4" cy="458.3" r="1.45" fill="#5fb5aa" fill-opacity="0.62"/>
<circle cx="66.7" cy="457.9" r="1.45" fill="#5fb5aa" fill-opacity="0.62"/>
<circle cx="84.6" cy="459.4" r="1.45" fill="#5fb5aa" fill-opacity="0.62"/>
<circle cx="165.1" cy="457.6" r="1.45" fill="#5fb5aa" fill-opacity="0.62"/>
<circle cx="57.5" cy="459.2" r="1.45" fill="#5fb5aa" fill-opacity="0.62"/>
<circle cx="235.8" cy="457.3" r="1.45" fill="#5fb5aa" fill-opacity="0.62"/>
<circle cx="151.2" cy="458.2" r="1.45" fill="#5fb5aa" fill-opacity="0.62"/>
<circle cx="156.6" cy="459.7" r="1.45" fill="#5fb5aa" fill-opacity="0.62"/>
<circle cx="173.9" cy="458.2" r="1.45" fill="#5fb5aa" fill-opacity="0.62"/>
<circle cx="121.8" cy="459.2" r="1.45" fill="#5fb5aa" fill-opacity="0.62"/>
<circle cx="150.6" cy="444.8" r="1.45" fill="#5fb5aa" fill-opacity="0.62"/>
<circle cx="134.5" cy="458.2" r="1.45" fill="#5fb5aa" fill-opacity="0.62"/>
<circle cx="137.7" cy="459.5" r="1.45" fill="#5fb5aa" fill-opacity="0.62"/>
<circle cx="144.2" cy="459.3" r="1.45" fill="#5fb5aa" fill-opacity="0.62"/>
<circle cx="164.5" cy="459.2" r="1.45" fill="#5fb5aa" fill-opacity="0.62"/>
<circle cx="156.0" cy="458.9" r="1.45" fill="#5fb5aa" fill-opacity="0.62"/>
<circle cx="69.1" cy="459.6" r="1.45" fill="#5fb5aa" fill-opacity="0.62"/>
<circle cx="116.8" cy="458.7" r="1.45" fill="#5fb5aa" fill-opacity="0.62"/>
<circle cx="112.1" cy="458.4" r="1.45" fill="#5fb5aa" fill-opacity="0.62"/>
<circle cx="178.6" cy="456.6" r="1.45" fill="#5fb5aa" fill-opacity="0.62"/>
<circle cx="210.9" cy="459.4" r="1.45" fill="#5fb5aa" fill-opacity="0.62"/>
<circle cx="193.2" cy="449.6" r="1.45" fill="#5fb5aa" fill-opacity="0.62"/>
<circle cx="109.3" cy="458.7" r="1.45" fill="#5fb5aa" fill-opacity="0.62"/>
<circle cx="104.2" cy="456.9" r="1.45" fill="#5fb5aa" fill-opacity="0.62"/>
<circle cx="218.0" cy="459.1" r="1.45" fill="#5fb5aa" fill-opacity="0.62"/>
<circle cx="163.9" cy="456.7" r="1.45" fill="#5fb5aa" fill-opacity="0.62"/>
<circle cx="162.8" cy="457.2" r="1.45" fill="#5fb5aa" fill-opacity="0.62"/>
<circle cx="136.8" cy="459.7" r="1.45" fill="#5fb5aa" fill-opacity="0.62"/>
<circle cx="128.9" cy="458.8" r="1.45" fill="#5fb5aa" fill-opacity="0.62"/>
<circle cx="179.2" cy="458.2" r="1.45" fill="#5fb5aa" fill-opacity="0.62"/>
<circle cx="190.4" cy="459.2" r="1.45" fill="#5fb5aa" fill-opacity="0.62"/>
<circle cx="90.3" cy="459.7" r="1.45" fill="#5fb5aa" fill-opacity="0.62"/>
<circle cx="183.8" cy="459.7" r="1.45" fill="#5fb5aa" fill-opacity="0.62"/>
<circle cx="172.6" cy="458.3" r="1.45" fill="#5fb5aa" fill-opacity="0.62"/>
<circle cx="86.6" cy="457.3" r="1.45" fill="#5fb5aa" fill-opacity="0.62"/>
<circle cx="144.9" cy="458.8" r="1.45" fill="#5fb5aa" fill-opacity="0.62"/>
<circle cx="122.7" cy="458.2" r="1.45" fill="#5fb5aa" fill-opacity="0.62"/>
<circle cx="63.4" cy="458.6" r="1.45" fill="#5fb5aa" fill-opacity="0.62"/>
<circle cx="115.5" cy="459.2" r="1.45" fill="#5fb5aa" fill-opacity="0.62"/>
<circle cx="142.7" cy="458.7" r="1.45" fill="#5fb5aa" fill-opacity="0.62"/>
<circle cx="180.5" cy="459.0" r="1.45" fill="#5fb5aa" fill-opacity="0.62"/>
<circle cx="168.9" cy="459.0" r="1.45" fill="#5fb5aa" fill-opacity="0.62"/>
<circle cx="159.0" cy="459.5" r="1.45" fill="#5fb5aa" fill-opacity="0.62"/>
<circle cx="196.4" cy="453.4" r="1.45" fill="#5fb5aa" fill-opacity="0.62"/>
<circle cx="172.8" cy="459.3" r="1.45" fill="#5fb5aa" fill-opacity="0.62"/>
<circle cx="67.1" cy="459.0" r="1.45" fill="#5fb5aa" fill-opacity="0.62"/>
<circle cx="113.3" cy="458.3" r="1.45" fill="#5fb5aa" fill-opacity="0.62"/>
<circle cx="160.4" cy="459.7" r="1.45" fill="#5fb5aa" fill-opacity="0.62"/>
<circle cx="189.6" cy="459.5" r="1.45" fill="#5fb5aa" fill-opacity="0.62"/>
<circle cx="161.2" cy="458.7" r="1.45" fill="#5fb5aa" fill-opacity="0.62"/>
<circle cx="176.3" cy="459.1" r="1.45" fill="#5fb5aa" fill-opacity="0.62"/>
<circle cx="78.9" cy="458.0" r="1.45" fill="#5fb5aa" fill-opacity="0.62"/>
<circle cx="127.2" cy="458.8" r="1.45" fill="#5fb5aa" fill-opacity="0.62"/>
<circle cx="162.7" cy="459.4" r="1.45" fill="#5fb5aa" fill-opacity="0.62"/>
<circle cx="155.2" cy="454.6" r="1.45" fill="#5fb5aa" fill-opacity="0.62"/>
<circle cx="113.7" cy="459.1" r="1.45" fill="#5fb5aa" fill-opacity="0.62"/>
<circle cx="63.6" cy="458.2" r="1.45" fill="#5fb5aa" fill-opacity="0.62"/>
<circle cx="66.5" cy="459.1" r="1.45" fill="#5fb5aa" fill-opacity="0.62"/>
<circle cx="165.2" cy="457.3" r="1.45" fill="#5fb5aa" fill-opacity="0.62"/>
<circle cx="170.3" cy="459.1" r="1.45" fill="#5fb5aa" fill-opacity="0.62"/>
<circle cx="155.8" cy="458.9" r="1.45" fill="#5fb5aa" fill-opacity="0.62"/>
<circle cx="180.3" cy="459.2" r="1.45" fill="#5fb5aa" fill-opacity="0.62"/>
<circle cx="152.6" cy="459.2" r="1.45" fill="#5fb5aa" fill-opacity="0.62"/>
<circle cx="169.9" cy="424.8" r="1.45" fill="#5fb5aa" fill-opacity="0.62"/>
<circle cx="134.9" cy="459.7" r="1.45" fill="#5fb5aa" fill-opacity="0.62"/>
<circle cx="196.8" cy="442.9" r="1.45" fill="#5fb5aa" fill-opacity="0.62"/>
<circle cx="153.3" cy="458.4" r="1.45" fill="#5fb5aa" fill-opacity="0.62"/>
<circle cx="149.8" cy="456.8" r="1.45" fill="#5fb5aa" fill-opacity="0.62"/>
<circle cx="165.7" cy="458.8" r="1.45" fill="#5fb5aa" fill-opacity="0.62"/>
<circle cx="108.8" cy="459.3" r="1.45" fill="#5fb5aa" fill-opacity="0.62"/>
<circle cx="177.1" cy="457.4" r="1.45" fill="#5fb5aa" fill-opacity="0.62"/>
<circle cx="170.9" cy="458.5" r="1.45" fill="#5fb5aa" fill-opacity="0.62"/>
<circle cx="109.2" cy="459.5" r="1.45" fill="#5fb5aa" fill-opacity="0.62"/>
<circle cx="157.0" cy="459.7" r="1.45" fill="#5fb5aa" fill-opacity="0.62"/>
<circle cx="172.5" cy="459.8" r="1.45" fill="#5fb5aa" fill-opacity="0.62"/>
<circle cx="125.2" cy="455.8" r="1.45" fill="#5fb5aa" fill-opacity="0.62"/>
<circle cx="129.4" cy="457.4" r="1.45" fill="#5fb5aa" fill-opacity="0.62"/>
<circle cx="107.4" cy="459.2" r="1.45" fill="#5fb5aa" fill-opacity="0.62"/>
<circle cx="155.5" cy="459.0" r="1.45" fill="#5fb5aa" fill-opacity="0.62"/>
<circle cx="184.5" cy="458.4" r="1.45" fill="#5fb5aa" fill-opacity="0.62"/>
<circle cx="126.7" cy="459.4" r="1.45" fill="#5fb5aa" fill-opacity="0.62"/>
<circle cx="87.3" cy="458.1" r="1.45" fill="#5fb5aa" fill-opacity="0.62"/>
<circle cx="183.4" cy="459.5" r="1.45" fill="#5fb5aa" fill-opacity="0.62"/>
<circle cx="57.4" cy="458.7" r="1.45" fill="#5fb5aa" fill-opacity="0.62"/>
<circle cx="130.2" cy="455.9" r="1.45" fill="#5fb5aa" fill-opacity="0.62"/>
<circle cx="81.5" cy="459.3" r="1.45" fill="#5fb5aa" fill-opacity="0.62"/>
<circle cx="135.5" cy="459.7" r="1.45" fill="#5fb5aa" fill-opacity="0.62"/>
<circle cx="180.1" cy="456.7" r="1.45" fill="#5fb5aa" fill-opacity="0.62"/>
<circle cx="226.6" cy="458.3" r="1.45" fill="#5fb5aa" fill-opacity="0.62"/>
<circle cx="153.3" cy="458.7" r="1.45" fill="#5fb5aa" fill-opacity="0.62"/>
<circle cx="147.8" cy="459.3" r="1.45" fill="#5fb5aa" fill-opacity="0.62"/>
<circle cx="98.3" cy="459.4" r="1.45" fill="#5fb5aa" fill-opacity="0.62"/>
<circle cx="97.7" cy="459.4" r="1.45" fill="#5fb5aa" fill-opacity="0.62"/>
<circle cx="195.1" cy="427.4" r="1.45" fill="#5fb5aa" fill-opacity="0.62"/>
<circle cx="164.7" cy="458.3" r="1.45" fill="#5fb5aa" fill-opacity="0.62"/>
<circle cx="161.2" cy="457.3" r="1.45" fill="#5fb5aa" fill-opacity="0.62"/>
<circle cx="81.5" cy="459.0" r="1.45" fill="#5fb5aa" fill-opacity="0.62"/>
<circle cx="174.4" cy="459.6" r="1.45" fill="#5fb5aa" fill-opacity="0.62"/>
<circle cx="198.8" cy="436.0" r="1.45" fill="#5fb5aa" fill-opacity="0.62"/>
<circle cx="132.5" cy="450.3" r="1.45" fill="#5fb5aa" fill-opacity="0.62"/>
<circle cx="173.8" cy="458.6" r="1.45" fill="#5fb5aa" fill-opacity="0.62"/>
<circle cx="182.3" cy="457.9" r="1.45" fill="#5fb5aa" fill-opacity="0.62"/>
<circle cx="179.0" cy="459.6" r="1.45" fill="#5fb5aa" fill-opacity="0.62"/>
<circle cx="151.8" cy="457.0" r="1.45" fill="#5fb5aa" fill-opacity="0.62"/>
<circle cx="57.1" cy="458.4" r="1.45" fill="#5fb5aa" fill-opacity="0.62"/>
<circle cx="55.9" cy="458.6" r="1.45" fill="#5fb5aa" fill-opacity="0.62"/>
<circle cx="87.6" cy="459.7" r="1.45" fill="#5fb5aa" fill-opacity="0.62"/>
<circle cx="169.2" cy="459.8" r="1.45" fill="#5fb5aa" fill-opacity="0.62"/>
<circle cx="174.8" cy="458.7" r="1.45" fill="#5fb5aa" fill-opacity="0.62"/>
<circle cx="116.6" cy="459.1" r="1.45" fill="#5fb5aa" fill-opacity="0.62"/>
<circle cx="163.1" cy="459.2" r="1.45" fill="#5fb5aa" fill-opacity="0.62"/>
<circle cx="148.9" cy="457.1" r="1.45" fill="#5fb5aa" fill-opacity="0.62"/>
<circle cx="129.8" cy="459.7" r="1.45" fill="#5fb5aa" fill-opacity="0.62"/>
<circle cx="175.2" cy="459.5" r="1.45" fill="#5fb5aa" fill-opacity="0.62"/>
<circle cx="148.7" cy="458.7" r="1.45" fill="#5fb5aa" fill-opacity="0.62"/>
<circle cx="141.6" cy="458.7" r="1.45" fill="#5fb5aa" fill-opacity="0.62"/>
<circle cx="136.2" cy="458.7" r="1.45" fill="#5fb5aa" fill-opacity="0.62"/>
<circle cx="170.4" cy="451.3" r="1.45" fill="#5fb5aa" fill-opacity="0.62"/>
<circle cx="156.0" cy="458.6" r="1.45" fill="#5fb5aa" fill-opacity="0.62"/>
<circle cx="152.8" cy="459.4" r="1.45" fill="#5fb5aa" fill-opacity="0.62"/>
<circle cx="140.5" cy="457.7" r="1.45" fill="#5fb5aa" fill-opacity="0.62"/>
<circle cx="175.4" cy="459.2" r="1.45" fill="#5fb5aa" fill-opacity="0.62"/>
<circle cx="149.3" cy="458.9" r="1.45" fill="#5fb5aa" fill-opacity="0.62"/>
<circle cx="134.1" cy="456.0" r="1.45" fill="#5fb5aa" fill-opacity="0.62"/>
<circle cx="129.6" cy="459.4" r="1.45" fill="#5fb5aa" fill-opacity="0.62"/>
<circle cx="132.6" cy="459.7" r="1.45" fill="#5fb5aa" fill-opacity="0.62"/>
<circle cx="117.1" cy="459.6" r="1.45" fill="#5fb5aa" fill-opacity="0.62"/>
<circle cx="115.0" cy="458.0" r="1.45" fill="#5fb5aa" fill-opacity="0.62"/>
<circle cx="165.7" cy="459.4" r="1.45" fill="#5fb5aa" fill-opacity="0.62"/>
<circle cx="94.1" cy="457.5" r="1.45" fill="#5fb5aa" fill-opacity="0.62"/>
<circle cx="139.0" cy="457.3" r="1.45" fill="#5fb5aa" fill-opacity="0.62"/>
<circle cx="234.1" cy="454.7" r="1.45" fill="#5fb5aa" fill-opacity="0.62"/>
<circle cx="152.5" cy="459.4" r="1.45" fill="#5fb5aa" fill-opacity="0.62"/>
<circle cx="183.8" cy="458.6" r="1.45" fill="#5fb5aa" fill-opacity="0.62"/>
<circle cx="212.0" cy="446.5" r="1.45" fill="#5fb5aa" fill-opacity="0.62"/>
<circle cx="90.4" cy="457.6" r="1.45" fill="#5fb5aa" fill-opacity="0.62"/>
<circle cx="75.3" cy="459.3" r="1.45" fill="#5fb5aa" fill-opacity="0.62"/>
<circle cx="148.5" cy="459.0" r="1.45" fill="#5fb5aa" fill-opacity="0.62"/>
<circle cx="173.8" cy="457.3" r="1.45" fill="#5fb5aa" fill-opacity="0.62"/>
<circle cx="149.6" cy="456.6" r="1.45" fill="#5fb5aa" fill-opacity="0.62"/>
<circle cx="204.3" cy="459.2" r="1.45" fill="#5fb5aa" fill-opacity="0.62"/>
<circle cx="172.1" cy="445.6" r="1.45" fill="#5fb5aa" fill-opacity="0.62"/>
<circle cx="139.1" cy="458.8" r="1.45" fill="#5fb5aa" fill-opacity="0.62"/>
<circle cx="175.9" cy="459.7" r="1.45" fill="#5fb5aa" fill-opacity="0.62"/>
<circle cx="183.7" cy="457.6" r="1.45" fill="#5fb5aa" fill-opacity="0.62"/>
<circle cx="92.7" cy="458.4" r="1.45" fill="#5fb5aa" fill-opacity="0.62"/>
<circle cx="218.9" cy="459.6" r="1.45" fill="#5fb5aa" fill-opacity="0.62"/>
<circle cx="119.9" cy="457.2" r="1.45" fill="#5fb5aa" fill-opacity="0.62"/>
<circle cx="129.8" cy="458.7" r="1.45" fill="#5fb5aa" fill-opacity="0.62"/>
<circle cx="175.4" cy="459.1" r="1.45" fill="#5fb5aa" fill-opacity="0.62"/>
<circle cx="102.0" cy="457.4" r="1.45" fill="#5fb5aa" fill-opacity="0.62"/>
<circle cx="214.5" cy="458.5" r="1.45" fill="#5fb5aa" fill-opacity="0.62"/>
<circle cx="165.6" cy="458.7" r="1.45" fill="#5fb5aa" fill-opacity="0.62"/>
<circle cx="165.2" cy="459.1" r="1.45" fill="#5fb5aa" fill-opacity="0.62"/>
<circle cx="169.4" cy="458.5" r="1.45" fill="#5fb5aa" fill-opacity="0.62"/>
<circle cx="169.4" cy="459.2" r="1.45" fill="#5fb5aa" fill-opacity="0.62"/>
<circle cx="161.4" cy="457.8" r="1.45" fill="#5fb5aa" fill-opacity="0.62"/>
<circle cx="121.0" cy="459.4" r="1.45" fill="#5fb5aa" fill-opacity="0.62"/>
<circle cx="172.4" cy="459.0" r="1.45" fill="#5fb5aa" fill-opacity="0.62"/>
<circle cx="152.4" cy="459.0" r="1.45" fill="#5fb5aa" fill-opacity="0.62"/>
<circle cx="167.2" cy="459.6" r="1.45" fill="#5fb5aa" fill-opacity="0.62"/>
<circle cx="116.8" cy="459.4" r="1.45" fill="#5fb5aa" fill-opacity="0.62"/>
<circle cx="134.5" cy="457.8" r="1.45" fill="#5fb5aa" fill-opacity="0.62"/>
<circle cx="204.4" cy="458.3" r="1.45" fill="#5fb5aa" fill-opacity="0.62"/>
<circle cx="194.2" cy="445.7" r="1.45" fill="#5fb5aa" fill-opacity="0.62"/>
<circle cx="99.5" cy="458.3" r="1.45" fill="#5fb5aa" fill-opacity="0.62"/>
<circle cx="166.8" cy="452.2" r="1.45" fill="#5fb5aa" fill-opacity="0.62"/>
<circle cx="99.2" cy="458.8" r="1.45" fill="#5fb5aa" fill-opacity="0.62"/>
<circle cx="84.5" cy="459.4" r="1.45" fill="#5fb5aa" fill-opacity="0.62"/>
<circle cx="165.2" cy="457.3" r="1.45" fill="#5fb5aa" fill-opacity="0.62"/>
<circle cx="242.7" cy="456.6" r="1.45" fill="#5fb5aa" fill-opacity="0.62"/>
<circle cx="177.5" cy="459.4" r="1.45" fill="#5fb5aa" fill-opacity="0.62"/>
<circle cx="151.6" cy="458.8" r="1.45" fill="#5fb5aa" fill-opacity="0.62"/>
<circle cx="144.0" cy="459.1" r="1.45" fill="#5fb5aa" fill-opacity="0.62"/>
<circle cx="166.3" cy="458.8" r="1.45" fill="#5fb5aa" fill-opacity="0.62"/>
<circle cx="158.9" cy="456.7" r="1.45" fill="#5fb5aa" fill-opacity="0.62"/>
<circle cx="156.5" cy="459.5" r="1.45" fill="#5fb5aa" fill-opacity="0.62"/>
<circle cx="231.3" cy="457.6" r="1.45" fill="#5fb5aa" fill-opacity="0.62"/>
<circle cx="187.7" cy="458.1" r="1.45" fill="#5fb5aa" fill-opacity="0.62"/>
<circle cx="130.7" cy="459.1" r="1.45" fill="#5fb5aa" fill-opacity="0.62"/>
<circle cx="56.0" cy="459.7" r="1.45" fill="#5fb5aa" fill-opacity="0.62"/>
<circle cx="86.4" cy="457.3" r="1.45" fill="#5fb5aa" fill-opacity="0.62"/>
<circle cx="177.7" cy="458.0" r="1.45" fill="#5fb5aa" fill-opacity="0.62"/>
<circle cx="102.1" cy="458.6" r="1.45" fill="#5fb5aa" fill-opacity="0.62"/>
<circle cx="146.9" cy="458.6" r="1.45" fill="#5fb5aa" fill-opacity="0.62"/>
<circle cx="240.9" cy="459.2" r="1.45" fill="#5fb5aa" fill-opacity="0.62"/>
<circle cx="145.1" cy="459.0" r="1.45" fill="#5fb5aa" fill-opacity="0.62"/>
<circle cx="188.8" cy="459.8" r="1.45" fill="#5fb5aa" fill-opacity="0.62"/>
<circle cx="161.5" cy="458.9" r="1.45" fill="#5fb5aa" fill-opacity="0.62"/>
<circle cx="65.6" cy="458.9" r="1.45" fill="#5fb5aa" fill-opacity="0.62"/>
<circle cx="113.8" cy="458.1" r="1.45" fill="#5fb5aa" fill-opacity="0.62"/>
<circle cx="197.7" cy="439.8" r="1.45" fill="#5fb5aa" fill-opacity="0.62"/>
<circle cx="140.8" cy="459.1" r="1.45" fill="#5fb5aa" fill-opacity="0.62"/>
<circle cx="125.1" cy="459.0" r="1.45" fill="#5fb5aa" fill-opacity="0.62"/>
<circle cx="209.7" cy="290.8" r="1.45" fill="#5fb5aa" fill-opacity="0.62"/>
<circle cx="224.4" cy="385.4" r="1.45" fill="#5fb5aa" fill-opacity="0.62"/>
<circle cx="211.5" cy="392.2" r="1.45" fill="#5fb5aa" fill-opacity="0.62"/>
<circle cx="192.4" cy="405.7" r="1.45" fill="#5fb5aa" fill-opacity="0.62"/>
<circle cx="154.3" cy="328.0" r="1.45" fill="#5fb5aa" fill-opacity="0.62"/>
<circle cx="238.2" cy="371.9" r="1.45" fill="#5fb5aa" fill-opacity="0.62"/>
<circle cx="203.9" cy="415.9" r="1.45" fill="#5fb5aa" fill-opacity="0.62"/>
<circle cx="52.0" cy="459.3" r="1.45" fill="#5fb5aa" fill-opacity="0.62"/>
<circle cx="39.7" cy="458.6" r="1.45" fill="#5fb5aa" fill-opacity="0.62"/>
<circle cx="49.3" cy="459.8" r="1.45" fill="#5fb5aa" fill-opacity="0.62"/>
<circle cx="55.6" cy="458.8" r="1.45" fill="#5fb5aa" fill-opacity="0.62"/>
<circle cx="44.3" cy="458.9" r="1.45" fill="#5fb5aa" fill-opacity="0.62"/>
<circle cx="57.3" cy="459.3" r="1.45" fill="#5fb5aa" fill-opacity="0.62"/>
<circle cx="46.1" cy="459.4" r="1.45" fill="#5fb5aa" fill-opacity="0.62"/>
<circle cx="48.9" cy="458.9" r="1.45" fill="#5fb5aa" fill-opacity="0.62"/>
<circle cx="53.0" cy="458.5" r="1.45" fill="#5fb5aa" fill-opacity="0.62"/>
<circle cx="39.6" cy="459.3" r="1.45" fill="#5fb5aa" fill-opacity="0.62"/>
<path d="M100.8,283 L100.8,468.5 M11,468.5 L278,468.5" fill="none" stroke="#555" stroke-width="1.0"/>
<line x1="98.50" y1="459.80" x2="101.00" y2="459.80" stroke="#7a7a7a" stroke-width="0.8"/>
<text x="96.30" y="462.30" font-size="7.00" text-anchor="end" fill="#231f20">0</text>
<line x1="98.50" y1="426.00" x2="101.00" y2="426.00" stroke="#7a7a7a" stroke-width="0.8"/>
<text x="96.30" y="428.50" font-size="7.00" text-anchor="end" fill="#231f20">10</text>
<line x1="98.50" y1="392.20" x2="101.00" y2="392.20" stroke="#7a7a7a" stroke-width="0.8"/>
<text x="96.30" y="394.70" font-size="7.00" text-anchor="end" fill="#231f20">20</text>
<line x1="98.50" y1="358.40" x2="101.00" y2="358.40" stroke="#7a7a7a" stroke-width="0.8"/>
<text x="96.30" y="360.90" font-size="7.00" text-anchor="end" fill="#231f20">30</text>
<line x1="98.50" y1="324.60" x2="101.00" y2="324.60" stroke="#7a7a7a" stroke-width="0.8"/>
<text x="96.30" y="327.10" font-size="7.00" text-anchor="end" fill="#231f20">40</text>
<line x1="98.50" y1="290.80" x2="101.00" y2="290.80" stroke="#7a7a7a" stroke-width="0.8"/>
<text x="96.30" y="293.30" font-size="7.00" text-anchor="end" fill="#231f20">50</text>
<line x1="24.80" y1="468.50" x2="24.80" y2="471.00" stroke="#7a7a7a" stroke-width="0.8"/>
<text x="24.80" y="478.60" font-size="7.00" text-anchor="middle" fill="#231f20">0.4</text>
<line x1="101.00" y1="468.50" x2="101.00" y2="471.00" stroke="#7a7a7a" stroke-width="0.8"/>
<text x="101.00" y="478.60" font-size="7.00" text-anchor="middle" fill="#231f20">0.5</text>
<line x1="177.20" y1="468.50" x2="177.20" y2="471.00" stroke="#7a7a7a" stroke-width="0.8"/>
<text x="177.20" y="478.60" font-size="7.00" text-anchor="middle" fill="#231f20">0.6</text>
<line x1="253.40" y1="468.50" x2="253.40" y2="471.00" stroke="#7a7a7a" stroke-width="0.8"/>
<text x="253.40" y="478.60" font-size="7.00" text-anchor="middle" fill="#231f20">0.7</text>
<text x="156.80" y="488.28" font-size="7.80" text-anchor="middle" fill="#231f20">Potential to bind metabolic genes</text>
<g transform="translate(79.8,376.5) rotate(-90)"><text x="0" y="2.6" font-size="7.6" text-anchor="middle" fill="#231f20">Adjusted <tspan font-style="italic">P</tspan> (−log<tspan font-size="5.2" dy="1.5">10</tspan><tspan dy="-1.5">)</tspan></text></g>
<text x="87.50" y="266.33" font-size="7.45" text-anchor="middle" fill="#231f20">Pathways</text>
<circle cx="125.30" cy="259.80" r="1.90" fill="#5a8cba" fill-opacity="0.65"/>
<text x="130.20" y="262.50" font-size="7.55" fill="#231f20">Fatty acid</text>
<circle cx="178.70" cy="259.80" r="1.90" fill="#eea848" fill-opacity="0.65"/>
<text x="183.60" y="262.50" font-size="7.55" fill="#231f20">Glycolysis</text>
<circle cx="125.30" cy="270.60" r="1.90" fill="#e4545a" fill-opacity="0.65"/>
<text x="130.20" y="273.30" font-size="7.55" fill="#231f20">OXPHOS</text>
<circle cx="178.70" cy="270.60" r="1.90" fill="#5fb5aa" fill-opacity="0.65"/>
<text x="183.60" y="273.30" font-size="7.55" fill="#231f20">TCA</text>
<text x="235.30" y="293.22" font-size="6.45" fill="#4a77b0"><tspan font-style="italic">PPARG</tspan>(FA)</text>
<text x="164.40" y="299.42" font-size="6.45" fill="#dd3c44"><tspan font-style="italic">KDM5A</tspan>(OXPHOS)</text>
<text x="189.70" y="343.42" font-size="6.45" fill="#dd3c44"><tspan font-style="italic">ESRRA</tspan>(OXPHOS)</text>
<text x="157.50" y="354.82" font-size="6.45" fill="#e8a03e"><tspan font-style="italic">CEBPB</tspan>(GLY)</text>
<text x="242.50" y="371.62" font-size="6.45" fill="#68bab0"><tspan font-style="italic">SIN3A</tspan>(TCA)</text>
<text x="225.00" y="387.12" font-size="6.45" fill="#41609e"><tspan font-style="italic">HNF4G</tspan>(FA)</text>
<text x="180.00" y="397.42" font-size="6.45" fill="#dd3c44"><tspan font-style="italic">SMAD5</tspan>(OXPHOS)</text>
<text x="169.00" y="407.22" font-size="6.45" fill="#41609e"><tspan font-style="italic">RXRA</tspan>(FA)</text>
<text x="210.40" y="406.62" font-size="6.45" fill="#dd3c44"><tspan font-style="italic">DLX4</tspan>(OXPHOS)</text>
<text x="182.00" y="415.02" font-size="6.45" fill="#41609e"><tspan font-style="italic">HNF4A</tspan>(FA)</text>
<text x="226.00" y="415.02" font-size="6.45" fill="#68bab0"><tspan font-style="italic">ESRRA</tspan>(TCA)</text>
<text x="182.50" y="423.22" font-size="6.45" fill="#dd3c44"><tspan font-style="italic">NFAT5</tspan>(OXPHOS)</text>
<text x="241.00" y="421.42" font-size="6.45" fill="#68bab0"><tspan font-style="italic">KDM5A</tspan>(TCA)</text>
<text x="215.60" y="427.12" font-size="6.45" fill="#41609e"><tspan font-style="italic">NR2F2</tspan>(FA)</text>
<text x="226.00" y="433.02" font-size="6.45" fill="#68bab0"><tspan font-style="italic">NFIC</tspan>(TCA)</text>
<text x="242.50" y="445.42" font-size="6.45" fill="#68bab0"><tspan font-style="italic">CBX1</tspan>(TCA)</text>
<text x="147.00" y="419.22" font-size="6.45" fill="#e8a03e"><tspan font-style="italic">BCL3</tspan>(GLY)</text>
<text x="145.00" y="429.22" font-size="6.45" fill="#e8a03e"><tspan font-style="italic">HNF4A</tspan>(GLY)</text>
<text x="179.60" y="439.42" font-size="6.45" fill="#e8a03e"><tspan font-style="italic">NFE2</tspan>(GLY)</text>
<text x="178.60" y="450.02" font-size="6.45" fill="#e8a03e"><tspan font-style="italic">HNF1A</tspan>(GLY)</text>
<line x1="200.00" y1="414.00" x2="211.00" y2="405.00" stroke="#dd3c44" stroke-width="0.6"/>
<text x="307.30" y="258.80" font-size="10.50" font-weight="bold" fill="#000">C</text>
<line x1="327" y1="270.80" x2="514" y2="270.80" stroke="#cfcfcf" stroke-width="0.6" stroke-dasharray="3.2,3.6"/>
<line x1="327" y1="275.78" x2="514" y2="275.78" stroke="#cfcfcf" stroke-width="0.6" stroke-dasharray="3.2,3.6"/>
<line x1="327" y1="280.76" x2="514" y2="280.76" stroke="#cfcfcf" stroke-width="0.6" stroke-dasharray="3.2,3.6"/>
<line x1="327" y1="285.74" x2="514" y2="285.74" stroke="#cfcfcf" stroke-width="0.6" stroke-dasharray="3.2,3.6"/>
<line x1="327" y1="290.72" x2="514" y2="290.72" stroke="#cfcfcf" stroke-width="0.6" stroke-dasharray="3.2,3.6"/>
<line x1="327" y1="295.70" x2="514" y2="295.70" stroke="#cfcfcf" stroke-width="0.6" stroke-dasharray="3.2,3.6"/>
<line x1="327" y1="300.68" x2="514" y2="300.68" stroke="#cfcfcf" stroke-width="0.6" stroke-dasharray="3.2,3.6"/>
<line x1="327" y1="305.66" x2="514" y2="305.66" stroke="#cfcfcf" stroke-width="0.6" stroke-dasharray="3.2,3.6"/>
<line x1="327" y1="310.64" x2="514" y2="310.64" stroke="#cfcfcf" stroke-width="0.6" stroke-dasharray="3.2,3.6"/>
<line x1="327" y1="315.62" x2="514" y2="315.62" stroke="#cfcfcf" stroke-width="0.6" stroke-dasharray="3.2,3.6"/>
<line x1="327" y1="320.60" x2="514" y2="320.60" stroke="#cfcfcf" stroke-width="0.6" stroke-dasharray="3.2,3.6"/>
<line x1="327" y1="325.58" x2="514" y2="325.58" stroke="#cfcfcf" stroke-width="0.6" stroke-dasharray="3.2,3.6"/>
<line x1="327" y1="330.56" x2="514" y2="330.56" stroke="#cfcfcf" stroke-width="0.6" stroke-dasharray="3.2,3.6"/>
<line x1="327" y1="335.54" x2="514" y2="335.54" stroke="#cfcfcf" stroke-width="0.6" stroke-dasharray="3.2,3.6"/>
<line x1="327" y1="340.52" x2="514" y2="340.52" stroke="#cfcfcf" stroke-width="0.6" stroke-dasharray="3.2,3.6"/>
<line x1="327" y1="345.50" x2="514" y2="345.50" stroke="#cfcfcf" stroke-width="0.6" stroke-dasharray="3.2,3.6"/>
<line x1="327" y1="350.48" x2="514" y2="350.48" stroke="#cfcfcf" stroke-width="0.6" stroke-dasharray="3.2,3.6"/>
<line x1="327" y1="355.46" x2="514" y2="355.46" stroke="#cfcfcf" stroke-width="0.6" stroke-dasharray="3.2,3.6"/>
<line x1="327" y1="360.44" x2="514" y2="360.44" stroke="#cfcfcf" stroke-width="0.6" stroke-dasharray="3.2,3.6"/>
<line x1="327" y1="365.42" x2="514" y2="365.42" stroke="#cfcfcf" stroke-width="0.6" stroke-dasharray="3.2,3.6"/>
<line x1="327" y1="370.40" x2="514" y2="370.40" stroke="#cfcfcf" stroke-width="0.6" stroke-dasharray="3.2,3.6"/>
<line x1="327" y1="375.38" x2="514" y2="375.38" stroke="#cfcfcf" stroke-width="0.6" stroke-dasharray="3.2,3.6"/>
<line x1="327" y1="380.36" x2="514" y2="380.36" stroke="#cfcfcf" stroke-width="0.6" stroke-dasharray="3.2,3.6"/>
<line x1="327" y1="385.34" x2="514" y2="385.34" stroke="#cfcfcf" stroke-width="0.6" stroke-dasharray="3.2,3.6"/>
<line x1="327" y1="390.32" x2="514" y2="390.32" stroke="#cfcfcf" stroke-width="0.6" stroke-dasharray="3.2,3.6"/>
<line x1="327" y1="395.30" x2="514" y2="395.30" stroke="#cfcfcf" stroke-width="0.6" stroke-dasharray="3.2,3.6"/>
<line x1="327" y1="400.28" x2="514" y2="400.28" stroke="#cfcfcf" stroke-width="0.6" stroke-dasharray="3.2,3.6"/>
<line x1="327" y1="405.26" x2="514" y2="405.26" stroke="#cfcfcf" stroke-width="0.6" stroke-dasharray="3.2,3.6"/>
<line x1="327" y1="410.24" x2="514" y2="410.24" stroke="#cfcfcf" stroke-width="0.6" stroke-dasharray="3.2,3.6"/>
<line x1="327" y1="415.22" x2="514" y2="415.22" stroke="#cfcfcf" stroke-width="0.6" stroke-dasharray="3.2,3.6"/>
<line x1="327" y1="420.20" x2="514" y2="420.20" stroke="#cfcfcf" stroke-width="0.6" stroke-dasharray="3.2,3.6"/>
<line x1="327" y1="425.18" x2="514" y2="425.18" stroke="#cfcfcf" stroke-width="0.6" stroke-dasharray="3.2,3.6"/>
<line x1="327" y1="430.16" x2="514" y2="430.16" stroke="#cfcfcf" stroke-width="0.6" stroke-dasharray="3.2,3.6"/>
<line x1="327" y1="435.14" x2="514" y2="435.14" stroke="#cfcfcf" stroke-width="0.6" stroke-dasharray="3.2,3.6"/>
<line x1="327" y1="440.12" x2="514" y2="440.12" stroke="#cfcfcf" stroke-width="0.6" stroke-dasharray="3.2,3.6"/>
<line x1="327" y1="445.10" x2="514" y2="445.10" stroke="#cfcfcf" stroke-width="0.6" stroke-dasharray="3.2,3.6"/>
<line x1="327" y1="450.08" x2="514" y2="450.08" stroke="#cfcfcf" stroke-width="0.6" stroke-dasharray="3.2,3.6"/>
<line x1="327" y1="455.06" x2="514" y2="455.06" stroke="#cfcfcf" stroke-width="0.6" stroke-dasharray="3.2,3.6"/>
<line x1="327" y1="460.04" x2="514" y2="460.04" stroke="#cfcfcf" stroke-width="0.6" stroke-dasharray="3.2,3.6"/>
<line x1="327" y1="465.02" x2="514" y2="465.02" stroke="#cfcfcf" stroke-width="0.6" stroke-dasharray="3.2,3.6"/>
<text x="324.6" y="273.00" font-size="6.2" text-anchor="end" font-style="italic" fill="#e5482c" stroke="#e5482c" stroke-width="0.22">ESRRA</text>
<text x="324.6" y="277.98" font-size="6.2" text-anchor="end" font-style="italic" fill="#231f20" stroke="#231f20" stroke-width="0.12">TAF1</text>
<text x="324.6" y="282.96" font-size="6.2" text-anchor="end" font-style="italic" fill="#231f20" stroke="#231f20" stroke-width="0.12">SIN3A</text>
<text x="324.6" y="287.94" font-size="6.2" text-anchor="end" font-style="italic" fill="#231f20" stroke="#231f20" stroke-width="0.12">BCL3</text>
<text x="324.6" y="292.92" font-size="6.2" text-anchor="end" font-style="italic" fill="#231f20" stroke="#231f20" stroke-width="0.12">KDM5A</text>
<text x="324.6" y="297.90" font-size="6.2" text-anchor="end" font-style="italic" fill="#e5482c" stroke="#e5482c" stroke-width="0.22">NR2F2</text>
<text x="324.6" y="302.88" font-size="6.2" text-anchor="end" font-style="italic" fill="#231f20" stroke="#231f20" stroke-width="0.12">PHF8</text>
<text x="324.6" y="307.86" font-size="6.2" text-anchor="end" font-style="italic" fill="#231f20" stroke="#231f20" stroke-width="0.12">SUPT5H</text>
<text x="324.6" y="312.84" font-size="6.2" text-anchor="end" font-style="italic" fill="#e5482c" stroke="#e5482c" stroke-width="0.22">HNF4G</text>
<text x="324.6" y="317.82" font-size="6.2" text-anchor="end" font-style="italic" fill="#231f20" stroke="#231f20" stroke-width="0.12">HDAC1</text>
<text x="324.6" y="322.80" font-size="6.2" text-anchor="end" font-style="italic" fill="#231f20" stroke="#231f20" stroke-width="0.12">YY1</text>
<text x="324.6" y="327.78" font-size="6.2" text-anchor="end" font-style="italic" fill="#231f20" stroke="#231f20" stroke-width="0.12">GABPA</text>
<text x="324.6" y="332.76" font-size="6.2" text-anchor="end" font-style="italic" fill="#231f20" stroke="#231f20" stroke-width="0.12">CDK8</text>
<text x="324.6" y="337.74" font-size="6.2" text-anchor="end" font-style="italic" fill="#231f20" stroke="#231f20" stroke-width="0.12">NRF1</text>
<text x="324.6" y="342.72" font-size="6.2" text-anchor="end" font-style="italic" fill="#231f20" stroke="#231f20" stroke-width="0.12">H2AZ</text>
<text x="324.6" y="347.70" font-size="6.2" text-anchor="end" font-style="italic" fill="#231f20" stroke="#231f20" stroke-width="0.12">MAX</text>
<text x="324.6" y="352.68" font-size="6.2" text-anchor="end" font-style="italic" fill="#231f20" stroke="#231f20" stroke-width="0.12">KMT2D</text>
<text x="324.6" y="357.66" font-size="6.2" text-anchor="end" font-style="italic" fill="#e5482c" stroke="#e5482c" stroke-width="0.22">HNF4A</text>
<text x="324.6" y="362.64" font-size="6.2" text-anchor="end" font-style="italic" fill="#231f20" stroke="#231f20" stroke-width="0.12">ATF3</text>
<text x="324.6" y="367.62" font-size="6.2" text-anchor="end" font-style="italic" fill="#231f20" stroke="#231f20" stroke-width="0.12">CREB1</text>
<text x="324.6" y="372.60" font-size="6.2" text-anchor="end" font-style="italic" fill="#e5482c" stroke="#e5482c" stroke-width="0.22">PPARG</text>
<text x="324.6" y="377.58" font-size="6.2" text-anchor="end" font-style="italic" fill="#231f20" stroke="#231f20" stroke-width="0.12">GTF2B</text>
<text x="324.6" y="382.56" font-size="6.2" text-anchor="end" font-style="italic" fill="#231f20" stroke="#231f20" stroke-width="0.12">BRD2</text>
<text x="324.6" y="387.54" font-size="6.2" text-anchor="end" font-style="italic" fill="#231f20" stroke="#231f20" stroke-width="0.12">E2F1</text>
<text x="324.6" y="392.52" font-size="6.2" text-anchor="end" font-style="italic" fill="#231f20" stroke="#231f20" stroke-width="0.12">MYC</text>
<text x="324.6" y="397.50" font-size="6.2" text-anchor="end" font-style="italic" fill="#231f20" stroke="#231f20" stroke-width="0.12">CTCF</text>
<text x="324.6" y="402.48" font-size="6.2" text-anchor="end" font-style="italic" fill="#231f20" stroke="#231f20" stroke-width="0.12">CEBPB</text>
<text x="324.6" y="407.46" font-size="6.2" text-anchor="end" font-style="italic" fill="#231f20" stroke="#231f20" stroke-width="0.12">MED1</text>
<text x="324.6" y="412.44" font-size="6.2" text-anchor="end" font-style="italic" fill="#231f20" stroke="#231f20" stroke-width="0.12">CDK9</text>
<text x="324.6" y="417.42" font-size="6.2" text-anchor="end" font-style="italic" fill="#e5482c" stroke="#e5482c" stroke-width="0.22">NR2C2</text>
<text x="324.6" y="422.40" font-size="6.2" text-anchor="end" font-style="italic" fill="#231f20" stroke="#231f20" stroke-width="0.12">BRD4</text>
<text x="324.6" y="427.38" font-size="6.2" text-anchor="end" font-style="italic" fill="#231f20" stroke="#231f20" stroke-width="0.12">SP1</text>
<text x="324.6" y="432.36" font-size="6.2" text-anchor="end" font-style="italic" fill="#e5482c" stroke="#e5482c" stroke-width="0.22">PR</text>
<text x="324.6" y="437.34" font-size="6.2" text-anchor="end" font-style="italic" fill="#231f20" stroke="#231f20" stroke-width="0.12">AFF4</text>
<text x="324.6" y="442.32" font-size="6.2" text-anchor="end" font-style="italic" fill="#231f20" stroke="#231f20" stroke-width="0.12">RELA</text>
<text x="324.6" y="447.30" font-size="6.2" text-anchor="end" font-style="italic" fill="#231f20" stroke="#231f20" stroke-width="0.12">REST</text>
<text x="324.6" y="452.28" font-size="6.2" text-anchor="end" font-style="italic" fill="#231f20" stroke="#231f20" stroke-width="0.12">EP300</text>
<text x="324.6" y="457.26" font-size="6.2" text-anchor="end" font-style="italic" fill="#e5482c" stroke="#e5482c" stroke-width="0.22">AR</text>
<text x="324.6" y="462.24" font-size="6.2" text-anchor="end" font-style="italic" fill="#231f20" stroke="#231f20" stroke-width="0.12">FOXA1</text>
<text x="324.6" y="467.22" font-size="6.2" text-anchor="end" font-style="italic" fill="#e5482c" stroke="#e5482c" stroke-width="0.22">ESR1</text>
<path d="M506.70,273.00 L512.50,273.00 L509.60,267.90 Z" fill="#e0402c" stroke="none" stroke-width="1"/>
<path d="M474.20,273.88 L476.10,275.78 L474.20,277.68 L472.30,275.78 Z" fill="#606060" stroke="none" stroke-width="1"/>
<path d="M462.70,278.86 L464.60,280.76 L462.70,282.66 L460.80,280.76 Z" fill="#606060" stroke="none" stroke-width="1"/>
<path d="M462.00,283.84 L463.90,285.74 L462.00,287.64 L460.10,285.74 Z" fill="#606060" stroke="none" stroke-width="1"/>
<path d="M461.00,288.82 L462.90,290.72 L461.00,292.62 L459.10,290.72 Z" fill="#606060" stroke="none" stroke-width="1"/>
<path d="M456.30,297.90 L462.10,297.90 L459.20,292.80 Z" fill="#e0402c" stroke="none" stroke-width="1"/>
<path d="M457.70,298.78 L459.60,300.68 L457.70,302.58 L455.80,300.68 Z" fill="#606060" stroke="none" stroke-width="1"/>
<path d="M453.50,303.76 L455.40,305.66 L453.50,307.56 L451.60,305.66 Z" fill="#606060" stroke="none" stroke-width="1"/>
<path d="M440.10,312.84 L445.90,312.84 L443.00,307.74 Z" fill="#e0402c" stroke="none" stroke-width="1"/>
<path d="M439.60,313.72 L441.50,315.62 L439.60,317.52 L437.70,315.62 Z" fill="#606060" stroke="none" stroke-width="1"/>
<path d="M431.00,318.70 L432.90,320.60 L431.00,322.50 L429.10,320.60 Z" fill="#606060" stroke="none" stroke-width="1"/>
<path d="M429.60,323.68 L431.50,325.58 L429.60,327.48 L427.70,325.58 Z" fill="#606060" stroke="none" stroke-width="1"/>
<path d="M428.50,328.66 L430.40,330.56 L428.50,332.46 L426.60,330.56 Z" fill="#606060" stroke="none" stroke-width="1"/>
<path d="M425.80,333.64 L427.70,335.54 L425.80,337.44 L423.90,335.54 Z" fill="#606060" stroke="none" stroke-width="1"/>
<path d="M423.80,338.62 L425.70,340.52 L423.80,342.42 L421.90,340.52 Z" fill="#606060" stroke="none" stroke-width="1"/>
<path d="M423.00,343.60 L424.90,345.50 L423.00,347.40 L421.10,345.50 Z" fill="#606060" stroke="none" stroke-width="1"/>
<path d="M422.70,348.58 L424.60,350.48 L422.70,352.38 L420.80,350.48 Z" fill="#606060" stroke="none" stroke-width="1"/>
<path d="M416.70,357.66 L422.50,357.66 L419.60,352.56 Z" fill="#e0402c" stroke="none" stroke-width="1"/>
<path d="M418.00,358.54 L419.90,360.44 L418.00,362.34 L416.10,360.44 Z" fill="#606060" stroke="none" stroke-width="1"/>
<path d="M417.00,363.52 L418.90,365.42 L417.00,367.32 L415.10,365.42 Z" fill="#606060" stroke="none" stroke-width="1"/>
<path d="M411.50,372.60 L417.30,372.60 L414.40,367.50 Z" fill="#e0402c" stroke="none" stroke-width="1"/>
<path d="M413.50,373.48 L415.40,375.38 L413.50,377.28 L411.60,375.38 Z" fill="#606060" stroke="none" stroke-width="1"/>
<path d="M412.00,378.46 L413.90,380.36 L412.00,382.26 L410.10,380.36 Z" fill="#606060" stroke="none" stroke-width="1"/>
<path d="M404.60,383.44 L406.50,385.34 L404.60,387.24 L402.70,385.34 Z" fill="#606060" stroke="none" stroke-width="1"/>
<path d="M398.50,388.42 L400.40,390.32 L398.50,392.22 L396.60,390.32 Z" fill="#606060" stroke="none" stroke-width="1"/>
<path d="M398.00,393.40 L399.90,395.30 L398.00,397.20 L396.10,395.30 Z" fill="#606060" stroke="none" stroke-width="1"/>
<path d="M397.00,398.38 L398.90,400.28 L397.00,402.18 L395.10,400.28 Z" fill="#606060" stroke="none" stroke-width="1"/>
<path d="M395.80,403.36 L397.70,405.26 L395.80,407.16 L393.90,405.26 Z" fill="#606060" stroke="none" stroke-width="1"/>
<path d="M393.80,408.34 L395.70,410.24 L393.80,412.14 L391.90,410.24 Z" fill="#606060" stroke="none" stroke-width="1"/>
<path d="M389.40,417.42 L395.20,417.42 L392.30,412.32 Z" fill="#e0402c" stroke="none" stroke-width="1"/>
<path d="M391.00,418.30 L392.90,420.20 L391.00,422.10 L389.10,420.20 Z" fill="#606060" stroke="none" stroke-width="1"/>
<path d="M390.80,423.28 L392.70,425.18 L390.80,427.08 L388.90,425.18 Z" fill="#606060" stroke="none" stroke-width="1"/>
<path d="M376.70,432.36 L382.50,432.36 L379.60,427.26 Z" fill="#e0402c" stroke="none" stroke-width="1"/>
<path d="M379.60,433.24 L381.50,435.14 L379.60,437.04 L377.70,435.14 Z" fill="#606060" stroke="none" stroke-width="1"/>
<path d="M363.50,438.22 L365.40,440.12 L363.50,442.02 L361.60,440.12 Z" fill="#606060" stroke="none" stroke-width="1"/>
<path d="M357.70,443.20 L359.60,445.10 L357.70,447.00 L355.80,445.10 Z" fill="#606060" stroke="none" stroke-width="1"/>
<path d="M356.50,448.18 L358.40,450.08 L356.50,451.98 L354.60,450.08 Z" fill="#606060" stroke="none" stroke-width="1"/>
<path d="M348.60,457.26 L354.40,457.26 L351.50,452.16 Z" fill="#e0402c" stroke="none" stroke-width="1"/>
<path d="M350.80,458.14 L352.70,460.04 L350.80,461.94 L348.90,460.04 Z" fill="#606060" stroke="none" stroke-width="1"/>
<path d="M331.70,467.22 L337.50,467.22 L334.60,462.12 Z" fill="#e0402c" stroke="none" stroke-width="1"/>
<path d="M326.5,268 L326.5,468.5 L514,468.5" fill="none" stroke="#444" stroke-width="0.8"/>
<line x1="358.25" y1="468.50" x2="358.25" y2="470.50" stroke="#444" stroke-width="0.8"/>
<text x="358.25" y="478.60" font-size="7.50" text-anchor="middle" fill="#231f20">0.56</text>
<line x1="414.00" y1="468.50" x2="414.00" y2="470.50" stroke="#444" stroke-width="0.8"/>
<text x="414.00" y="478.60" font-size="7.50" text-anchor="middle" fill="#231f20">0.60</text>
<line x1="469.75" y1="468.50" x2="469.75" y2="470.50" stroke="#444" stroke-width="0.8"/>
<text x="469.75" y="478.60" font-size="7.50" text-anchor="middle" fill="#231f20">0.64</text>
<text x="421.00" y="487.88" font-size="7.80" text-anchor="middle" fill="#231f20">Potential to bind metabolic genes</text>
<path d="M346.9,262 L352.1,262 L349.5,257.2 Z" fill="#e0402c" stroke="none" stroke-width="1"/>
<text x="355.30" y="262.30" font-size="7.70" fill="#231f20">Nuclear receptor</text>
<path d="M431,258.0 L432.6,259.6 L431,261.2 L429.4,259.6 Z" fill="#5f5f5f" stroke="none" stroke-width="1"/>
<text x="437.30" y="262.30" font-size="7.70" fill="#231f20">TFCR</text>
<text x="2.60" y="519.50" font-size="10.50" font-weight="bold" fill="#000">D</text>
<g transform="translate(8.0,590) rotate(-90)"><text x="0" y="2.7" font-size="7.6" text-anchor="middle" fill="#231f20">Association with proinflammatory</text></g>
<g transform="translate(15.6,590) rotate(-90)"><text x="0" y="2.7" font-size="7.6" text-anchor="middle" fill="#231f20">signature</text></g>
<path d="M45,616.7 L206,616.7 C190,618.2 170,619.5 130,622.5 C100,625.5 70,629 45,632 Z" fill="#c4c4c4" stroke="none" stroke-width="1"/>
<path d="M185,616.7 C205,615.5 225,611 236,604 C242,600 246,594 248.7,587.5 L248.7,616.7 Z" fill="#c4c4c4" stroke="none" stroke-width="1"/>
<path d="M38,615.2 L45.3,615.2 L45.3,633.3 C42,635 40,638 38,642 Z" fill="#d9482a" stroke="none" stroke-width="1"/>
<path d="M248.3,616.7 L248.3,585.5 C250,572 252,556 254,543 L255.5,534.8 L255.5,616.7 Z" fill="#5a55a5" stroke="none" stroke-width="1"/>
<path d="M31.60,596 C31.60,606 39.50,606 38.50,624.7" fill="none" stroke="#555" stroke-width="0.45"/>
<path d="M36.90,596 C36.90,606 41.50,606 40.50,624.7" fill="none" stroke="#555" stroke-width="0.45"/>
<path d="M41.30,596 C41.30,606 43.50,606 42.50,624.7" fill="none" stroke="#555" stroke-width="0.45"/>
<path d="M46.60,595.4 C46.60,610 40.60,616.7 30.60,616.7 L45,616.7" fill="none" stroke="#333" stroke-width="0.45"/>
<path d="M51.00,595.4 C51.00,610 45.00,616.7 35.00,616.7 L45,616.7" fill="none" stroke="#333" stroke-width="0.45"/>
<path d="M54.60,595.4 C54.60,610 48.60,616.7 38.60,616.7 L45,616.7" fill="none" stroke="#333" stroke-width="0.45"/>
<path d="M58.70,595.4 C58.70,610 52.70,616.7 42.70,616.7 L45,616.7" fill="none" stroke="#333" stroke-width="0.45"/>
<path d="M63.10,595.4 C63.10,610 57.10,616.7 47.10,616.7 L45,616.7" fill="none" stroke="#333" stroke-width="0.45"/>
<path d="M68.20,595.4 C68.20,610 62.20,616.7 52.20,616.7 L45,616.7" fill="none" stroke="#333" stroke-width="0.45"/>
<path d="M72.60,595.4 C72.60,610 66.60,616.7 56.60,616.7 L45,616.7" fill="none" stroke="#333" stroke-width="0.45"/>
<path d="M77.70,595.4 C77.70,610 71.70,616.7 61.70,616.7 L45,616.7" fill="none" stroke="#333" stroke-width="0.45"/>
<path d="M83.20,595.4 C83.20,610 77.20,616.7 67.20,616.7 L45,616.7" fill="none" stroke="#333" stroke-width="0.45"/>
<path d="M88.30,595.4 C88.30,610 82.30,616.7 72.30,616.7 L45,616.7" fill="none" stroke="#333" stroke-width="0.45"/>
<path d="M93.80,595.4 C93.80,610 87.80,616.7 77.80,616.7 L45,616.7" fill="none" stroke="#333" stroke-width="0.45"/>
<path d="M98.90,595.4 C98.90,610 92.90,616.7 82.90,616.7 L45,616.7" fill="none" stroke="#333" stroke-width="0.45"/>
<path d="M103.70,595.4 C103.70,610 97.70,616.7 87.70,616.7 L45,616.7" fill="none" stroke="#333" stroke-width="0.45"/>
<path d="M109.20,595.4 C109.20,610 103.20,616.7 93.20,616.7 L45,616.7" fill="none" stroke="#333" stroke-width="0.45"/>
<path d="M114.70,595.4 C114.70,610 108.70,616.7 98.70,616.7 L45,616.7" fill="none" stroke="#333" stroke-width="0.45"/>
<path d="M119.80,595.4 C119.80,610 113.80,616.7 103.80,616.7 L45,616.7" fill="none" stroke="#333" stroke-width="0.45"/>
<path d="M124.90,595.4 C124.90,610 118.90,616.7 108.90,616.7 L45,616.7" fill="none" stroke="#333" stroke-width="0.45"/>
<path d="M130.40,595.4 C130.40,610 124.40,616.7 114.40,616.7 L45,616.7" fill="none" stroke="#333" stroke-width="0.45"/>
<g transform="translate(33.60,592.6) rotate(-90)"><text x="0" y="0" font-size="5.7" fill="#231f20" stroke="#231f20" stroke-width="0.18">FOXH1</text></g>
<g transform="translate(38.90,592.6) rotate(-90)"><text x="0" y="0" font-size="5.7" fill="#231f20" stroke="#231f20" stroke-width="0.18">RAD21</text></g>
<g transform="translate(43.30,592.6) rotate(-90)"><text x="0" y="0" font-size="5.7" fill="#231f20" stroke="#231f20" stroke-width="0.18">RBP2</text></g>
<g transform="translate(48.60,592.6) rotate(-90)"><text x="0" y="0" font-size="5.7" fill="#231f20" stroke="#231f20" stroke-width="0.18">OVOL2</text></g>
<g transform="translate(53.00,592.6) rotate(-90)"><text x="0" y="0" font-size="5.7" fill="#231f20" stroke="#231f20" stroke-width="0.18">PAX4</text></g>
<g transform="translate(56.60,592.6) rotate(-90)"><text x="0" y="0" font-size="5.7" fill="#231f20" stroke="#231f20" stroke-width="0.18">FOXE3</text></g>
<g transform="translate(60.70,592.6) rotate(-90)"><text x="0" y="0" font-size="5.7" fill="#231f20" stroke="#231f20" stroke-width="0.18">CREB3L4</text></g>
<g transform="translate(65.10,592.6) rotate(-90)"><text x="0" y="0" font-size="5.7" fill="#231f20" stroke="#231f20" stroke-width="0.18">PAX2</text></g>
<g transform="translate(70.20,592.6) rotate(-90)"><text x="0" y="0" font-size="5.7" fill="#231f20" stroke="#231f20" stroke-width="0.18">BARHL1</text></g>
<g transform="translate(74.60,592.6) rotate(-90)"><text x="0" y="0" font-size="5.7" fill="#231f20" stroke="#231f20" stroke-width="0.18">NR0B2</text></g>
<g transform="translate(79.70,592.6) rotate(-90)"><text x="0" y="0" font-size="5.7" fill="#231f20" stroke="#231f20" stroke-width="0.18">EPO</text></g>
<g transform="translate(85.20,592.6) rotate(-90)"><text x="0" y="0" font-size="5.7" fill="#231f20" stroke="#231f20" stroke-width="0.18">ETV4</text></g>
<g transform="translate(90.30,592.6) rotate(-90)"><text x="0" y="0" font-size="5.7" fill="#231f20" stroke="#231f20" stroke-width="0.18">DLX6</text></g>
<g transform="translate(95.80,592.6) rotate(-90)"><text x="0" y="0" font-size="5.7" fill="#231f20" stroke="#231f20" stroke-width="0.18">KLF15</text></g>
<g transform="translate(100.90,592.6) rotate(-90)"><text x="0" y="0" font-size="5.7" fill="#231f20" stroke="#231f20" stroke-width="0.18">CBX8</text></g>
<g transform="translate(105.70,592.6) rotate(-90)"><text x="0" y="0" font-size="5.7" fill="#231f20" stroke="#231f20" stroke-width="0.18">AEBP2</text></g>
<g transform="translate(111.20,592.6) rotate(-90)"><text x="0" y="0" font-size="5.7" fill="#231f20" stroke="#231f20" stroke-width="0.18">PHF21A</text></g>
<g transform="translate(116.70,592.6) rotate(-90)"><text x="0" y="0" font-size="5.7" fill="#231f20" stroke="#231f20" stroke-width="0.18">EVX1</text></g>
<g transform="translate(121.80,592.6) rotate(-90)"><text x="0" y="0" font-size="5.7" fill="#231f20" stroke="#231f20" stroke-width="0.18">EMX1</text></g>
<g transform="translate(126.90,592.6) rotate(-90)"><text x="0" y="0" font-size="5.7" fill="#231f20" stroke="#231f20" stroke-width="0.18">HES1</text></g>
<g transform="translate(132.40,592.6) rotate(-90)"><text x="0" y="0" font-size="5.7" fill="#231f20" stroke="#231f20" stroke-width="0.18">FOXA1</text></g>
<path d="M163.80,634.18 C163.80,626.18 188.80,618.7 249.00,617.2" fill="none" stroke="#9a9a9a" stroke-width="0.4"/>
<path d="M168.50,635.66 C168.50,627.66 193.50,618.7 249.30,617.2" fill="none" stroke="#9a9a9a" stroke-width="0.4"/>
<path d="M173.00,636.61 C173.00,628.61 198.00,618.7 249.60,617.2" fill="none" stroke="#9a9a9a" stroke-width="0.4"/>
<path d="M177.70,641.15 C177.70,633.15 202.70,618.7 249.90,617.2" fill="none" stroke="#9a9a9a" stroke-width="0.4"/>
<path d="M184.20,634.18 C184.20,626.18 209.20,618.7 250.20,617.2" fill="none" stroke="#9a9a9a" stroke-width="0.4"/>
<path d="M188.80,639.36 C188.80,631.36 213.80,618.7 250.50,617.2" fill="none" stroke="#9a9a9a" stroke-width="0.4"/>
<path d="M195.00,634.81 C195.00,626.81 220.00,618.7 250.80,617.2" fill="none" stroke="#9a9a9a" stroke-width="0.4"/>
<path d="M199.60,636.61 C199.60,628.61 224.60,618.7 251.10,617.2" fill="none" stroke="#9a9a9a" stroke-width="0.4"/>
<path d="M205.00,639.36 C205.00,631.36 230.00,618.7 251.40,617.2" fill="none" stroke="#9a9a9a" stroke-width="0.4"/>
<path d="M210.00,641.15 C210.00,633.15 235.00,618.7 251.70,617.2" fill="none" stroke="#9a9a9a" stroke-width="0.4"/>
<path d="M215.80,638.30 C215.80,630.30 240.80,618.7 252.00,617.2" fill="none" stroke="#9a9a9a" stroke-width="0.4"/>
<path d="M220.60,640.20 C220.60,632.20 245.60,618.7 252.30,617.2" fill="none" stroke="#9a9a9a" stroke-width="0.4"/>
<path d="M226.00,641.77 C226.00,633.77 251.00,618.7 252.60,617.2" fill="none" stroke="#9a9a9a" stroke-width="0.4"/>
<path d="M231.00,637.98 C231.00,629.98 252.90,618.7 252.90,617.2" fill="none" stroke="#9a9a9a" stroke-width="0.4"/>
<path d="M236.50,625.31 C236.50,617.31 253.20,618.7 253.20,617.2" fill="none" stroke="#9a9a9a" stroke-width="0.4"/>
<path d="M241.40,636.07 C241.40,628.07 253.50,618.7 253.50,617.2" fill="none" stroke="#9a9a9a" stroke-width="0.4"/>
<path d="M247.00,632.91 C247.00,624.91 253.80,618.7 253.80,617.2" fill="none" stroke="#9a9a9a" stroke-width="0.4"/>
<path d="M252.00,641.15 C252.00,633.15 254.10,618.7 254.10,617.2" fill="none" stroke="#9a9a9a" stroke-width="0.4"/>
<path d="M257.30,639.35 C257.30,631.35 254.40,618.7 254.40,617.2" fill="none" stroke="#9a9a9a" stroke-width="0.4"/>
<path d="M262.60,640.51 C262.60,632.51 254.70,618.7 254.70,617.2" fill="none" stroke="#9a9a9a" stroke-width="0.4"/>
<g transform="translate(165.80,655) rotate(-90)"><text x="0" y="0" font-size="5.7" fill="#231f20" stroke="#231f20" stroke-width="0.18">RUNX2</text></g>
<g transform="translate(170.50,655) rotate(-90)"><text x="0" y="0" font-size="5.7" fill="#231f20" stroke="#231f20" stroke-width="0.18">GATA3</text></g>
<g transform="translate(175.00,655) rotate(-90)"><text x="0" y="0" font-size="5.7" fill="#231f20" stroke="#231f20" stroke-width="0.18">STAT1</text></g>
<g transform="translate(179.70,655) rotate(-90)"><text x="0" y="0" font-size="5.7" fill="#231f20" stroke="#231f20" stroke-width="0.18">IRF1</text></g>
<g transform="translate(186.20,655) rotate(-90)"><text x="0" y="0" font-size="5.7" fill="#231f20" stroke="#231f20" stroke-width="0.18">RUNX3</text></g>
<g transform="translate(190.80,655) rotate(-90)"><text x="0" y="0" font-size="5.7" fill="#231f20" stroke="#231f20" stroke-width="0.18">BATF</text></g>
<g transform="translate(197.00,655) rotate(-90)"><text x="0" y="0" font-size="5.7" fill="#231f20" stroke="#231f20" stroke-width="0.18">FOXP3</text></g>
<g transform="translate(201.60,655) rotate(-90)"><text x="0" y="0" font-size="5.7" fill="#231f20" stroke="#231f20" stroke-width="0.18">STAT4</text></g>
<g transform="translate(207.00,655) rotate(-90)"><text x="0" y="0" font-size="5.7" fill="#231f20" stroke="#231f20" stroke-width="0.18">CIITA</text></g>
<g transform="translate(212.00,655) rotate(-90)"><text x="0" y="0" font-size="5.7" fill="#231f20" stroke="#231f20" stroke-width="0.18">IRF8</text></g>
<g transform="translate(217.80,655) rotate(-90)"><text x="0" y="0" font-size="5.7" fill="#231f20" stroke="#231f20" stroke-width="0.18">MYF6</text></g>
<g transform="translate(222.60,655) rotate(-90)"><text x="0" y="0" font-size="5.7" fill="#231f20" stroke="#231f20" stroke-width="0.18">MXI1</text></g>
<g transform="translate(228.00,655) rotate(-90)"><text x="0" y="0" font-size="5.7" fill="#231f20" stroke="#231f20" stroke-width="0.18">ISL2</text></g>
<g transform="translate(233.00,655) rotate(-90)"><text x="0" y="0" font-size="5.7" fill="#231f20" stroke="#231f20" stroke-width="0.18">IKZF1</text></g>
<g transform="translate(238.50,655) rotate(-90)"><text x="0" y="0" font-size="5.7" fill="#231f20" stroke="#231f20" stroke-width="0.18">NEUROG3</text></g>
<g transform="translate(243.40,655) rotate(-90)"><text x="0" y="0" font-size="5.7" fill="#231f20" stroke="#231f20" stroke-width="0.18">TBX21</text></g>
<g transform="translate(249.00,655) rotate(-90)"><text x="0" y="0" font-size="5.7" fill="#231f20" stroke="#231f20" stroke-width="0.18">EOMES</text></g>
<g transform="translate(254.00,655) rotate(-90)"><text x="0" y="0" font-size="5.7" fill="#231f20" stroke="#231f20" stroke-width="0.18">IRF4</text></g>
<g transform="translate(259.30,655) rotate(-90)"><text x="0" y="0" font-size="5.7" fill="#231f20" stroke="#231f20" stroke-width="0.18">PAX5</text></g>
<g transform="translate(264.60,655) rotate(-90)"><text x="0" y="0" font-size="5.7" fill="#231f20" stroke="#231f20" stroke-width="0.18">SPIB</text></g>
<path d="M27.9,529.5 L27.9,650.6" fill="none" stroke="#444" stroke-width="0.8"/>
<line x1="25.80" y1="570.50" x2="27.90" y2="570.50" stroke="#444" stroke-width="0.8"/>
<line x1="25.80" y1="616.70" x2="27.90" y2="616.70" stroke="#444" stroke-width="0.8"/>
<text x="24.30" y="573.00" font-size="7.00" text-anchor="end" fill="#231f20">1</text>
<text x="24.80" y="619.20" font-size="7.00" text-anchor="end" fill="#231f20">0</text>
<text x="287.20" y="633.87" font-size="7.50" text-anchor="middle" font-weight="bold" fill="#231f20">Immune</text>
<text x="287.00" y="640.57" font-size="7.50" text-anchor="middle" font-weight="bold" fill="#231f20">module</text>
<path d="M278.5,647 L291.5,647 L291.5,644.6 L300,649.2 L291.5,653.8 L291.5,652.3 L278.5,652.3 Z" fill="#c9962b" stroke="none" stroke-width="1"/>
<path d="M375,495.8 L381.5,495.8 L381.5,508 L383.5,508 L378.2,516.5 L373,508 L375,508 Z" fill="#3c88c0" stroke="none" stroke-width="1"/>
<text x="387.30" y="507.87" font-size="7.50" font-weight="bold" fill="#231f20">Regulator module</text>
<text x="3.10" y="682.10" font-size="10.50" font-weight="bold" fill="#000">E</text>
<line x1="26.00" y1="687.80" x2="63.50" y2="687.80" stroke="#bdbdbd" stroke-width="1.1"/>
<line x1="33.90" y1="692.10" x2="63.50" y2="692.10" stroke="#bdbdbd" stroke-width="1.1"/>
<line x1="40.10" y1="696.40" x2="63.50" y2="696.40" stroke="#bdbdbd" stroke-width="1.1"/>
<line x1="41.50" y1="700.70" x2="63.50" y2="700.70" stroke="#bdbdbd" stroke-width="1.1"/>
<line x1="42.70" y1="705.00" x2="63.50" y2="705.00" stroke="#bdbdbd" stroke-width="1.1"/>
<line x1="44.60" y1="709.30" x2="63.50" y2="709.30" stroke="#bdbdbd" stroke-width="1.1"/>
<line x1="45.70" y1="713.60" x2="63.50" y2="713.60" stroke="#bdbdbd" stroke-width="1.1"/>
<line x1="46.00" y1="717.90" x2="63.50" y2="717.90" stroke="#bdbdbd" stroke-width="1.1"/>
<line x1="46.70" y1="722.20" x2="63.50" y2="722.20" stroke="#bdbdbd" stroke-width="1.1"/>
<line x1="48.10" y1="726.50" x2="63.50" y2="726.50" stroke="#bdbdbd" stroke-width="1.1"/>
<line x1="48.40" y1="730.80" x2="63.50" y2="730.80" stroke="#bdbdbd" stroke-width="1.1"/>
<line x1="49.00" y1="735.10" x2="63.50" y2="735.10" stroke="#bdbdbd" stroke-width="1.1"/>
<line x1="49.30" y1="739.40" x2="63.50" y2="739.40" stroke="#bdbdbd" stroke-width="1.1"/>
<line x1="49.80" y1="743.70" x2="63.50" y2="743.70" stroke="#bdbdbd" stroke-width="1.1"/>
<line x1="50.50" y1="748.00" x2="63.50" y2="748.00" stroke="#bdbdbd" stroke-width="1.1"/>
<line x1="75.00" y1="752.30" x2="63.50" y2="752.30" stroke="#bdbdbd" stroke-width="1.1"/>
<line x1="75.30" y1="756.60" x2="63.50" y2="756.60" stroke="#bdbdbd" stroke-width="1.1"/>
<line x1="75.50" y1="760.90" x2="63.50" y2="760.90" stroke="#bdbdbd" stroke-width="1.1"/>
<line x1="75.60" y1="765.20" x2="63.50" y2="765.20" stroke="#bdbdbd" stroke-width="1.1"/>
<line x1="75.80" y1="769.50" x2="63.50" y2="769.50" stroke="#bdbdbd" stroke-width="1.1"/>
<line x1="76.00" y1="773.80" x2="63.50" y2="773.80" stroke="#bdbdbd" stroke-width="1.1"/>
<line x1="76.10" y1="778.10" x2="63.50" y2="778.10" stroke="#bdbdbd" stroke-width="1.1"/>
<line x1="76.30" y1="782.40" x2="63.50" y2="782.40" stroke="#bdbdbd" stroke-width="1.1"/>
<line x1="76.40" y1="786.70" x2="63.50" y2="786.70" stroke="#bdbdbd" stroke-width="1.1"/>
<line x1="76.60" y1="791.00" x2="63.50" y2="791.00" stroke="#bdbdbd" stroke-width="1.1"/>
<line x1="76.70" y1="795.30" x2="63.50" y2="795.30" stroke="#bdbdbd" stroke-width="1.1"/>
<line x1="77.00" y1="799.60" x2="63.50" y2="799.60" stroke="#bdbdbd" stroke-width="1.1"/>
<line x1="78.50" y1="803.90" x2="63.50" y2="803.90" stroke="#bdbdbd" stroke-width="1.1"/>
<line x1="80.40" y1="808.20" x2="63.50" y2="808.20" stroke="#bdbdbd" stroke-width="1.1"/>
<line x1="80.80" y1="812.50" x2="63.50" y2="812.50" stroke="#bdbdbd" stroke-width="1.1"/>
<circle cx="26.00" cy="687.80" r="2.30" fill="#504d9e"/>
<circle cx="33.90" cy="692.10" r="2.30" fill="#504d9e"/>
<circle cx="40.10" cy="696.40" r="2.30" fill="#504d9e"/>
<circle cx="41.50" cy="700.70" r="2.30" fill="#504d9e"/>
<circle cx="42.70" cy="705.00" r="2.30" fill="#504d9e"/>
<circle cx="44.60" cy="709.30" r="2.30" fill="#504d9e"/>
<circle cx="45.70" cy="713.60" r="2.30" fill="#504d9e"/>
<circle cx="46.00" cy="717.90" r="2.30" fill="#504d9e"/>
<circle cx="46.70" cy="722.20" r="2.30" fill="#504d9e"/>
<circle cx="48.10" cy="726.50" r="2.30" fill="#504d9e"/>
<circle cx="48.40" cy="730.80" r="2.30" fill="#504d9e"/>
<circle cx="49.00" cy="735.10" r="2.30" fill="#504d9e"/>
<circle cx="49.30" cy="739.40" r="2.30" fill="#504d9e"/>
<circle cx="49.80" cy="743.70" r="2.30" fill="#504d9e"/>
<circle cx="50.50" cy="748.00" r="2.30" fill="#504d9e"/>
<circle cx="75.00" cy="752.30" r="2.30" fill="#d3482a"/>
<circle cx="75.30" cy="756.60" r="2.30" fill="#d3482a"/>
<circle cx="75.50" cy="760.90" r="2.30" fill="#d3482a"/>
<circle cx="75.60" cy="765.20" r="2.30" fill="#d3482a"/>
<circle cx="75.80" cy="769.50" r="2.30" fill="#d3482a"/>
<circle cx="76.00" cy="773.80" r="2.30" fill="#d3482a"/>
<circle cx="76.10" cy="778.10" r="2.30" fill="#d3482a"/>
<circle cx="76.30" cy="782.40" r="2.30" fill="#d3482a"/>
<circle cx="76.40" cy="786.70" r="2.30" fill="#d3482a"/>
<circle cx="76.60" cy="791.00" r="2.30" fill="#d3482a"/>
<circle cx="76.70" cy="795.30" r="2.30" fill="#d3482a"/>
<circle cx="77.00" cy="799.60" r="2.30" fill="#d3482a"/>
<circle cx="78.50" cy="803.90" r="2.30" fill="#d3482a"/>
<circle cx="80.40" cy="808.20" r="2.30" fill="#d3482a"/>
<circle cx="80.80" cy="812.50" r="2.30" fill="#d3482a"/>
<text x="21.20" y="690.30" font-size="5.00" text-anchor="end" fill="#231f20" stroke="#231f20" stroke-width="0.15">TBX21</text>
<text x="21.20" y="694.60" font-size="5.00" text-anchor="end" fill="#231f20" stroke="#231f20" stroke-width="0.15">RUNX3</text>
<text x="21.20" y="698.90" font-size="5.00" text-anchor="end" fill="#231f20" stroke="#231f20" stroke-width="0.15">FOXP3</text>
<text x="21.20" y="703.20" font-size="5.00" text-anchor="end" fill="#231f20" stroke="#231f20" stroke-width="0.15">BATF3</text>
<text x="21.20" y="707.50" font-size="5.00" text-anchor="end" fill="#231f20" stroke="#231f20" stroke-width="0.15">STAT4</text>
<text x="21.20" y="711.80" font-size="5.00" text-anchor="end" fill="#231f20" stroke="#231f20" stroke-width="0.15">IRF4</text>
<text x="21.20" y="716.10" font-size="5.00" text-anchor="end" fill="#231f20" stroke="#231f20" stroke-width="0.15">IRF8</text>
<text x="21.20" y="720.40" font-size="5.00" text-anchor="end" fill="#231f20" stroke="#231f20" stroke-width="0.15">GATA3</text>
<text x="21.20" y="724.70" font-size="5.00" text-anchor="end" fill="#231f20" stroke="#231f20" stroke-width="0.15">IKZF1</text>
<text x="21.20" y="729.00" font-size="5.00" text-anchor="end" fill="#231f20" stroke="#231f20" stroke-width="0.15">POU2F2</text>
<text x="21.20" y="733.30" font-size="5.00" text-anchor="end" fill="#231f20" stroke="#231f20" stroke-width="0.15">BATF</text>
<text x="21.20" y="737.60" font-size="5.00" text-anchor="end" fill="#231f20" stroke="#231f20" stroke-width="0.15">STAT5A</text>
<text x="21.20" y="741.90" font-size="5.00" text-anchor="end" fill="#231f20" stroke="#231f20" stroke-width="0.15">IRF1</text>
<text x="21.20" y="746.20" font-size="5.00" text-anchor="end" fill="#231f20" stroke="#231f20" stroke-width="0.15">SPIB</text>
<text x="21.20" y="750.50" font-size="5.00" text-anchor="end" fill="#231f20" stroke="#231f20" stroke-width="0.15">CIITA</text>
<text x="21.20" y="754.80" font-size="5.00" text-anchor="end" fill="#231f20" stroke="#231f20" stroke-width="0.15">KLF3</text>
<text x="21.20" y="759.10" font-size="5.00" text-anchor="end" fill="#231f20" stroke="#231f20" stroke-width="0.15">PRDM1</text>
<text x="21.20" y="763.40" font-size="5.00" text-anchor="end" fill="#231f20" stroke="#231f20" stroke-width="0.15">ESRRA</text>
<text x="21.20" y="767.70" font-size="5.00" text-anchor="end" fill="#231f20" stroke="#231f20" stroke-width="0.15">FOXO3</text>
<text x="21.20" y="772.00" font-size="5.00" text-anchor="end" fill="#231f20" stroke="#231f20" stroke-width="0.15">DICER1</text>
<text x="21.20" y="776.30" font-size="5.00" text-anchor="end" fill="#231f20" stroke="#231f20" stroke-width="0.15">GRHL1</text>
<text x="21.20" y="780.60" font-size="5.00" text-anchor="end" fill="#231f20" stroke="#231f20" stroke-width="0.15">CDK7</text>
<text x="21.20" y="784.90" font-size="5.00" text-anchor="end" fill="#231f20" stroke="#231f20" stroke-width="0.15">SUMO2</text>
<text x="21.20" y="789.20" font-size="5.00" text-anchor="end" fill="#231f20" stroke="#231f20" stroke-width="0.15">DLX2</text>
<text x="21.20" y="793.50" font-size="5.00" text-anchor="end" fill="#231f20" stroke="#231f20" stroke-width="0.15">TAF3</text>
<text x="21.20" y="797.80" font-size="5.00" text-anchor="end" fill="#231f20" stroke="#231f20" stroke-width="0.15">STAG1</text>
<text x="21.20" y="802.10" font-size="5.00" text-anchor="end" fill="#231f20" stroke="#231f20" stroke-width="0.15">UBE2I</text>
<text x="21.20" y="806.40" font-size="5.00" text-anchor="end" fill="#231f20" stroke="#231f20" stroke-width="0.15">SUMO1</text>
<text x="21.20" y="810.70" font-size="5.00" text-anchor="end" fill="#231f20" stroke="#231f20" stroke-width="0.15">CREB1</text>
<text x="21.20" y="815.00" font-size="5.00" text-anchor="end" fill="#231f20" stroke="#231f20" stroke-width="0.15">LMNA</text>
<path d="M23.5,685 L23.5,816 L83,816" fill="none" stroke="#777" stroke-width="0.7"/>
<line x1="36.90" y1="816.00" x2="36.90" y2="817.50" stroke="#777" stroke-width="0.6"/>
<text x="35.50" y="822.60" font-size="7.00" text-anchor="middle" fill="#231f20">−0.4</text>
<line x1="50.20" y1="816.00" x2="50.20" y2="817.50" stroke="#777" stroke-width="0.6"/>
<text x="51.00" y="822.60" font-size="7.00" text-anchor="middle" fill="#231f20">−0.2</text>
<line x1="63.50" y1="816.00" x2="63.50" y2="817.50" stroke="#777" stroke-width="0.6"/>
<text x="63.40" y="822.60" font-size="7.00" text-anchor="middle" fill="#231f20">0.0</text>
<line x1="76.80" y1="816.00" x2="76.80" y2="817.50" stroke="#777" stroke-width="0.6"/>
<text x="76.80" y="822.60" font-size="7.00" text-anchor="middle" fill="#231f20">0.2</text>
<text x="54.30" y="831.76" font-size="7.35" text-anchor="middle" fill="#231f20">Differential activity</text>
<text x="54.00" y="839.86" font-size="7.35" text-anchor="middle" fill="#231f20">in cancer cells</text>
<text x="91.70" y="682.10" font-size="10.50" font-weight="bold" fill="#000">F</text>
<circle cx="145.1" cy="783.7" r="0.95" fill="#a0a0a0" fill-opacity="0.3"/>
<circle cx="151.9" cy="780.8" r="0.95" fill="#a0a0a0" fill-opacity="0.3"/>
<circle cx="144.8" cy="782.3" r="0.95" fill="#a0a0a0" fill-opacity="0.3"/>
<circle cx="150.3" cy="786.1" r="0.95" fill="#a0a0a0" fill-opacity="0.3"/>
<circle cx="145.2" cy="778.3" r="0.95" fill="#a0a0a0" fill-opacity="0.3"/>
<circle cx="151.0" cy="784.0" r="0.95" fill="#a0a0a0" fill-opacity="0.3"/>
<circle cx="153.5" cy="785.7" r="0.95" fill="#a0a0a0" fill-opacity="0.3"/>
<circle cx="148.5" cy="781.6" r="0.95" fill="#a0a0a0" fill-opacity="0.3"/>
<circle cx="156.6" cy="781.6" r="0.95" fill="#a0a0a0" fill-opacity="0.3"/>
<circle cx="146.5" cy="778.8" r="0.95" fill="#a0a0a0" fill-opacity="0.3"/>
<circle cx="149.1" cy="783.0" r="0.95" fill="#a0a0a0" fill-opacity="0.3"/>
<circle cx="147.8" cy="782.3" r="0.95" fill="#a0a0a0" fill-opacity="0.3"/>
<circle cx="149.7" cy="784.8" r="0.95" fill="#a0a0a0" fill-opacity="0.3"/>
<circle cx="152.2" cy="783.2" r="0.95" fill="#a0a0a0" fill-opacity="0.3"/>
<circle cx="143.4" cy="784.8" r="0.95" fill="#a0a0a0" fill-opacity="0.3"/>
<circle cx="144.5" cy="781.9" r="0.95" fill="#a0a0a0" fill-opacity="0.3"/>
<circle cx="144.4" cy="782.5" r="0.95" fill="#a0a0a0" fill-opacity="0.3"/>
<circle cx="146.5" cy="783.2" r="0.95" fill="#a0a0a0" fill-opacity="0.3"/>
<circle cx="158.9" cy="782.3" r="0.95" fill="#a0a0a0" fill-opacity="0.3"/>
<circle cx="151.4" cy="778.2" r="0.95" fill="#a0a0a0" fill-opacity="0.3"/>
<circle cx="148.0" cy="784.7" r="0.95" fill="#a0a0a0" fill-opacity="0.3"/>
<circle cx="148.6" cy="783.7" r="0.95" fill="#a0a0a0" fill-opacity="0.3"/>
<circle cx="149.2" cy="779.2" r="0.95" fill="#a0a0a0" fill-opacity="0.3"/>
<circle cx="150.6" cy="779.8" r="0.95" fill="#a0a0a0" fill-opacity="0.3"/>
<circle cx="154.5" cy="780.8" r="0.95" fill="#a0a0a0" fill-opacity="0.3"/>
<circle cx="150.9" cy="782.5" r="0.95" fill="#a0a0a0" fill-opacity="0.3"/>
<circle cx="151.7" cy="780.5" r="0.95" fill="#a0a0a0" fill-opacity="0.3"/>
<circle cx="151.9" cy="782.1" r="0.95" fill="#a0a0a0" fill-opacity="0.3"/>
<circle cx="152.7" cy="784.5" r="0.95" fill="#a0a0a0" fill-opacity="0.3"/>
<circle cx="149.3" cy="780.0" r="0.95" fill="#a0a0a0" fill-opacity="0.3"/>
<circle cx="151.2" cy="784.0" r="0.95" fill="#a0a0a0" fill-opacity="0.3"/>
<circle cx="153.8" cy="781.3" r="0.95" fill="#a0a0a0" fill-opacity="0.3"/>
<circle cx="150.5" cy="784.2" r="0.95" fill="#a0a0a0" fill-opacity="0.3"/>
<circle cx="149.7" cy="783.2" r="0.95" fill="#a0a0a0" fill-opacity="0.3"/>
<circle cx="149.4" cy="780.5" r="0.95" fill="#a0a0a0" fill-opacity="0.3"/>
<circle cx="145.8" cy="781.2" r="0.95" fill="#a0a0a0" fill-opacity="0.3"/>
<circle cx="150.6" cy="787.4" r="0.95" fill="#a0a0a0" fill-opacity="0.3"/>
<circle cx="151.8" cy="785.9" r="0.95" fill="#a0a0a0" fill-opacity="0.3"/>
<circle cx="151.2" cy="784.8" r="0.95" fill="#a0a0a0" fill-opacity="0.3"/>
<circle cx="149.4" cy="785.0" r="0.95" fill="#a0a0a0" fill-opacity="0.3"/>
<circle cx="154.2" cy="781.4" r="0.95" fill="#a0a0a0" fill-opacity="0.3"/>
<circle cx="146.8" cy="788.9" r="0.95" fill="#a0a0a0" fill-opacity="0.3"/>
<circle cx="149.6" cy="785.7" r="0.95" fill="#a0a0a0" fill-opacity="0.3"/>
<circle cx="151.5" cy="778.8" r="0.95" fill="#a0a0a0" fill-opacity="0.3"/>
<circle cx="156.2" cy="788.3" r="0.95" fill="#a0a0a0" fill-opacity="0.3"/>
<circle cx="149.4" cy="784.9" r="0.95" fill="#a0a0a0" fill-opacity="0.3"/>
<circle cx="149.2" cy="779.6" r="0.95" fill="#a0a0a0" fill-opacity="0.3"/>
<circle cx="148.5" cy="783.7" r="0.95" fill="#a0a0a0" fill-opacity="0.3"/>
<circle cx="152.2" cy="784.8" r="0.95" fill="#a0a0a0" fill-opacity="0.3"/>
<circle cx="149.0" cy="786.9" r="0.95" fill="#a0a0a0" fill-opacity="0.3"/>
<circle cx="146.5" cy="785.1" r="0.95" fill="#a0a0a0" fill-opacity="0.3"/>
<circle cx="152.2" cy="781.5" r="0.95" fill="#a0a0a0" fill-opacity="0.3"/>
<circle cx="143.4" cy="779.5" r="0.95" fill="#a0a0a0" fill-opacity="0.3"/>
<circle cx="149.6" cy="784.2" r="0.95" fill="#a0a0a0" fill-opacity="0.3"/>
<circle cx="153.5" cy="779.2" r="0.95" fill="#a0a0a0" fill-opacity="0.3"/>
<circle cx="148.9" cy="784.6" r="0.95" fill="#a0a0a0" fill-opacity="0.3"/>
<circle cx="148.4" cy="774.8" r="0.95" fill="#a0a0a0" fill-opacity="0.3"/>
<circle cx="151.3" cy="790.0" r="0.95" fill="#a0a0a0" fill-opacity="0.3"/>
<circle cx="151.9" cy="779.5" r="0.95" fill="#a0a0a0" fill-opacity="0.3"/>
<circle cx="147.6" cy="783.2" r="0.95" fill="#a0a0a0" fill-opacity="0.3"/>
<circle cx="156.4" cy="784.5" r="0.95" fill="#a0a0a0" fill-opacity="0.3"/>
<circle cx="149.2" cy="787.6" r="0.95" fill="#a0a0a0" fill-opacity="0.3"/>
<circle cx="148.6" cy="788.6" r="0.95" fill="#a0a0a0" fill-opacity="0.3"/>
<circle cx="146.8" cy="780.9" r="0.95" fill="#a0a0a0" fill-opacity="0.3"/>
<circle cx="151.0" cy="787.1" r="0.95" fill="#a0a0a0" fill-opacity="0.3"/>
<circle cx="150.8" cy="783.5" r="0.95" fill="#a0a0a0" fill-opacity="0.3"/>
<circle cx="143.3" cy="780.2" r="0.95" fill="#a0a0a0" fill-opacity="0.3"/>
<circle cx="147.0" cy="780.8" r="0.95" fill="#a0a0a0" fill-opacity="0.3"/>
<circle cx="150.6" cy="781.4" r="0.95" fill="#a0a0a0" fill-opacity="0.3"/>
<circle cx="151.2" cy="782.8" r="0.95" fill="#a0a0a0" fill-opacity="0.3"/>
<circle cx="147.8" cy="782.9" r="0.95" fill="#a0a0a0" fill-opacity="0.3"/>
<circle cx="150.2" cy="785.3" r="0.95" fill="#a0a0a0" fill-opacity="0.3"/>
<circle cx="147.4" cy="781.7" r="0.95" fill="#a0a0a0" fill-opacity="0.3"/>
<circle cx="144.7" cy="787.7" r="0.95" fill="#a0a0a0" fill-opacity="0.3"/>
<circle cx="153.3" cy="781.9" r="0.95" fill="#a0a0a0" fill-opacity="0.3"/>
<circle cx="147.4" cy="778.5" r="0.95" fill="#a0a0a0" fill-opacity="0.3"/>
<circle cx="149.4" cy="783.2" r="0.95" fill="#a0a0a0" fill-opacity="0.3"/>
<circle cx="155.5" cy="783.3" r="0.95" fill="#a0a0a0" fill-opacity="0.3"/>
<circle cx="146.5" cy="774.5" r="0.95" fill="#a0a0a0" fill-opacity="0.3"/>
<circle cx="153.1" cy="783.1" r="0.95" fill="#a0a0a0" fill-opacity="0.3"/>
<circle cx="144.0" cy="783.1" r="0.95" fill="#a0a0a0" fill-opacity="0.3"/>
<circle cx="144.0" cy="793.8" r="0.95" fill="#a0a0a0" fill-opacity="0.3"/>
<circle cx="152.2" cy="784.4" r="0.95" fill="#a0a0a0" fill-opacity="0.3"/>
<circle cx="148.3" cy="775.5" r="0.95" fill="#a0a0a0" fill-opacity="0.3"/>
<circle cx="148.5" cy="777.4" r="0.95" fill="#a0a0a0" fill-opacity="0.3"/>
<circle cx="150.7" cy="775.5" r="0.95" fill="#a0a0a0" fill-opacity="0.3"/>
<circle cx="146.1" cy="786.5" r="0.95" fill="#a0a0a0" fill-opacity="0.3"/>
<circle cx="153.8" cy="778.6" r="0.95" fill="#a0a0a0" fill-opacity="0.3"/>
<circle cx="144.2" cy="785.4" r="0.95" fill="#a0a0a0" fill-opacity="0.3"/>
<circle cx="151.4" cy="779.3" r="0.95" fill="#a0a0a0" fill-opacity="0.3"/>
<circle cx="146.7" cy="780.2" r="0.95" fill="#a0a0a0" fill-opacity="0.3"/>
<circle cx="145.2" cy="780.3" r="0.95" fill="#a0a0a0" fill-opacity="0.3"/>
<circle cx="152.6" cy="784.7" r="0.95" fill="#a0a0a0" fill-opacity="0.3"/>
<circle cx="155.1" cy="782.2" r="0.95" fill="#a0a0a0" fill-opacity="0.3"/>
<circle cx="148.4" cy="779.3" r="0.95" fill="#a0a0a0" fill-opacity="0.3"/>
<circle cx="148.5" cy="778.2" r="0.95" fill="#a0a0a0" fill-opacity="0.3"/>
<circle cx="143.5" cy="784.8" r="0.95" fill="#a0a0a0" fill-opacity="0.3"/>
<circle cx="153.2" cy="785.2" r="0.95" fill="#a0a0a0" fill-opacity="0.3"/>
<circle cx="152.9" cy="783.3" r="0.95" fill="#a0a0a0" fill-opacity="0.3"/>
<circle cx="146.7" cy="782.8" r="0.95" fill="#a0a0a0" fill-opacity="0.3"/>
<circle cx="147.7" cy="778.9" r="0.95" fill="#a0a0a0" fill-opacity="0.3"/>
<circle cx="143.7" cy="777.7" r="0.95" fill="#a0a0a0" fill-opacity="0.3"/>
<circle cx="148.8" cy="783.0" r="0.95" fill="#a0a0a0" fill-opacity="0.3"/>
<circle cx="147.4" cy="787.2" r="0.95" fill="#a0a0a0" fill-opacity="0.3"/>
<circle cx="149.4" cy="784.4" r="0.95" fill="#a0a0a0" fill-opacity="0.3"/>
<circle cx="152.6" cy="779.8" r="0.95" fill="#a0a0a0" fill-opacity="0.3"/>
<circle cx="142.9" cy="784.9" r="0.95" fill="#a0a0a0" fill-opacity="0.3"/>
<circle cx="146.8" cy="786.8" r="0.95" fill="#a0a0a0" fill-opacity="0.3"/>
<circle cx="149.9" cy="785.8" r="0.95" fill="#a0a0a0" fill-opacity="0.3"/>
<circle cx="151.2" cy="775.7" r="0.95" fill="#a0a0a0" fill-opacity="0.3"/>
<circle cx="151.0" cy="780.3" r="0.95" fill="#a0a0a0" fill-opacity="0.3"/>
<circle cx="146.6" cy="781.1" r="0.95" fill="#a0a0a0" fill-opacity="0.3"/>
<circle cx="151.2" cy="785.4" r="0.95" fill="#a0a0a0" fill-opacity="0.3"/>
<circle cx="151.9" cy="777.1" r="0.95" fill="#a0a0a0" fill-opacity="0.3"/>
<circle cx="147.1" cy="774.7" r="0.95" fill="#a0a0a0" fill-opacity="0.3"/>
<circle cx="148.5" cy="784.5" r="0.95" fill="#a0a0a0" fill-opacity="0.3"/>
<circle cx="146.5" cy="783.3" r="0.95" fill="#a0a0a0" fill-opacity="0.3"/>
<circle cx="149.6" cy="785.8" r="0.95" fill="#a0a0a0" fill-opacity="0.3"/>
<circle cx="146.4" cy="779.8" r="0.95" fill="#a0a0a0" fill-opacity="0.3"/>
<circle cx="146.5" cy="788.2" r="0.95" fill="#a0a0a0" fill-opacity="0.3"/>
<circle cx="152.2" cy="782.1" r="0.95" fill="#a0a0a0" fill-opacity="0.3"/>
<circle cx="149.5" cy="782.9" r="0.95" fill="#a0a0a0" fill-opacity="0.3"/>
<circle cx="149.5" cy="781.8" r="0.95" fill="#a0a0a0" fill-opacity="0.3"/>
<circle cx="147.8" cy="778.4" r="0.95" fill="#a0a0a0" fill-opacity="0.3"/>
<circle cx="146.9" cy="787.9" r="0.95" fill="#a0a0a0" fill-opacity="0.3"/>
<circle cx="150.5" cy="782.7" r="0.95" fill="#a0a0a0" fill-opacity="0.3"/>
<circle cx="148.2" cy="782.7" r="0.95" fill="#a0a0a0" fill-opacity="0.3"/>
<circle cx="149.9" cy="780.4" r="0.95" fill="#a0a0a0" fill-opacity="0.3"/>
<circle cx="149.5" cy="783.3" r="0.95" fill="#a0a0a0" fill-opacity="0.3"/>
<circle cx="146.6" cy="779.9" r="0.95" fill="#a0a0a0" fill-opacity="0.3"/>
<circle cx="145.8" cy="779.0" r="0.95" fill="#a0a0a0" fill-opacity="0.3"/>
<circle cx="151.6" cy="774.8" r="0.95" fill="#a0a0a0" fill-opacity="0.3"/>
<circle cx="148.0" cy="780.5" r="0.95" fill="#a0a0a0" fill-opacity="0.3"/>
<circle cx="147.0" cy="782.8" r="0.95" fill="#a0a0a0" fill-opacity="0.3"/>
<circle cx="152.3" cy="782.7" r="0.95" fill="#a0a0a0" fill-opacity="0.3"/>
<circle cx="148.4" cy="780.5" r="0.95" fill="#a0a0a0" fill-opacity="0.3"/>
<circle cx="148.5" cy="785.5" r="0.95" fill="#a0a0a0" fill-opacity="0.3"/>
<circle cx="147.7" cy="778.8" r="0.95" fill="#a0a0a0" fill-opacity="0.3"/>
<circle cx="145.0" cy="778.9" r="0.95" fill="#a0a0a0" fill-opacity="0.3"/>
<circle cx="144.6" cy="786.1" r="0.95" fill="#a0a0a0" fill-opacity="0.3"/>
<circle cx="149.9" cy="781.7" r="0.95" fill="#a0a0a0" fill-opacity="0.3"/>
<circle cx="153.3" cy="780.3" r="0.95" fill="#a0a0a0" fill-opacity="0.3"/>
<circle cx="151.1" cy="785.1" r="0.95" fill="#a0a0a0" fill-opacity="0.3"/>
<circle cx="144.2" cy="777.4" r="0.95" fill="#a0a0a0" fill-opacity="0.3"/>
<circle cx="146.0" cy="785.5" r="0.95" fill="#a0a0a0" fill-opacity="0.3"/>
<circle cx="152.8" cy="778.5" r="0.95" fill="#a0a0a0" fill-opacity="0.3"/>
<circle cx="152.0" cy="781.2" r="0.95" fill="#a0a0a0" fill-opacity="0.3"/>
<circle cx="147.7" cy="780.7" r="0.95" fill="#a0a0a0" fill-opacity="0.3"/>
<circle cx="147.9" cy="776.6" r="0.95" fill="#a0a0a0" fill-opacity="0.3"/>
<circle cx="145.8" cy="778.5" r="0.95" fill="#a0a0a0" fill-opacity="0.3"/>
<circle cx="150.3" cy="789.3" r="0.95" fill="#a0a0a0" fill-opacity="0.3"/>
<circle cx="157.1" cy="781.4" r="0.95" fill="#a0a0a0" fill-opacity="0.3"/>
<circle cx="143.6" cy="781.2" r="0.95" fill="#a0a0a0" fill-opacity="0.3"/>
<circle cx="146.0" cy="789.0" r="0.95" fill="#a0a0a0" fill-opacity="0.3"/>
<circle cx="150.6" cy="780.1" r="0.95" fill="#a0a0a0" fill-opacity="0.3"/>
<circle cx="151.7" cy="784.2" r="0.95" fill="#a0a0a0" fill-opacity="0.3"/>
<circle cx="143.9" cy="780.8" r="0.95" fill="#a0a0a0" fill-opacity="0.3"/>
<circle cx="148.1" cy="782.6" r="0.95" fill="#a0a0a0" fill-opacity="0.3"/>
<circle cx="149.3" cy="781.4" r="0.95" fill="#a0a0a0" fill-opacity="0.3"/>
<circle cx="149.4" cy="780.6" r="0.95" fill="#a0a0a0" fill-opacity="0.3"/>
<circle cx="146.1" cy="787.4" r="0.95" fill="#a0a0a0" fill-opacity="0.3"/>
<circle cx="149.9" cy="783.9" r="0.95" fill="#a0a0a0" fill-opacity="0.3"/>
<circle cx="144.0" cy="782.0" r="0.95" fill="#a0a0a0" fill-opacity="0.3"/>
<circle cx="151.3" cy="778.3" r="0.95" fill="#a0a0a0" fill-opacity="0.3"/>
<circle cx="152.2" cy="781.2" r="0.95" fill="#a0a0a0" fill-opacity="0.3"/>
<circle cx="150.1" cy="782.1" r="0.95" fill="#a0a0a0" fill-opacity="0.3"/>
<circle cx="149.5" cy="786.4" r="0.95" fill="#a0a0a0" fill-opacity="0.3"/>
<circle cx="147.6" cy="787.6" r="0.95" fill="#a0a0a0" fill-opacity="0.3"/>
<circle cx="146.5" cy="779.5" r="0.95" fill="#a0a0a0" fill-opacity="0.3"/>
<circle cx="151.0" cy="779.0" r="0.95" fill="#a0a0a0" fill-opacity="0.3"/>
<circle cx="147.7" cy="785.5" r="0.95" fill="#a0a0a0" fill-opacity="0.3"/>
<circle cx="152.5" cy="776.7" r="0.95" fill="#a0a0a0" fill-opacity="0.3"/>
<circle cx="150.4" cy="788.6" r="0.95" fill="#a0a0a0" fill-opacity="0.3"/>
<circle cx="152.5" cy="781.7" r="0.95" fill="#a0a0a0" fill-opacity="0.3"/>
<circle cx="147.0" cy="781.5" r="0.95" fill="#a0a0a0" fill-opacity="0.3"/>
<circle cx="145.4" cy="781.6" r="0.95" fill="#a0a0a0" fill-opacity="0.3"/>
<circle cx="148.3" cy="782.0" r="0.95" fill="#a0a0a0" fill-opacity="0.3"/>
<circle cx="152.4" cy="781.7" r="0.95" fill="#a0a0a0" fill-opacity="0.3"/>
<circle cx="144.4" cy="785.9" r="0.95" fill="#a0a0a0" fill-opacity="0.3"/>
<circle cx="145.6" cy="781.0" r="0.95" fill="#a0a0a0" fill-opacity="0.3"/>
<circle cx="148.4" cy="781.4" r="0.95" fill="#a0a0a0" fill-opacity="0.3"/>
<circle cx="145.8" cy="781.7" r="0.95" fill="#a0a0a0" fill-opacity="0.3"/>
<circle cx="155.5" cy="780.5" r="0.95" fill="#a0a0a0" fill-opacity="0.3"/>
<circle cx="148.4" cy="786.2" r="0.95" fill="#a0a0a0" fill-opacity="0.3"/>
<circle cx="151.1" cy="785.0" r="0.95" fill="#a0a0a0" fill-opacity="0.3"/>
<circle cx="151.5" cy="776.1" r="0.95" fill="#a0a0a0" fill-opacity="0.3"/>
<circle cx="146.2" cy="782.9" r="0.95" fill="#a0a0a0" fill-opacity="0.3"/>
<circle cx="150.4" cy="786.7" r="0.95" fill="#a0a0a0" fill-opacity="0.3"/>
<circle cx="150.3" cy="781.7" r="0.95" fill="#a0a0a0" fill-opacity="0.3"/>
<circle cx="149.0" cy="781.8" r="0.95" fill="#a0a0a0" fill-opacity="0.3"/>
<circle cx="149.6" cy="784.7" r="0.95" fill="#a0a0a0" fill-opacity="0.3"/>
<circle cx="147.8" cy="779.8" r="0.95" fill="#a0a0a0" fill-opacity="0.3"/>
<circle cx="146.3" cy="786.1" r="0.95" fill="#a0a0a0" fill-opacity="0.3"/>
<circle cx="152.7" cy="785.7" r="0.95" fill="#a0a0a0" fill-opacity="0.3"/>
<circle cx="151.5" cy="785.2" r="0.95" fill="#a0a0a0" fill-opacity="0.3"/>
<circle cx="148.8" cy="784.7" r="0.95" fill="#a0a0a0" fill-opacity="0.3"/>
<circle cx="145.7" cy="781.8" r="0.95" fill="#a0a0a0" fill-opacity="0.3"/>
<circle cx="146.6" cy="784.9" r="0.95" fill="#a0a0a0" fill-opacity="0.3"/>
<circle cx="147.1" cy="782.1" r="0.95" fill="#a0a0a0" fill-opacity="0.3"/>
<circle cx="150.1" cy="786.9" r="0.95" fill="#a0a0a0" fill-opacity="0.3"/>
<circle cx="146.5" cy="779.4" r="0.95" fill="#a0a0a0" fill-opacity="0.3"/>
<circle cx="151.3" cy="778.9" r="0.95" fill="#a0a0a0" fill-opacity="0.3"/>
<circle cx="150.2" cy="780.6" r="0.95" fill="#a0a0a0" fill-opacity="0.3"/>
<circle cx="148.5" cy="776.6" r="0.95" fill="#a0a0a0" fill-opacity="0.3"/>
<circle cx="151.0" cy="780.9" r="0.95" fill="#a0a0a0" fill-opacity="0.3"/>
<circle cx="146.1" cy="789.3" r="0.95" fill="#a0a0a0" fill-opacity="0.3"/>
<circle cx="151.0" cy="793.9" r="0.95" fill="#a0a0a0" fill-opacity="0.3"/>
<circle cx="150.1" cy="781.4" r="0.95" fill="#a0a0a0" fill-opacity="0.3"/>
<circle cx="149.2" cy="787.7" r="0.95" fill="#a0a0a0" fill-opacity="0.3"/>
<circle cx="148.8" cy="784.0" r="0.95" fill="#a0a0a0" fill-opacity="0.3"/>
<circle cx="150.4" cy="779.5" r="0.95" fill="#a0a0a0" fill-opacity="0.3"/>
<circle cx="149.2" cy="780.9" r="0.95" fill="#a0a0a0" fill-opacity="0.3"/>
<circle cx="145.1" cy="785.3" r="0.95" fill="#a0a0a0" fill-opacity="0.3"/>
<circle cx="150.9" cy="782.7" r="0.95" fill="#a0a0a0" fill-opacity="0.3"/>
<circle cx="146.1" cy="776.0" r="0.95" fill="#a0a0a0" fill-opacity="0.3"/>
<circle cx="150.3" cy="782.2" r="0.95" fill="#a0a0a0" fill-opacity="0.3"/>
<circle cx="143.7" cy="782.3" r="0.95" fill="#a0a0a0" fill-opacity="0.3"/>
<circle cx="144.2" cy="782.4" r="0.95" fill="#a0a0a0" fill-opacity="0.3"/>
<circle cx="149.3" cy="783.7" r="0.95" fill="#a0a0a0" fill-opacity="0.3"/>
<circle cx="149.5" cy="783.1" r="0.95" fill="#a0a0a0" fill-opacity="0.3"/>
<circle cx="145.4" cy="781.2" r="0.95" fill="#a0a0a0" fill-opacity="0.3"/>
<circle cx="147.3" cy="781.7" r="0.95" fill="#a0a0a0" fill-opacity="0.3"/>
<circle cx="149.7" cy="784.5" r="0.95" fill="#a0a0a0" fill-opacity="0.3"/>
<circle cx="153.8" cy="774.1" r="0.95" fill="#a0a0a0" fill-opacity="0.3"/>
<circle cx="150.1" cy="781.8" r="0.95" fill="#a0a0a0" fill-opacity="0.3"/>
<circle cx="155.8" cy="785.5" r="0.95" fill="#a0a0a0" fill-opacity="0.3"/>
<circle cx="143.8" cy="783.8" r="0.95" fill="#a0a0a0" fill-opacity="0.3"/>
<circle cx="147.3" cy="785.7" r="0.95" fill="#a0a0a0" fill-opacity="0.3"/>
<circle cx="145.7" cy="782.2" r="0.95" fill="#a0a0a0" fill-opacity="0.3"/>
<circle cx="148.5" cy="782.2" r="0.95" fill="#a0a0a0" fill-opacity="0.3"/>
<circle cx="147.1" cy="776.5" r="0.95" fill="#a0a0a0" fill-opacity="0.3"/>
<circle cx="150.3" cy="785.8" r="0.95" fill="#a0a0a0" fill-opacity="0.3"/>
<circle cx="148.6" cy="779.2" r="0.95" fill="#a0a0a0" fill-opacity="0.3"/>
<circle cx="149.5" cy="784.3" r="0.95" fill="#a0a0a0" fill-opacity="0.3"/>
<circle cx="148.3" cy="782.4" r="0.95" fill="#a0a0a0" fill-opacity="0.3"/>
<circle cx="153.1" cy="778.8" r="0.95" fill="#a0a0a0" fill-opacity="0.3"/>
<circle cx="147.2" cy="776.3" r="0.95" fill="#a0a0a0" fill-opacity="0.3"/>
<circle cx="146.7" cy="780.1" r="0.95" fill="#a0a0a0" fill-opacity="0.3"/>
<circle cx="145.9" cy="780.2" r="0.95" fill="#a0a0a0" fill-opacity="0.3"/>
<circle cx="154.3" cy="781.9" r="0.95" fill="#a0a0a0" fill-opacity="0.3"/>
<circle cx="148.5" cy="789.7" r="0.95" fill="#a0a0a0" fill-opacity="0.3"/>
<circle cx="148.7" cy="776.8" r="0.95" fill="#a0a0a0" fill-opacity="0.3"/>
<circle cx="150.1" cy="779.4" r="0.95" fill="#a0a0a0" fill-opacity="0.3"/>
<circle cx="153.8" cy="778.4" r="0.95" fill="#a0a0a0" fill-opacity="0.3"/>
<circle cx="147.1" cy="777.3" r="0.95" fill="#a0a0a0" fill-opacity="0.3"/>
<circle cx="149.2" cy="779.2" r="0.95" fill="#a0a0a0" fill-opacity="0.3"/>
<circle cx="148.7" cy="781.3" r="0.95" fill="#a0a0a0" fill-opacity="0.3"/>
<circle cx="147.0" cy="785.6" r="0.95" fill="#a0a0a0" fill-opacity="0.3"/>
<circle cx="151.7" cy="782.7" r="0.95" fill="#a0a0a0" fill-opacity="0.3"/>
<circle cx="146.1" cy="779.0" r="0.95" fill="#a0a0a0" fill-opacity="0.3"/>
<circle cx="149.7" cy="790.3" r="0.95" fill="#a0a0a0" fill-opacity="0.3"/>
<circle cx="147.5" cy="779.9" r="0.95" fill="#a0a0a0" fill-opacity="0.3"/>
<circle cx="146.7" cy="778.9" r="0.95" fill="#a0a0a0" fill-opacity="0.3"/>
<circle cx="145.9" cy="781.8" r="0.95" fill="#a0a0a0" fill-opacity="0.3"/>
<circle cx="153.2" cy="782.5" r="0.95" fill="#a0a0a0" fill-opacity="0.3"/>
<circle cx="147.3" cy="777.2" r="0.95" fill="#a0a0a0" fill-opacity="0.3"/>
<circle cx="149.5" cy="782.4" r="0.95" fill="#a0a0a0" fill-opacity="0.3"/>
<circle cx="145.1" cy="779.0" r="0.95" fill="#a0a0a0" fill-opacity="0.3"/>
<circle cx="148.7" cy="785.8" r="0.95" fill="#a0a0a0" fill-opacity="0.3"/>
<circle cx="150.8" cy="783.2" r="0.95" fill="#a0a0a0" fill-opacity="0.3"/>
<circle cx="147.9" cy="783.5" r="0.95" fill="#a0a0a0" fill-opacity="0.3"/>
<circle cx="148.8" cy="789.6" r="0.95" fill="#a0a0a0" fill-opacity="0.3"/>
<circle cx="145.4" cy="781.3" r="0.95" fill="#a0a0a0" fill-opacity="0.3"/>
<circle cx="152.7" cy="781.6" r="0.95" fill="#a0a0a0" fill-opacity="0.3"/>
<circle cx="153.2" cy="782.4" r="0.95" fill="#a0a0a0" fill-opacity="0.3"/>
<circle cx="149.3" cy="781.3" r="0.95" fill="#a0a0a0" fill-opacity="0.3"/>
<circle cx="144.7" cy="779.3" r="0.95" fill="#a0a0a0" fill-opacity="0.3"/>
<circle cx="155.6" cy="784.6" r="0.95" fill="#a0a0a0" fill-opacity="0.3"/>
<circle cx="150.7" cy="785.6" r="0.95" fill="#a0a0a0" fill-opacity="0.3"/>
<circle cx="150.6" cy="785.8" r="0.95" fill="#a0a0a0" fill-opacity="0.3"/>
<circle cx="148.0" cy="781.8" r="0.95" fill="#a0a0a0" fill-opacity="0.3"/>
<circle cx="151.8" cy="781.3" r="0.95" fill="#a0a0a0" fill-opacity="0.3"/>
<circle cx="144.8" cy="781.8" r="0.95" fill="#a0a0a0" fill-opacity="0.3"/>
<circle cx="147.2" cy="784.5" r="0.95" fill="#a0a0a0" fill-opacity="0.3"/>
<circle cx="146.7" cy="779.0" r="0.95" fill="#a0a0a0" fill-opacity="0.3"/>
<circle cx="147.8" cy="787.6" r="0.95" fill="#a0a0a0" fill-opacity="0.3"/>
<circle cx="148.7" cy="783.0" r="0.95" fill="#a0a0a0" fill-opacity="0.3"/>
<circle cx="148.9" cy="783.5" r="0.95" fill="#a0a0a0" fill-opacity="0.3"/>
<circle cx="151.7" cy="787.0" r="0.95" fill="#a0a0a0" fill-opacity="0.3"/>
<circle cx="143.9" cy="786.9" r="0.95" fill="#a0a0a0" fill-opacity="0.3"/>
<circle cx="148.8" cy="781.4" r="0.95" fill="#a0a0a0" fill-opacity="0.3"/>
<circle cx="156.1" cy="781.9" r="0.95" fill="#a0a0a0" fill-opacity="0.3"/>
<circle cx="154.8" cy="785.7" r="0.95" fill="#a0a0a0" fill-opacity="0.3"/>
<circle cx="145.7" cy="784.1" r="0.95" fill="#a0a0a0" fill-opacity="0.3"/>
<circle cx="151.1" cy="782.1" r="0.95" fill="#a0a0a0" fill-opacity="0.3"/>
<circle cx="141.8" cy="781.4" r="0.95" fill="#a0a0a0" fill-opacity="0.3"/>
<circle cx="148.3" cy="778.9" r="0.95" fill="#a0a0a0" fill-opacity="0.3"/>
<circle cx="154.4" cy="781.7" r="0.95" fill="#a0a0a0" fill-opacity="0.3"/>
<circle cx="147.7" cy="781.5" r="0.95" fill="#a0a0a0" fill-opacity="0.3"/>
<circle cx="146.5" cy="780.0" r="0.95" fill="#a0a0a0" fill-opacity="0.3"/>
<circle cx="149.1" cy="783.5" r="0.95" fill="#a0a0a0" fill-opacity="0.3"/>
<circle cx="147.3" cy="782.2" r="0.95" fill="#a0a0a0" fill-opacity="0.3"/>
<circle cx="144.6" cy="784.2" r="0.95" fill="#a0a0a0" fill-opacity="0.3"/>
<circle cx="146.6" cy="783.2" r="0.95" fill="#a0a0a0" fill-opacity="0.3"/>
<circle cx="146.1" cy="780.8" r="0.95" fill="#a0a0a0" fill-opacity="0.3"/>
<circle cx="149.5" cy="778.5" r="0.95" fill="#a0a0a0" fill-opacity="0.3"/>
<circle cx="156.3" cy="782.4" r="0.95" fill="#a0a0a0" fill-opacity="0.3"/>
<circle cx="148.6" cy="780.1" r="0.95" fill="#a0a0a0" fill-opacity="0.3"/>
<circle cx="153.7" cy="787.0" r="0.95" fill="#a0a0a0" fill-opacity="0.3"/>
<circle cx="149.8" cy="778.0" r="0.95" fill="#a0a0a0" fill-opacity="0.3"/>
<circle cx="149.8" cy="780.5" r="0.8" fill="#b0b0b0" fill-opacity="0.25"/>
<circle cx="171.4" cy="787.9" r="0.8" fill="#b0b0b0" fill-opacity="0.25"/>
<circle cx="174.7" cy="767.5" r="0.8" fill="#b0b0b0" fill-opacity="0.25"/>
<circle cx="138.1" cy="775.7" r="0.8" fill="#b0b0b0" fill-opacity="0.25"/>
<circle cx="141.5" cy="800.4" r="0.8" fill="#b0b0b0" fill-opacity="0.25"/>
<circle cx="218.4" cy="763.0" r="0.8" fill="#b0b0b0" fill-opacity="0.25"/>
<circle cx="132.9" cy="791.6" r="0.8" fill="#b0b0b0" fill-opacity="0.25"/>
<circle cx="155.8" cy="782.7" r="0.8" fill="#b0b0b0" fill-opacity="0.25"/>
<circle cx="178.9" cy="782.2" r="0.8" fill="#b0b0b0" fill-opacity="0.25"/>
<circle cx="133.6" cy="791.6" r="0.8" fill="#b0b0b0" fill-opacity="0.25"/>
<circle cx="133.9" cy="781.7" r="0.8" fill="#b0b0b0" fill-opacity="0.25"/>
<circle cx="179.9" cy="766.2" r="0.8" fill="#b0b0b0" fill-opacity="0.25"/>
<circle cx="151.0" cy="776.7" r="0.8" fill="#b0b0b0" fill-opacity="0.25"/>
<circle cx="148.4" cy="783.0" r="0.8" fill="#b0b0b0" fill-opacity="0.25"/>
<circle cx="196.3" cy="772.1" r="0.8" fill="#b0b0b0" fill-opacity="0.25"/>
<circle cx="135.0" cy="783.2" r="0.8" fill="#b0b0b0" fill-opacity="0.25"/>
<circle cx="206.6" cy="759.0" r="0.8" fill="#b0b0b0" fill-opacity="0.25"/>
<circle cx="139.3" cy="775.7" r="0.8" fill="#b0b0b0" fill-opacity="0.25"/>
<circle cx="155.8" cy="779.8" r="0.8" fill="#b0b0b0" fill-opacity="0.25"/>
<circle cx="150.6" cy="795.3" r="0.8" fill="#b0b0b0" fill-opacity="0.25"/>
<circle cx="183.0" cy="780.4" r="0.8" fill="#b0b0b0" fill-opacity="0.25"/>
<circle cx="169.4" cy="776.7" r="0.8" fill="#b0b0b0" fill-opacity="0.25"/>
<circle cx="196.5" cy="777.4" r="0.8" fill="#b0b0b0" fill-opacity="0.25"/>
<circle cx="150.6" cy="778.1" r="0.8" fill="#b0b0b0" fill-opacity="0.25"/>
<circle cx="134.2" cy="788.0" r="0.8" fill="#b0b0b0" fill-opacity="0.25"/>
<circle cx="133.8" cy="783.8" r="0.8" fill="#b0b0b0" fill-opacity="0.25"/>
<circle cx="171.3" cy="765.5" r="0.8" fill="#b0b0b0" fill-opacity="0.25"/>
<circle cx="144.9" cy="784.3" r="0.8" fill="#b0b0b0" fill-opacity="0.25"/>
<circle cx="201.1" cy="773.9" r="0.8" fill="#b0b0b0" fill-opacity="0.25"/>
<circle cx="184.2" cy="775.9" r="0.8" fill="#b0b0b0" fill-opacity="0.25"/>
<circle cx="133.8" cy="782.0" r="0.8" fill="#b0b0b0" fill-opacity="0.25"/>
<circle cx="188.7" cy="783.6" r="0.8" fill="#b0b0b0" fill-opacity="0.25"/>
<circle cx="143.8" cy="787.8" r="0.8" fill="#b0b0b0" fill-opacity="0.25"/>
<circle cx="193.5" cy="776.7" r="0.8" fill="#b0b0b0" fill-opacity="0.25"/>
<circle cx="150.4" cy="790.5" r="0.8" fill="#b0b0b0" fill-opacity="0.25"/>
<circle cx="171.9" cy="784.4" r="0.8" fill="#b0b0b0" fill-opacity="0.25"/>
<circle cx="225.6" cy="778.6" r="0.8" fill="#b0b0b0" fill-opacity="0.25"/>
<circle cx="157.1" cy="774.2" r="0.8" fill="#b0b0b0" fill-opacity="0.25"/>
<circle cx="205.6" cy="766.1" r="0.8" fill="#b0b0b0" fill-opacity="0.25"/>
<circle cx="153.4" cy="787.2" r="0.8" fill="#b0b0b0" fill-opacity="0.25"/>
<circle cx="228.5" cy="767.0" r="0.8" fill="#b0b0b0" fill-opacity="0.25"/>
<circle cx="150.0" cy="778.5" r="0.8" fill="#b0b0b0" fill-opacity="0.25"/>
<circle cx="150.3" cy="777.0" r="0.8" fill="#b0b0b0" fill-opacity="0.25"/>
<circle cx="152.3" cy="787.0" r="0.8" fill="#b0b0b0" fill-opacity="0.25"/>
<circle cx="138.3" cy="772.6" r="0.8" fill="#b0b0b0" fill-opacity="0.25"/>
<circle cx="168.4" cy="772.2" r="0.8" fill="#b0b0b0" fill-opacity="0.25"/>
<circle cx="211.1" cy="762.6" r="0.8" fill="#b0b0b0" fill-opacity="0.25"/>
<circle cx="198.5" cy="768.2" r="0.8" fill="#b0b0b0" fill-opacity="0.25"/>
<circle cx="218.8" cy="764.7" r="0.8" fill="#b0b0b0" fill-opacity="0.25"/>
<circle cx="165.5" cy="779.7" r="0.8" fill="#b0b0b0" fill-opacity="0.25"/>
<circle cx="168.8" cy="759.7" r="0.8" fill="#b0b0b0" fill-opacity="0.25"/>
<circle cx="182.7" cy="766.0" r="0.8" fill="#b0b0b0" fill-opacity="0.25"/>
<circle cx="205.8" cy="776.8" r="0.8" fill="#b0b0b0" fill-opacity="0.25"/>
<circle cx="203.2" cy="772.5" r="0.8" fill="#b0b0b0" fill-opacity="0.25"/>
<circle cx="133.9" cy="796.5" r="0.8" fill="#b0b0b0" fill-opacity="0.25"/>
<circle cx="222.0" cy="770.1" r="0.8" fill="#b0b0b0" fill-opacity="0.25"/>
<circle cx="133.9" cy="783.2" r="0.8" fill="#b0b0b0" fill-opacity="0.25"/>
<circle cx="196.5" cy="767.4" r="0.8" fill="#b0b0b0" fill-opacity="0.25"/>
<circle cx="182.3" cy="774.1" r="0.8" fill="#b0b0b0" fill-opacity="0.25"/>
<circle cx="199.5" cy="775.0" r="0.8" fill="#b0b0b0" fill-opacity="0.25"/>
<circle cx="166.2" cy="778.6" r="0.8" fill="#b0b0b0" fill-opacity="0.25"/>
<circle cx="148.0" cy="775.1" r="0.8" fill="#b0b0b0" fill-opacity="0.25"/>
<circle cx="234.8" cy="757.0" r="0.8" fill="#b0b0b0" fill-opacity="0.25"/>
<circle cx="168.0" cy="769.9" r="0.8" fill="#b0b0b0" fill-opacity="0.25"/>
<circle cx="192.7" cy="767.1" r="0.8" fill="#b0b0b0" fill-opacity="0.25"/>
<circle cx="154.4" cy="765.0" r="0.8" fill="#b0b0b0" fill-opacity="0.25"/>
<circle cx="209.4" cy="760.0" r="0.8" fill="#b0b0b0" fill-opacity="0.25"/>
<circle cx="206.1" cy="755.5" r="0.8" fill="#b0b0b0" fill-opacity="0.25"/>
<circle cx="210.7" cy="781.3" r="0.8" fill="#b0b0b0" fill-opacity="0.25"/>
<circle cx="181.1" cy="762.3" r="0.8" fill="#b0b0b0" fill-opacity="0.25"/>
<circle cx="166.4" cy="774.6" r="0.8" fill="#b0b0b0" fill-opacity="0.25"/>
<circle cx="155.5" cy="767.7" r="0.8" fill="#b0b0b0" fill-opacity="0.25"/>
<circle cx="155.4" cy="788.0" r="0.8" fill="#b0b0b0" fill-opacity="0.25"/>
<circle cx="239.2" cy="769.7" r="0.8" fill="#b0b0b0" fill-opacity="0.25"/>
<circle cx="151.2" cy="784.1" r="0.8" fill="#b0b0b0" fill-opacity="0.25"/>
<circle cx="155.8" cy="784.9" r="0.8" fill="#b0b0b0" fill-opacity="0.25"/>
<circle cx="144.4" cy="785.9" r="0.8" fill="#b0b0b0" fill-opacity="0.25"/>
<circle cx="145.6" cy="782.5" r="0.8" fill="#b0b0b0" fill-opacity="0.25"/>
<circle cx="134.8" cy="778.0" r="0.8" fill="#b0b0b0" fill-opacity="0.25"/>
<circle cx="137.5" cy="774.7" r="0.8" fill="#b0b0b0" fill-opacity="0.25"/>
<circle cx="133.3" cy="776.6" r="0.8" fill="#b0b0b0" fill-opacity="0.25"/>
<circle cx="223.9" cy="766.3" r="0.8" fill="#b0b0b0" fill-opacity="0.25"/>
<circle cx="132.9" cy="789.8" r="0.8" fill="#b0b0b0" fill-opacity="0.25"/>
<circle cx="139.6" cy="787.5" r="0.8" fill="#b0b0b0" fill-opacity="0.25"/>
<circle cx="140.6" cy="782.2" r="0.8" fill="#b0b0b0" fill-opacity="0.25"/>
<circle cx="139.9" cy="774.7" r="0.8" fill="#b0b0b0" fill-opacity="0.25"/>
<circle cx="137.8" cy="784.1" r="0.8" fill="#b0b0b0" fill-opacity="0.25"/>
<circle cx="198.3" cy="774.5" r="0.8" fill="#b0b0b0" fill-opacity="0.25"/>
<circle cx="145.9" cy="769.9" r="0.8" fill="#b0b0b0" fill-opacity="0.25"/>
<circle cx="161.5" cy="775.0" r="0.8" fill="#b0b0b0" fill-opacity="0.25"/>
<circle cx="142.2" cy="796.3" r="0.8" fill="#b0b0b0" fill-opacity="0.25"/>
<circle cx="148.3" cy="771.7" r="0.8" fill="#b0b0b0" fill-opacity="0.25"/>
<circle cx="169.2" cy="785.4" r="0.8" fill="#b0b0b0" fill-opacity="0.25"/>
<circle cx="139.8" cy="782.2" r="0.8" fill="#b0b0b0" fill-opacity="0.25"/>
<circle cx="133.1" cy="798.7" r="0.8" fill="#b0b0b0" fill-opacity="0.25"/>
<circle cx="152.0" cy="777.1" r="0.8" fill="#b0b0b0" fill-opacity="0.25"/>
<circle cx="166.9" cy="771.9" r="0.8" fill="#b0b0b0" fill-opacity="0.25"/>
<circle cx="239.0" cy="759.4" r="0.8" fill="#b0b0b0" fill-opacity="0.25"/>
<circle cx="183.5" cy="773.8" r="0.8" fill="#b0b0b0" fill-opacity="0.25"/>
<circle cx="160.7" cy="780.4" r="0.8" fill="#b0b0b0" fill-opacity="0.25"/>
<circle cx="150.8" cy="785.1" r="0.8" fill="#b0b0b0" fill-opacity="0.25"/>
<circle cx="176.6" cy="764.2" r="0.8" fill="#b0b0b0" fill-opacity="0.25"/>
<circle cx="136.5" cy="788.9" r="0.8" fill="#b0b0b0" fill-opacity="0.25"/>
<circle cx="142.2" cy="789.3" r="0.8" fill="#b0b0b0" fill-opacity="0.25"/>
<circle cx="216.8" cy="755.0" r="0.8" fill="#b0b0b0" fill-opacity="0.25"/>
<circle cx="239.6" cy="758.8" r="0.8" fill="#b0b0b0" fill-opacity="0.25"/>
<circle cx="142.6" cy="779.6" r="0.8" fill="#b0b0b0" fill-opacity="0.25"/>
<circle cx="200.3" cy="768.6" r="0.8" fill="#b0b0b0" fill-opacity="0.25"/>
<circle cx="132.6" cy="792.5" r="0.8" fill="#b0b0b0" fill-opacity="0.25"/>
<circle cx="208.7" cy="754.6" r="0.8" fill="#b0b0b0" fill-opacity="0.25"/>
<circle cx="133.8" cy="784.5" r="0.8" fill="#b0b0b0" fill-opacity="0.25"/>
<circle cx="134.2" cy="797.5" r="0.8" fill="#b0b0b0" fill-opacity="0.25"/>
<circle cx="161.5" cy="761.0" r="0.8" fill="#b0b0b0" fill-opacity="0.25"/>
<circle cx="174.1" cy="779.6" r="0.8" fill="#b0b0b0" fill-opacity="0.25"/>
<circle cx="214.7" cy="761.7" r="0.8" fill="#b0b0b0" fill-opacity="0.25"/>
<circle cx="155.0" cy="793.1" r="0.8" fill="#b0b0b0" fill-opacity="0.25"/>
<circle cx="225.2" cy="775.1" r="0.8" fill="#b0b0b0" fill-opacity="0.25"/>
<circle cx="139.0" cy="792.1" r="0.8" fill="#b0b0b0" fill-opacity="0.25"/>
<circle cx="168.7" cy="773.0" r="0.8" fill="#b0b0b0" fill-opacity="0.25"/>
<circle cx="210.4" cy="766.4" r="0.8" fill="#b0b0b0" fill-opacity="0.25"/>
<circle cx="145.9" cy="781.9" r="0.8" fill="#b0b0b0" fill-opacity="0.25"/>
<circle cx="145.4" cy="785.8" r="0.8" fill="#b0b0b0" fill-opacity="0.25"/>
<circle cx="160.1" cy="777.9" r="0.8" fill="#b0b0b0" fill-opacity="0.25"/>
<circle cx="187.7" cy="765.8" r="0.8" fill="#b0b0b0" fill-opacity="0.25"/>
<circle cx="134.5" cy="779.3" r="0.8" fill="#b0b0b0" fill-opacity="0.25"/>
<circle cx="234.5" cy="766.2" r="0.8" fill="#b0b0b0" fill-opacity="0.25"/>
<circle cx="210.0" cy="766.5" r="0.8" fill="#b0b0b0" fill-opacity="0.25"/>
<circle cx="151.3" cy="780.7" r="0.8" fill="#b0b0b0" fill-opacity="0.25"/>
<circle cx="191.1" cy="772.6" r="0.8" fill="#b0b0b0" fill-opacity="0.25"/>
<circle cx="159.2" cy="789.2" r="0.8" fill="#b0b0b0" fill-opacity="0.25"/>
<circle cx="132.6" cy="799.5" r="0.8" fill="#b0b0b0" fill-opacity="0.25"/>
<circle cx="139.0" cy="784.0" r="0.8" fill="#b0b0b0" fill-opacity="0.25"/>
<circle cx="177.9" cy="773.3" r="0.8" fill="#b0b0b0" fill-opacity="0.25"/>
<circle cx="168.3" cy="784.4" r="0.8" fill="#b0b0b0" fill-opacity="0.25"/>
<circle cx="144.9" cy="779.3" r="0.8" fill="#b0b0b0" fill-opacity="0.25"/>
<circle cx="184.8" cy="779.7" r="0.8" fill="#b0b0b0" fill-opacity="0.25"/>
<circle cx="142.0" cy="787.6" r="0.8" fill="#b0b0b0" fill-opacity="0.25"/>
<circle cx="147.3" cy="794.0" r="0.8" fill="#b0b0b0" fill-opacity="0.25"/>
<circle cx="230.4" cy="751.2" r="0.8" fill="#b0b0b0" fill-opacity="0.25"/>
<circle cx="147.5" cy="778.0" r="0.8" fill="#b0b0b0" fill-opacity="0.25"/>
<line x1="149.20" y1="783.00" x2="290.80" y2="728.60" stroke="#7d7d7d" stroke-width="1.1" stroke-dasharray="4,2.6"/>
<text x="200.00" y="770.80" font-size="7.70" fill="#231f20">ρ = 0.7, </text>
<text x="228.14" y="770.8" font-size="7.7" fill="#231f20"><tspan font-style="italic">P</tspan> &lt; 2E−82</text>
<circle cx="277.80" cy="690.00" r="0.70" fill="#333"/>
<text x="269.30" y="695.30" font-size="4.25" fill="#7474c4">TBX21</text>
<circle cx="227.00" cy="706.70" r="0.70" fill="#333"/>
<text x="219.60" y="711.60" font-size="4.25" fill="#7474c4">RUNX3</text>
<circle cx="235.00" cy="721.50" r="0.70" fill="#333"/>
<text x="227.70" y="726.40" font-size="4.25" fill="#7474c4">FOXP3</text>
<circle cx="244.00" cy="727.50" r="0.70" fill="#333"/>
<text x="237.00" y="732.30" font-size="4.25" fill="#7474c4">STAT4</text>
<circle cx="212.00" cy="725.00" r="0.70" fill="#333"/>
<text x="204.80" y="729.80" font-size="4.25" fill="#7474c4">BATF3</text>
<circle cx="206.00" cy="735.00" r="0.70" fill="#333"/>
<text x="192.00" y="736.10" font-size="4.25" fill="#7474c4">GATA3</text>
<circle cx="232.00" cy="738.50" r="0.70" fill="#333"/>
<text x="221.70" y="737.60" font-size="4.25" fill="#7474c4">POU2F2</text>
<circle cx="252.00" cy="733.50" r="0.70" fill="#333"/>
<text x="244.00" y="738.30" font-size="4.25" fill="#7474c4">IRF8</text>
<circle cx="215.00" cy="741.00" r="0.70" fill="#333"/>
<text x="209.00" y="740.40" font-size="4.25" fill="#7474c4">IRF1</text>
<circle cx="206.00" cy="745.50" r="0.70" fill="#333"/>
<text x="201.60" y="745.10" font-size="4.25" fill="#7474c4">LTL1</text>
<circle cx="219.00" cy="746.00" r="0.70" fill="#333"/>
<text x="220.70" y="746.10" font-size="4.25" fill="#7474c4">FLI1</text>
<circle cx="240.00" cy="744.50" r="0.70" fill="#333"/>
<text x="235.50" y="744.00" font-size="4.25" fill="#7474c4">BATF</text>
<circle cx="255.00" cy="744.00" r="0.70" fill="#333"/>
<text x="248.80" y="744.00" font-size="4.25" fill="#7474c4">CIITA</text>
<circle cx="270.00" cy="737.50" r="0.70" fill="#333"/>
<text x="263.00" y="741.10" font-size="4.25" fill="#7474c4">IKZF1</text>
<circle cx="283.00" cy="733.50" r="0.70" fill="#333"/>
<text x="275.70" y="735.50" font-size="4.25" fill="#7474c4">IRF4</text>
<circle cx="292.00" cy="740.50" r="0.70" fill="#333"/>
<text x="282.00" y="741.90" font-size="4.25" fill="#7474c4">SPIB</text>
<circle cx="290.00" cy="746.50" r="0.70" fill="#333"/>
<text x="284.80" y="751.40" font-size="4.25" fill="#7474c4">PAX5</text>
<circle cx="196.00" cy="748.00" r="0.70" fill="#333"/>
<text x="198.50" y="753.10" font-size="4.25" fill="#7474c4">STAT1</text>
<circle cx="214.00" cy="748.00" r="0.70" fill="#333"/>
<text x="212.20" y="753.10" font-size="4.25" fill="#7474c4">PRDM1</text>
<circle cx="188.00" cy="738.50" r="0.70" fill="#333"/>
<text x="178.50" y="739.10" font-size="4.25" fill="#7474c4">STAT5A</text>
<circle cx="194.00" cy="743.00" r="0.70" fill="#333"/>
<text x="184.60" y="745.10" font-size="4.25" fill="#7474c4">TCF7</text>
<circle cx="193.00" cy="749.00" r="0.70" fill="#333"/>
<text x="183.00" y="753.90" font-size="4.25" fill="#7474c4">ABCL3</text>
<text x="117.00" y="793.50" font-size="4.50" fill="#dd6a40">RAC1</text>
<text x="128.50" y="796.20" font-size="4.50" fill="#dd6a40">CDK2</text>
<text x="125.00" y="800.20" font-size="4.50" fill="#dd6a40">ESRRA</text>
<text x="148.00" y="795.20" font-size="4.50" fill="#dd6a40">STAG2</text>
<text x="150.00" y="798.90" font-size="4.50" fill="#dd6a40">UBE2I</text>
<text x="136.50" y="804.20" font-size="4.50" fill="#dd6a40">GRHL1</text>
<text x="148.60" y="802.20" font-size="4.50" fill="#dd6a40">FOXO3</text>
<text x="148.60" y="807.60" font-size="4.50" fill="#dd6a40">SUMO2</text>
<text x="135.90" y="810.20" font-size="4.50" fill="#dd6a40">SUMO1</text>
<path d="M126,796 L146,794 M138,792 L150,806 M128,800 L152,795" fill="none" stroke="#b0402a" stroke-width="0.5"/>
<rect x="114.9" y="685.1" width="188.5" height="130" fill="none" stroke="#5a5a5a" stroke-width="0.9"/>
<line x1="129.00" y1="683.00" x2="129.00" y2="685.10" stroke="#5a5a5a" stroke-width="0.7"/>
<text x="129.00" y="681.80" font-size="7.50" text-anchor="middle" fill="#231f20">−0.5</text>
<line x1="165.10" y1="683.00" x2="165.10" y2="685.10" stroke="#5a5a5a" stroke-width="0.7"/>
<text x="165.10" y="681.80" font-size="7.50" text-anchor="middle" fill="#231f20">0.0</text>
<line x1="201.20" y1="683.00" x2="201.20" y2="685.10" stroke="#5a5a5a" stroke-width="0.7"/>
<text x="201.20" y="681.80" font-size="7.50" text-anchor="middle" fill="#231f20">0.5</text>
<line x1="237.30" y1="683.00" x2="237.30" y2="685.10" stroke="#5a5a5a" stroke-width="0.7"/>
<text x="237.30" y="681.80" font-size="7.50" text-anchor="middle" fill="#231f20">1.0</text>
<line x1="273.40" y1="683.00" x2="273.40" y2="685.10" stroke="#5a5a5a" stroke-width="0.7"/>
<text x="273.40" y="681.80" font-size="7.50" text-anchor="middle" fill="#231f20">1.5</text>
<text x="209.00" y="671.61" font-size="7.55" text-anchor="middle" fill="#231f20">Association with proinflammatory signatures</text>
<line x1="112.80" y1="714.30" x2="114.90" y2="714.30" stroke="#5a5a5a" stroke-width="0.7"/>
<text x="112.00" y="717.00" font-size="7.50" text-anchor="end" fill="#231f20">−0.4</text>
<line x1="112.80" y1="743.95" x2="114.90" y2="743.95" stroke="#5a5a5a" stroke-width="0.7"/>
<text x="112.00" y="746.65" font-size="7.50" text-anchor="end" fill="#231f20">−0.2</text>
<line x1="112.80" y1="773.60" x2="114.90" y2="773.60" stroke="#5a5a5a" stroke-width="0.7"/>
<text x="112.00" y="776.30" font-size="7.50" text-anchor="end" fill="#231f20">0.0</text>
<line x1="112.80" y1="803.25" x2="114.90" y2="803.25" stroke="#5a5a5a" stroke-width="0.7"/>
<text x="112.00" y="805.95" font-size="7.50" text-anchor="end" fill="#231f20">0.2</text>
<g transform="translate(96.2,749) rotate(-90)"><text x="0" y="2.6" font-size="7.35" text-anchor="middle" fill="#231f20">Differential activity in cancer cells</text></g>
<g transform="translate(119.8,711.4) rotate(-90)"><text x="0" y="2.3" font-size="6.6" text-anchor="middle" fill="#231f20">Expressed in</text></g>
<g transform="translate(126.2,711.4) rotate(-90)"><text x="0" y="2.3" font-size="6.6" text-anchor="middle" fill="#231f20">CD8<tspan font-size="4.4" dy="-2">+</tspan><tspan dy="2"> T cells</tspan></text></g>
<g transform="translate(119.8,764.3) rotate(-90)"><text x="0" y="2.3" font-size="6.6" text-anchor="middle" fill="#231f20">Expressed in</text></g>
<g transform="translate(126.2,764.3) rotate(-90)"><text x="0" y="2.3" font-size="6.6" text-anchor="middle" fill="#231f20">cancer cells</text></g>
<path d="M134.4,722.9 L134.4,708" fill="none" stroke="#000" stroke-width="1.5"/>
<path d="M131.3,709.5 L134.4,702.6 L137.5,709.5 Z" fill="#000" stroke="none" stroke-width="1"/>
<path d="M134.4,754.3 L134.4,768.5" fill="none" stroke="#000" stroke-width="1.5"/>
<path d="M131.3,767.5 L134.4,774.4 L137.5,767.5 Z" fill="#000" stroke="none" stroke-width="1"/>
<path d="M197.8,803.9 L179,803.9" fill="none" stroke="#000" stroke-width="1.5"/>
<path d="M180,800.8 L172.8,803.9 L180,807 Z" fill="#000" stroke="none" stroke-width="1"/>
<path d="M258.8,803.7 L272.5,803.7" fill="none" stroke="#000" stroke-width="1.5"/>
<path d="M271.5,800.6 L279,803.7 L271.5,806.8 Z" fill="#000" stroke="none" stroke-width="1"/>
<text x="162.50" y="813.17" font-size="7.64" fill="#231f20">Immunosuppressive</text>
<text x="238.40" y="812.90" font-size="7.40" fill="#231f20">Immunostimulatory</text>
<text x="307.20" y="518.80" font-size="10.50" font-weight="bold" fill="#000">G</text>
<circle cx="362.0" cy="628.1" r="1.05" fill="#a8a8a8" fill-opacity="0.6"/>
<circle cx="373.0" cy="591.8" r="1.05" fill="#a8a8a8" fill-opacity="0.6"/>
<circle cx="374.2" cy="610.8" r="1.05" fill="#a8a8a8" fill-opacity="0.6"/>
<circle cx="369.6" cy="604.9" r="1.05" fill="#a8a8a8" fill-opacity="0.6"/>
<circle cx="364.1" cy="593.3" r="1.05" fill="#a8a8a8" fill-opacity="0.6"/>
<circle cx="361.6" cy="606.8" r="1.05" fill="#a8a8a8" fill-opacity="0.6"/>
<circle cx="371.1" cy="595.7" r="1.05" fill="#a8a8a8" fill-opacity="0.6"/>
<circle cx="365.7" cy="538.4" r="1.05" fill="#a8a8a8" fill-opacity="0.6"/>
<circle cx="368.0" cy="613.0" r="1.05" fill="#a8a8a8" fill-opacity="0.6"/>
<circle cx="368.5" cy="611.3" r="1.05" fill="#a8a8a8" fill-opacity="0.6"/>
<circle cx="365.8" cy="606.6" r="1.05" fill="#a8a8a8" fill-opacity="0.6"/>
<circle cx="377.5" cy="596.6" r="1.05" fill="#a8a8a8" fill-opacity="0.6"/>
<circle cx="368.5" cy="579.1" r="1.05" fill="#a8a8a8" fill-opacity="0.6"/>
<circle cx="377.4" cy="603.2" r="1.05" fill="#a8a8a8" fill-opacity="0.6"/>
<circle cx="364.7" cy="530.7" r="1.05" fill="#a8a8a8" fill-opacity="0.6"/>
<circle cx="360.6" cy="607.1" r="1.05" fill="#a8a8a8" fill-opacity="0.6"/>
<circle cx="370.9" cy="535.8" r="1.05" fill="#a8a8a8" fill-opacity="0.6"/>
<circle cx="370.9" cy="611.2" r="1.05" fill="#a8a8a8" fill-opacity="0.6"/>
<circle cx="365.8" cy="584.8" r="1.05" fill="#a8a8a8" fill-opacity="0.6"/>
<circle cx="368.8" cy="589.4" r="1.05" fill="#a8a8a8" fill-opacity="0.6"/>
<circle cx="365.6" cy="562.6" r="1.05" fill="#a8a8a8" fill-opacity="0.6"/>
<circle cx="375.0" cy="596.4" r="1.05" fill="#a8a8a8" fill-opacity="0.6"/>
<circle cx="365.5" cy="577.5" r="1.05" fill="#a8a8a8" fill-opacity="0.6"/>
<circle cx="370.0" cy="625.2" r="1.05" fill="#a8a8a8" fill-opacity="0.6"/>
<circle cx="365.5" cy="569.0" r="1.05" fill="#a8a8a8" fill-opacity="0.6"/>
<circle cx="367.2" cy="606.1" r="1.05" fill="#a8a8a8" fill-opacity="0.6"/>
<circle cx="368.7" cy="598.1" r="1.05" fill="#a8a8a8" fill-opacity="0.6"/>
<circle cx="367.7" cy="649.1" r="1.05" fill="#a8a8a8" fill-opacity="0.6"/>
<circle cx="376.1" cy="591.9" r="1.05" fill="#a8a8a8" fill-opacity="0.6"/>
<circle cx="363.5" cy="570.9" r="1.05" fill="#a8a8a8" fill-opacity="0.6"/>
<circle cx="369.2" cy="596.7" r="1.05" fill="#a8a8a8" fill-opacity="0.6"/>
<circle cx="372.8" cy="536.4" r="1.05" fill="#a8a8a8" fill-opacity="0.6"/>
<circle cx="370.4" cy="554.6" r="1.05" fill="#a8a8a8" fill-opacity="0.6"/>
<circle cx="378.1" cy="624.7" r="1.05" fill="#a8a8a8" fill-opacity="0.6"/>
<circle cx="365.2" cy="576.4" r="1.05" fill="#a8a8a8" fill-opacity="0.6"/>
<circle cx="359.4" cy="604.4" r="1.05" fill="#a8a8a8" fill-opacity="0.6"/>
<circle cx="373.9" cy="569.2" r="1.05" fill="#a8a8a8" fill-opacity="0.6"/>
<circle cx="370.5" cy="648.2" r="1.05" fill="#a8a8a8" fill-opacity="0.6"/>
<circle cx="379.0" cy="582.4" r="1.05" fill="#a8a8a8" fill-opacity="0.6"/>
<circle cx="371.4" cy="583.9" r="1.05" fill="#a8a8a8" fill-opacity="0.6"/>
<circle cx="359.4" cy="635.8" r="1.05" fill="#a8a8a8" fill-opacity="0.6"/>
<circle cx="361.8" cy="545.7" r="1.05" fill="#a8a8a8" fill-opacity="0.6"/>
<circle cx="363.7" cy="603.7" r="1.05" fill="#a8a8a8" fill-opacity="0.6"/>
<circle cx="366.5" cy="581.9" r="1.05" fill="#a8a8a8" fill-opacity="0.6"/>
<circle cx="370.1" cy="590.0" r="1.05" fill="#a8a8a8" fill-opacity="0.6"/>
<circle cx="368.5" cy="590.0" r="1.05" fill="#a8a8a8" fill-opacity="0.6"/>
<circle cx="373.6" cy="600.0" r="1.05" fill="#a8a8a8" fill-opacity="0.6"/>
<circle cx="364.7" cy="586.2" r="1.05" fill="#a8a8a8" fill-opacity="0.6"/>
<circle cx="360.2" cy="625.2" r="1.05" fill="#a8a8a8" fill-opacity="0.6"/>
<circle cx="362.8" cy="589.5" r="1.05" fill="#a8a8a8" fill-opacity="0.6"/>
<circle cx="377.8" cy="576.7" r="1.05" fill="#a8a8a8" fill-opacity="0.6"/>
<circle cx="373.2" cy="590.8" r="1.05" fill="#a8a8a8" fill-opacity="0.6"/>
<circle cx="369.0" cy="609.3" r="1.05" fill="#a8a8a8" fill-opacity="0.6"/>
<circle cx="361.9" cy="631.8" r="1.05" fill="#a8a8a8" fill-opacity="0.6"/>
<circle cx="371.7" cy="579.4" r="1.05" fill="#a8a8a8" fill-opacity="0.6"/>
<circle cx="373.2" cy="555.4" r="1.05" fill="#a8a8a8" fill-opacity="0.6"/>
<circle cx="366.2" cy="568.8" r="1.05" fill="#a8a8a8" fill-opacity="0.6"/>
<circle cx="377.1" cy="597.5" r="1.05" fill="#a8a8a8" fill-opacity="0.6"/>
<circle cx="372.9" cy="601.7" r="1.05" fill="#a8a8a8" fill-opacity="0.6"/>
<circle cx="359.9" cy="594.0" r="1.05" fill="#a8a8a8" fill-opacity="0.6"/>
<circle cx="363.7" cy="594.3" r="1.05" fill="#a8a8a8" fill-opacity="0.6"/>
<circle cx="365.5" cy="588.6" r="1.05" fill="#a8a8a8" fill-opacity="0.6"/>
<circle cx="357.4" cy="541.2" r="1.05" fill="#a8a8a8" fill-opacity="0.6"/>
<circle cx="374.3" cy="606.6" r="1.05" fill="#a8a8a8" fill-opacity="0.6"/>
<circle cx="363.3" cy="597.1" r="1.05" fill="#a8a8a8" fill-opacity="0.6"/>
<circle cx="371.0" cy="585.8" r="1.05" fill="#a8a8a8" fill-opacity="0.6"/>
<circle cx="369.6" cy="650.2" r="1.05" fill="#a8a8a8" fill-opacity="0.6"/>
<circle cx="362.2" cy="561.1" r="1.05" fill="#a8a8a8" fill-opacity="0.6"/>
<circle cx="368.8" cy="638.1" r="1.05" fill="#a8a8a8" fill-opacity="0.6"/>
<circle cx="363.5" cy="636.1" r="1.05" fill="#a8a8a8" fill-opacity="0.6"/>
<circle cx="362.8" cy="565.5" r="1.05" fill="#a8a8a8" fill-opacity="0.6"/>
<circle cx="366.6" cy="566.8" r="1.05" fill="#a8a8a8" fill-opacity="0.6"/>
<circle cx="368.6" cy="638.1" r="1.05" fill="#a8a8a8" fill-opacity="0.6"/>
<circle cx="364.5" cy="534.8" r="1.05" fill="#a8a8a8" fill-opacity="0.6"/>
<circle cx="363.9" cy="625.8" r="1.05" fill="#a8a8a8" fill-opacity="0.6"/>
<circle cx="373.8" cy="594.8" r="1.05" fill="#a8a8a8" fill-opacity="0.6"/>
<circle cx="367.7" cy="557.1" r="1.05" fill="#a8a8a8" fill-opacity="0.6"/>
<circle cx="359.0" cy="585.8" r="1.05" fill="#a8a8a8" fill-opacity="0.6"/>
<circle cx="362.5" cy="635.6" r="1.05" fill="#a8a8a8" fill-opacity="0.6"/>
<circle cx="363.7" cy="565.7" r="1.05" fill="#a8a8a8" fill-opacity="0.6"/>
<circle cx="367.0" cy="647.5" r="1.05" fill="#a8a8a8" fill-opacity="0.6"/>
<circle cx="362.2" cy="555.4" r="1.05" fill="#a8a8a8" fill-opacity="0.6"/>
<circle cx="372.7" cy="627.2" r="1.05" fill="#a8a8a8" fill-opacity="0.6"/>
<circle cx="379.7" cy="607.3" r="1.05" fill="#a8a8a8" fill-opacity="0.6"/>
<circle cx="361.8" cy="601.0" r="1.05" fill="#a8a8a8" fill-opacity="0.6"/>
<circle cx="372.3" cy="553.0" r="1.05" fill="#a8a8a8" fill-opacity="0.6"/>
<circle cx="372.8" cy="609.0" r="1.05" fill="#a8a8a8" fill-opacity="0.6"/>
<circle cx="364.9" cy="637.2" r="1.05" fill="#a8a8a8" fill-opacity="0.6"/>
<circle cx="367.3" cy="613.6" r="1.05" fill="#a8a8a8" fill-opacity="0.6"/>
<circle cx="368.9" cy="632.0" r="1.05" fill="#a8a8a8" fill-opacity="0.6"/>
<circle cx="365.1" cy="621.4" r="1.05" fill="#a8a8a8" fill-opacity="0.6"/>
<circle cx="361.7" cy="629.8" r="1.05" fill="#a8a8a8" fill-opacity="0.6"/>
<circle cx="362.7" cy="629.7" r="1.05" fill="#a8a8a8" fill-opacity="0.6"/>
<circle cx="370.5" cy="594.5" r="1.05" fill="#a8a8a8" fill-opacity="0.6"/>
<circle cx="361.2" cy="583.1" r="1.05" fill="#a8a8a8" fill-opacity="0.6"/>
<circle cx="369.1" cy="557.1" r="1.05" fill="#a8a8a8" fill-opacity="0.6"/>
<circle cx="366.7" cy="603.0" r="1.05" fill="#a8a8a8" fill-opacity="0.6"/>
<circle cx="364.3" cy="593.8" r="1.05" fill="#a8a8a8" fill-opacity="0.6"/>
<circle cx="370.1" cy="592.4" r="1.05" fill="#a8a8a8" fill-opacity="0.6"/>
<circle cx="366.4" cy="581.7" r="1.05" fill="#a8a8a8" fill-opacity="0.6"/>
<circle cx="368.1" cy="590.4" r="1.05" fill="#a8a8a8" fill-opacity="0.6"/>
<circle cx="363.1" cy="591.5" r="1.05" fill="#a8a8a8" fill-opacity="0.6"/>
<circle cx="362.8" cy="620.4" r="1.05" fill="#a8a8a8" fill-opacity="0.6"/>
<circle cx="368.5" cy="539.3" r="1.05" fill="#a8a8a8" fill-opacity="0.6"/>
<circle cx="372.6" cy="597.1" r="1.05" fill="#a8a8a8" fill-opacity="0.6"/>
<circle cx="366.8" cy="570.0" r="1.05" fill="#a8a8a8" fill-opacity="0.6"/>
<circle cx="374.5" cy="563.7" r="1.05" fill="#a8a8a8" fill-opacity="0.6"/>
<circle cx="366.8" cy="592.0" r="1.05" fill="#a8a8a8" fill-opacity="0.6"/>
<circle cx="366.1" cy="605.1" r="1.05" fill="#a8a8a8" fill-opacity="0.6"/>
<circle cx="363.5" cy="604.1" r="1.05" fill="#a8a8a8" fill-opacity="0.6"/>
<circle cx="357.0" cy="630.2" r="1.05" fill="#a8a8a8" fill-opacity="0.6"/>
<circle cx="369.8" cy="622.7" r="1.05" fill="#a8a8a8" fill-opacity="0.6"/>
<circle cx="370.4" cy="632.8" r="1.05" fill="#a8a8a8" fill-opacity="0.6"/>
<circle cx="365.9" cy="586.3" r="1.05" fill="#a8a8a8" fill-opacity="0.6"/>
<circle cx="362.6" cy="616.9" r="1.05" fill="#a8a8a8" fill-opacity="0.6"/>
<circle cx="379.9" cy="616.0" r="1.05" fill="#a8a8a8" fill-opacity="0.6"/>
<circle cx="364.2" cy="613.0" r="1.05" fill="#a8a8a8" fill-opacity="0.6"/>
<circle cx="367.9" cy="597.9" r="1.05" fill="#a8a8a8" fill-opacity="0.6"/>
<circle cx="372.5" cy="575.4" r="1.05" fill="#a8a8a8" fill-opacity="0.6"/>
<circle cx="365.7" cy="607.0" r="1.05" fill="#a8a8a8" fill-opacity="0.6"/>
<circle cx="360.7" cy="638.4" r="1.05" fill="#a8a8a8" fill-opacity="0.6"/>
<circle cx="364.0" cy="577.1" r="1.05" fill="#a8a8a8" fill-opacity="0.6"/>
<circle cx="368.3" cy="575.2" r="1.05" fill="#a8a8a8" fill-opacity="0.6"/>
<circle cx="372.3" cy="601.7" r="1.05" fill="#a8a8a8" fill-opacity="0.6"/>
<circle cx="378.1" cy="611.6" r="1.05" fill="#a8a8a8" fill-opacity="0.6"/>
<circle cx="364.6" cy="609.0" r="1.05" fill="#a8a8a8" fill-opacity="0.6"/>
<circle cx="373.3" cy="601.0" r="1.05" fill="#a8a8a8" fill-opacity="0.6"/>
<circle cx="364.0" cy="585.3" r="1.05" fill="#a8a8a8" fill-opacity="0.6"/>
<circle cx="373.3" cy="600.3" r="1.05" fill="#a8a8a8" fill-opacity="0.6"/>
<circle cx="366.4" cy="567.4" r="1.05" fill="#a8a8a8" fill-opacity="0.6"/>
<circle cx="372.5" cy="571.2" r="1.05" fill="#a8a8a8" fill-opacity="0.6"/>
<circle cx="363.9" cy="589.4" r="1.05" fill="#a8a8a8" fill-opacity="0.6"/>
<circle cx="369.5" cy="646.6" r="1.05" fill="#a8a8a8" fill-opacity="0.6"/>
<circle cx="373.6" cy="594.5" r="1.05" fill="#a8a8a8" fill-opacity="0.6"/>
<circle cx="366.0" cy="535.0" r="1.05" fill="#a8a8a8" fill-opacity="0.6"/>
<circle cx="368.4" cy="617.0" r="1.05" fill="#a8a8a8" fill-opacity="0.6"/>
<circle cx="367.4" cy="581.7" r="1.05" fill="#a8a8a8" fill-opacity="0.6"/>
<circle cx="371.7" cy="598.8" r="1.05" fill="#a8a8a8" fill-opacity="0.6"/>
<circle cx="363.4" cy="616.4" r="1.05" fill="#a8a8a8" fill-opacity="0.6"/>
<circle cx="363.7" cy="626.1" r="1.05" fill="#a8a8a8" fill-opacity="0.6"/>
<circle cx="367.6" cy="610.7" r="1.05" fill="#a8a8a8" fill-opacity="0.6"/>
<circle cx="368.0" cy="619.9" r="1.05" fill="#a8a8a8" fill-opacity="0.6"/>
<circle cx="363.4" cy="602.3" r="1.05" fill="#a8a8a8" fill-opacity="0.6"/>
<circle cx="366.0" cy="565.6" r="1.05" fill="#a8a8a8" fill-opacity="0.6"/>
<circle cx="363.2" cy="591.6" r="1.05" fill="#a8a8a8" fill-opacity="0.6"/>
<circle cx="367.5" cy="633.1" r="1.05" fill="#a8a8a8" fill-opacity="0.6"/>
<circle cx="371.3" cy="592.6" r="1.05" fill="#a8a8a8" fill-opacity="0.6"/>
<circle cx="357.3" cy="580.7" r="1.05" fill="#a8a8a8" fill-opacity="0.6"/>
<circle cx="372.3" cy="619.1" r="1.05" fill="#a8a8a8" fill-opacity="0.6"/>
<circle cx="376.0" cy="593.0" r="1.05" fill="#a8a8a8" fill-opacity="0.6"/>
<circle cx="362.0" cy="581.8" r="1.05" fill="#a8a8a8" fill-opacity="0.6"/>
<circle cx="365.9" cy="633.9" r="1.05" fill="#a8a8a8" fill-opacity="0.6"/>
<circle cx="357.1" cy="590.5" r="1.05" fill="#a8a8a8" fill-opacity="0.6"/>
<circle cx="364.1" cy="579.6" r="1.05" fill="#a8a8a8" fill-opacity="0.6"/>
<circle cx="369.6" cy="611.5" r="1.05" fill="#a8a8a8" fill-opacity="0.6"/>
<circle cx="365.1" cy="548.8" r="1.05" fill="#a8a8a8" fill-opacity="0.6"/>
<circle cx="376.1" cy="576.6" r="1.05" fill="#a8a8a8" fill-opacity="0.6"/>
<circle cx="365.9" cy="624.1" r="1.05" fill="#a8a8a8" fill-opacity="0.6"/>
<circle cx="365.8" cy="551.6" r="1.05" fill="#a8a8a8" fill-opacity="0.6"/>
<circle cx="370.0" cy="605.2" r="1.05" fill="#a8a8a8" fill-opacity="0.6"/>
<circle cx="361.6" cy="592.6" r="1.05" fill="#a8a8a8" fill-opacity="0.6"/>
<circle cx="363.4" cy="596.9" r="1.05" fill="#a8a8a8" fill-opacity="0.6"/>
<circle cx="371.3" cy="567.9" r="1.05" fill="#a8a8a8" fill-opacity="0.6"/>
<circle cx="368.4" cy="606.6" r="1.05" fill="#a8a8a8" fill-opacity="0.6"/>
<circle cx="368.8" cy="547.9" r="1.05" fill="#a8a8a8" fill-opacity="0.6"/>
<circle cx="369.5" cy="635.5" r="1.05" fill="#a8a8a8" fill-opacity="0.6"/>
<circle cx="375.3" cy="590.3" r="1.05" fill="#a8a8a8" fill-opacity="0.6"/>
<circle cx="384.8" cy="610.1" r="1.05" fill="#a8a8a8" fill-opacity="0.6"/>
<circle cx="367.2" cy="605.3" r="1.05" fill="#a8a8a8" fill-opacity="0.6"/>
<circle cx="369.5" cy="613.1" r="1.05" fill="#a8a8a8" fill-opacity="0.6"/>
<circle cx="360.4" cy="649.8" r="1.05" fill="#a8a8a8" fill-opacity="0.6"/>
<circle cx="367.1" cy="611.3" r="1.05" fill="#a8a8a8" fill-opacity="0.6"/>
<circle cx="364.8" cy="539.2" r="1.05" fill="#a8a8a8" fill-opacity="0.6"/>
<circle cx="371.6" cy="567.4" r="1.05" fill="#a8a8a8" fill-opacity="0.6"/>
<circle cx="365.2" cy="589.0" r="1.05" fill="#a8a8a8" fill-opacity="0.6"/>
<circle cx="366.7" cy="602.8" r="1.05" fill="#a8a8a8" fill-opacity="0.6"/>
<circle cx="371.4" cy="580.7" r="1.05" fill="#a8a8a8" fill-opacity="0.6"/>
<circle cx="369.2" cy="593.2" r="1.05" fill="#a8a8a8" fill-opacity="0.6"/>
<circle cx="360.6" cy="617.4" r="1.05" fill="#a8a8a8" fill-opacity="0.6"/>
<circle cx="369.6" cy="607.2" r="1.05" fill="#a8a8a8" fill-opacity="0.6"/>
<circle cx="363.9" cy="587.5" r="1.05" fill="#a8a8a8" fill-opacity="0.6"/>
<circle cx="363.2" cy="615.6" r="1.05" fill="#a8a8a8" fill-opacity="0.6"/>
<circle cx="372.0" cy="607.0" r="1.05" fill="#a8a8a8" fill-opacity="0.6"/>
<circle cx="374.7" cy="583.0" r="1.05" fill="#a8a8a8" fill-opacity="0.6"/>
<circle cx="371.7" cy="566.3" r="1.05" fill="#a8a8a8" fill-opacity="0.6"/>
<circle cx="357.1" cy="599.4" r="1.05" fill="#a8a8a8" fill-opacity="0.6"/>
<circle cx="361.4" cy="609.9" r="1.05" fill="#a8a8a8" fill-opacity="0.6"/>
<circle cx="367.2" cy="563.3" r="1.05" fill="#a8a8a8" fill-opacity="0.6"/>
<circle cx="367.5" cy="552.4" r="1.05" fill="#a8a8a8" fill-opacity="0.6"/>
<circle cx="365.1" cy="598.8" r="1.05" fill="#a8a8a8" fill-opacity="0.6"/>
<circle cx="368.1" cy="571.5" r="1.05" fill="#a8a8a8" fill-opacity="0.6"/>
<circle cx="367.4" cy="614.1" r="1.05" fill="#a8a8a8" fill-opacity="0.6"/>
<circle cx="366.1" cy="635.4" r="1.05" fill="#a8a8a8" fill-opacity="0.6"/>
<circle cx="373.9" cy="576.8" r="1.05" fill="#a8a8a8" fill-opacity="0.6"/>
<circle cx="369.8" cy="589.7" r="1.05" fill="#a8a8a8" fill-opacity="0.6"/>
<circle cx="364.7" cy="608.3" r="1.05" fill="#a8a8a8" fill-opacity="0.6"/>
<circle cx="371.6" cy="618.7" r="1.05" fill="#a8a8a8" fill-opacity="0.6"/>
<circle cx="363.9" cy="554.3" r="1.05" fill="#a8a8a8" fill-opacity="0.6"/>
<circle cx="375.3" cy="589.3" r="1.05" fill="#a8a8a8" fill-opacity="0.6"/>
<circle cx="370.3" cy="592.1" r="1.05" fill="#a8a8a8" fill-opacity="0.6"/>
<circle cx="374.7" cy="609.3" r="1.05" fill="#a8a8a8" fill-opacity="0.6"/>
<circle cx="368.1" cy="584.1" r="1.05" fill="#a8a8a8" fill-opacity="0.6"/>
<circle cx="374.7" cy="604.0" r="1.05" fill="#a8a8a8" fill-opacity="0.6"/>
<circle cx="368.8" cy="610.5" r="1.05" fill="#a8a8a8" fill-opacity="0.6"/>
<circle cx="364.5" cy="615.0" r="1.05" fill="#a8a8a8" fill-opacity="0.6"/>
<circle cx="368.1" cy="573.1" r="1.05" fill="#a8a8a8" fill-opacity="0.6"/>
<circle cx="364.3" cy="613.5" r="1.05" fill="#a8a8a8" fill-opacity="0.6"/>
<circle cx="365.7" cy="587.6" r="1.05" fill="#a8a8a8" fill-opacity="0.6"/>
<circle cx="371.1" cy="631.1" r="1.05" fill="#a8a8a8" fill-opacity="0.6"/>
<circle cx="369.4" cy="624.2" r="1.05" fill="#a8a8a8" fill-opacity="0.6"/>
<circle cx="371.2" cy="623.3" r="1.05" fill="#a8a8a8" fill-opacity="0.6"/>
<circle cx="362.4" cy="616.5" r="1.05" fill="#a8a8a8" fill-opacity="0.6"/>
<circle cx="367.4" cy="624.1" r="1.05" fill="#a8a8a8" fill-opacity="0.6"/>
<circle cx="368.7" cy="593.2" r="1.05" fill="#a8a8a8" fill-opacity="0.6"/>
<circle cx="368.1" cy="589.9" r="1.05" fill="#a8a8a8" fill-opacity="0.6"/>
<circle cx="371.9" cy="617.0" r="1.05" fill="#a8a8a8" fill-opacity="0.6"/>
<circle cx="367.7" cy="598.0" r="1.05" fill="#a8a8a8" fill-opacity="0.6"/>
<circle cx="357.7" cy="586.7" r="1.05" fill="#a8a8a8" fill-opacity="0.6"/>
<circle cx="363.9" cy="616.6" r="1.05" fill="#a8a8a8" fill-opacity="0.6"/>
<circle cx="365.5" cy="594.6" r="1.05" fill="#a8a8a8" fill-opacity="0.6"/>
<circle cx="369.3" cy="584.2" r="1.05" fill="#a8a8a8" fill-opacity="0.6"/>
<circle cx="364.3" cy="578.4" r="1.05" fill="#a8a8a8" fill-opacity="0.6"/>
<circle cx="369.7" cy="607.8" r="1.05" fill="#a8a8a8" fill-opacity="0.6"/>
<circle cx="367.6" cy="575.6" r="1.05" fill="#a8a8a8" fill-opacity="0.6"/>
<circle cx="369.8" cy="578.4" r="1.05" fill="#a8a8a8" fill-opacity="0.6"/>
<circle cx="368.2" cy="566.5" r="1.05" fill="#a8a8a8" fill-opacity="0.6"/>
<circle cx="378.4" cy="585.0" r="1.05" fill="#a8a8a8" fill-opacity="0.6"/>
<circle cx="359.9" cy="550.7" r="1.05" fill="#a8a8a8" fill-opacity="0.6"/>
<circle cx="364.9" cy="634.4" r="1.05" fill="#a8a8a8" fill-opacity="0.6"/>
<circle cx="356.2" cy="585.8" r="1.05" fill="#a8a8a8" fill-opacity="0.6"/>
<circle cx="373.0" cy="570.3" r="1.05" fill="#a8a8a8" fill-opacity="0.6"/>
<circle cx="365.8" cy="558.3" r="1.05" fill="#a8a8a8" fill-opacity="0.6"/>
<circle cx="367.3" cy="613.1" r="1.05" fill="#a8a8a8" fill-opacity="0.6"/>
<circle cx="368.0" cy="591.5" r="1.05" fill="#a8a8a8" fill-opacity="0.6"/>
<circle cx="367.9" cy="586.5" r="1.05" fill="#a8a8a8" fill-opacity="0.6"/>
<circle cx="357.1" cy="555.0" r="1.05" fill="#a8a8a8" fill-opacity="0.6"/>
<circle cx="364.9" cy="579.7" r="1.05" fill="#a8a8a8" fill-opacity="0.6"/>
<circle cx="363.8" cy="592.8" r="1.05" fill="#a8a8a8" fill-opacity="0.6"/>
<circle cx="366.8" cy="639.7" r="1.05" fill="#a8a8a8" fill-opacity="0.6"/>
<circle cx="369.5" cy="580.2" r="1.05" fill="#a8a8a8" fill-opacity="0.6"/>
<circle cx="364.6" cy="619.9" r="1.05" fill="#a8a8a8" fill-opacity="0.6"/>
<circle cx="368.2" cy="597.7" r="1.05" fill="#a8a8a8" fill-opacity="0.6"/>
<circle cx="375.5" cy="579.8" r="1.05" fill="#a8a8a8" fill-opacity="0.6"/>
<circle cx="366.4" cy="592.9" r="1.05" fill="#a8a8a8" fill-opacity="0.6"/>
<circle cx="353.8" cy="621.6" r="1.05" fill="#a8a8a8" fill-opacity="0.6"/>
<circle cx="363.2" cy="600.2" r="1.05" fill="#a8a8a8" fill-opacity="0.6"/>
<circle cx="369.2" cy="591.5" r="1.05" fill="#a8a8a8" fill-opacity="0.6"/>
<circle cx="372.2" cy="615.8" r="1.05" fill="#a8a8a8" fill-opacity="0.6"/>
<circle cx="369.2" cy="600.7" r="1.05" fill="#a8a8a8" fill-opacity="0.6"/>
<circle cx="367.8" cy="588.6" r="1.05" fill="#a8a8a8" fill-opacity="0.6"/>
<circle cx="366.3" cy="591.5" r="1.05" fill="#a8a8a8" fill-opacity="0.6"/>
<circle cx="367.5" cy="569.7" r="1.05" fill="#a8a8a8" fill-opacity="0.6"/>
<circle cx="367.1" cy="589.0" r="1.05" fill="#a8a8a8" fill-opacity="0.6"/>
<circle cx="380.2" cy="580.4" r="1.05" fill="#a8a8a8" fill-opacity="0.6"/>
<circle cx="370.2" cy="568.3" r="1.05" fill="#a8a8a8" fill-opacity="0.6"/>
<circle cx="362.8" cy="578.2" r="1.05" fill="#a8a8a8" fill-opacity="0.6"/>
<circle cx="371.3" cy="585.4" r="1.05" fill="#a8a8a8" fill-opacity="0.6"/>
<circle cx="372.4" cy="576.1" r="1.05" fill="#a8a8a8" fill-opacity="0.6"/>
<circle cx="373.4" cy="614.4" r="1.05" fill="#a8a8a8" fill-opacity="0.6"/>
<circle cx="369.8" cy="611.8" r="1.05" fill="#a8a8a8" fill-opacity="0.6"/>
<circle cx="373.7" cy="593.6" r="1.05" fill="#a8a8a8" fill-opacity="0.6"/>
<circle cx="361.4" cy="594.3" r="1.05" fill="#a8a8a8" fill-opacity="0.6"/>
<circle cx="362.9" cy="570.9" r="1.05" fill="#a8a8a8" fill-opacity="0.6"/>
<circle cx="365.8" cy="569.8" r="1.05" fill="#a8a8a8" fill-opacity="0.6"/>
<circle cx="369.3" cy="614.2" r="1.05" fill="#a8a8a8" fill-opacity="0.6"/>
<circle cx="370.8" cy="581.8" r="1.05" fill="#a8a8a8" fill-opacity="0.6"/>
<circle cx="374.8" cy="573.0" r="1.05" fill="#a8a8a8" fill-opacity="0.6"/>
<circle cx="369.5" cy="618.3" r="1.05" fill="#a8a8a8" fill-opacity="0.6"/>
<circle cx="369.1" cy="589.1" r="1.05" fill="#a8a8a8" fill-opacity="0.6"/>
<circle cx="367.8" cy="585.9" r="1.05" fill="#a8a8a8" fill-opacity="0.6"/>
<circle cx="362.0" cy="581.9" r="1.05" fill="#a8a8a8" fill-opacity="0.6"/>
<circle cx="367.7" cy="587.7" r="1.05" fill="#a8a8a8" fill-opacity="0.6"/>
<circle cx="367.2" cy="605.3" r="1.05" fill="#a8a8a8" fill-opacity="0.6"/>
<circle cx="368.9" cy="576.2" r="1.05" fill="#a8a8a8" fill-opacity="0.6"/>
<circle cx="366.1" cy="588.5" r="1.05" fill="#a8a8a8" fill-opacity="0.6"/>
<circle cx="364.0" cy="586.1" r="1.05" fill="#a8a8a8" fill-opacity="0.6"/>
<circle cx="367.8" cy="631.5" r="1.05" fill="#a8a8a8" fill-opacity="0.6"/>
<circle cx="373.3" cy="621.0" r="1.05" fill="#a8a8a8" fill-opacity="0.6"/>
<circle cx="368.1" cy="632.3" r="1.05" fill="#a8a8a8" fill-opacity="0.6"/>
<circle cx="359.4" cy="579.6" r="1.05" fill="#a8a8a8" fill-opacity="0.6"/>
<circle cx="366.7" cy="638.6" r="1.05" fill="#a8a8a8" fill-opacity="0.6"/>
<circle cx="366.7" cy="548.4" r="1.05" fill="#a8a8a8" fill-opacity="0.6"/>
<circle cx="365.8" cy="587.7" r="1.05" fill="#a8a8a8" fill-opacity="0.6"/>
<circle cx="370.4" cy="590.6" r="1.05" fill="#a8a8a8" fill-opacity="0.6"/>
<circle cx="367.1" cy="557.0" r="1.05" fill="#a8a8a8" fill-opacity="0.6"/>
<circle cx="367.3" cy="587.7" r="1.05" fill="#a8a8a8" fill-opacity="0.6"/>
<circle cx="368.2" cy="631.4" r="1.05" fill="#a8a8a8" fill-opacity="0.6"/>
<circle cx="369.2" cy="595.7" r="1.05" fill="#a8a8a8" fill-opacity="0.6"/>
<circle cx="370.8" cy="578.8" r="1.05" fill="#a8a8a8" fill-opacity="0.6"/>
<circle cx="375.2" cy="647.8" r="1.05" fill="#a8a8a8" fill-opacity="0.6"/>
<circle cx="365.0" cy="609.8" r="1.05" fill="#a8a8a8" fill-opacity="0.6"/>
<circle cx="363.6" cy="586.2" r="1.05" fill="#a8a8a8" fill-opacity="0.6"/>
<circle cx="367.3" cy="593.5" r="1.05" fill="#a8a8a8" fill-opacity="0.6"/>
<circle cx="359.9" cy="622.7" r="1.05" fill="#a8a8a8" fill-opacity="0.6"/>
<circle cx="367.4" cy="609.1" r="1.05" fill="#a8a8a8" fill-opacity="0.6"/>
<circle cx="364.8" cy="600.3" r="1.05" fill="#a8a8a8" fill-opacity="0.6"/>
<circle cx="366.4" cy="625.5" r="1.05" fill="#a8a8a8" fill-opacity="0.6"/>
<circle cx="375.7" cy="615.2" r="1.05" fill="#a8a8a8" fill-opacity="0.6"/>
<circle cx="370.8" cy="581.3" r="1.05" fill="#a8a8a8" fill-opacity="0.6"/>
<circle cx="372.3" cy="612.4" r="1.05" fill="#a8a8a8" fill-opacity="0.6"/>
<circle cx="362.9" cy="585.6" r="1.05" fill="#a8a8a8" fill-opacity="0.6"/>
<circle cx="355.2" cy="611.7" r="1.05" fill="#a8a8a8" fill-opacity="0.6"/>
<circle cx="365.8" cy="604.4" r="1.05" fill="#a8a8a8" fill-opacity="0.6"/>
<circle cx="369.7" cy="623.0" r="1.05" fill="#a8a8a8" fill-opacity="0.6"/>
<circle cx="380.3" cy="573.2" r="1.05" fill="#a8a8a8" fill-opacity="0.6"/>
<circle cx="373.9" cy="590.0" r="1.05" fill="#a8a8a8" fill-opacity="0.6"/>
<circle cx="357.8" cy="590.9" r="1.05" fill="#a8a8a8" fill-opacity="0.6"/>
<circle cx="365.1" cy="585.5" r="1.05" fill="#a8a8a8" fill-opacity="0.6"/>
<circle cx="367.1" cy="579.5" r="1.05" fill="#a8a8a8" fill-opacity="0.6"/>
<circle cx="363.5" cy="606.9" r="1.05" fill="#a8a8a8" fill-opacity="0.6"/>
<circle cx="367.7" cy="617.2" r="1.05" fill="#a8a8a8" fill-opacity="0.6"/>
<circle cx="365.5" cy="580.9" r="1.05" fill="#a8a8a8" fill-opacity="0.6"/>
<circle cx="376.9" cy="602.9" r="1.05" fill="#a8a8a8" fill-opacity="0.6"/>
<circle cx="371.6" cy="627.4" r="1.05" fill="#a8a8a8" fill-opacity="0.6"/>
<circle cx="365.5" cy="588.5" r="1.05" fill="#a8a8a8" fill-opacity="0.6"/>
<circle cx="370.4" cy="624.4" r="1.05" fill="#a8a8a8" fill-opacity="0.6"/>
<circle cx="370.6" cy="593.4" r="1.05" fill="#a8a8a8" fill-opacity="0.6"/>
<circle cx="373.9" cy="572.4" r="1.05" fill="#a8a8a8" fill-opacity="0.6"/>
<circle cx="370.3" cy="607.7" r="1.05" fill="#a8a8a8" fill-opacity="0.6"/>
<circle cx="368.9" cy="620.0" r="1.05" fill="#a8a8a8" fill-opacity="0.6"/>
<circle cx="363.7" cy="646.1" r="1.05" fill="#a8a8a8" fill-opacity="0.6"/>
<circle cx="361.5" cy="630.9" r="1.05" fill="#a8a8a8" fill-opacity="0.6"/>
<circle cx="367.2" cy="594.5" r="1.05" fill="#a8a8a8" fill-opacity="0.6"/>
<circle cx="361.3" cy="599.9" r="1.05" fill="#a8a8a8" fill-opacity="0.6"/>
<circle cx="369.6" cy="572.7" r="1.05" fill="#a8a8a8" fill-opacity="0.6"/>
<circle cx="367.2" cy="591.5" r="1.05" fill="#a8a8a8" fill-opacity="0.6"/>
<circle cx="365.9" cy="572.8" r="1.05" fill="#a8a8a8" fill-opacity="0.6"/>
<circle cx="360.2" cy="591.0" r="1.05" fill="#a8a8a8" fill-opacity="0.6"/>
<circle cx="356.6" cy="552.0" r="1.05" fill="#a8a8a8" fill-opacity="0.6"/>
<circle cx="365.2" cy="634.7" r="1.05" fill="#a8a8a8" fill-opacity="0.6"/>
<circle cx="359.3" cy="608.2" r="1.05" fill="#a8a8a8" fill-opacity="0.6"/>
<circle cx="363.5" cy="569.8" r="1.05" fill="#a8a8a8" fill-opacity="0.6"/>
<circle cx="365.2" cy="626.7" r="1.05" fill="#a8a8a8" fill-opacity="0.6"/>
<circle cx="367.3" cy="586.7" r="1.05" fill="#a8a8a8" fill-opacity="0.6"/>
<circle cx="371.6" cy="584.1" r="1.05" fill="#a8a8a8" fill-opacity="0.6"/>
<circle cx="360.5" cy="619.2" r="1.05" fill="#a8a8a8" fill-opacity="0.6"/>
<circle cx="366.8" cy="619.7" r="1.05" fill="#a8a8a8" fill-opacity="0.6"/>
<circle cx="371.2" cy="606.5" r="1.05" fill="#a8a8a8" fill-opacity="0.6"/>
<circle cx="367.3" cy="607.4" r="1.05" fill="#a8a8a8" fill-opacity="0.6"/>
<circle cx="367.8" cy="637.2" r="1.05" fill="#a8a8a8" fill-opacity="0.6"/>
<circle cx="377.6" cy="612.6" r="1.05" fill="#a8a8a8" fill-opacity="0.6"/>
<circle cx="364.2" cy="644.6" r="1.05" fill="#a8a8a8" fill-opacity="0.6"/>
<circle cx="367.2" cy="634.1" r="1.05" fill="#a8a8a8" fill-opacity="0.6"/>
<circle cx="369.2" cy="565.9" r="1.05" fill="#a8a8a8" fill-opacity="0.6"/>
<circle cx="370.5" cy="609.3" r="1.05" fill="#a8a8a8" fill-opacity="0.6"/>
<circle cx="373.7" cy="602.6" r="1.05" fill="#a8a8a8" fill-opacity="0.6"/>
<circle cx="367.4" cy="595.9" r="1.05" fill="#a8a8a8" fill-opacity="0.6"/>
<circle cx="365.4" cy="586.5" r="1.05" fill="#a8a8a8" fill-opacity="0.6"/>
<circle cx="361.8" cy="644.5" r="1.05" fill="#a8a8a8" fill-opacity="0.6"/>
<circle cx="373.3" cy="617.0" r="1.05" fill="#a8a8a8" fill-opacity="0.6"/>
<circle cx="357.6" cy="562.7" r="1.05" fill="#a8a8a8" fill-opacity="0.6"/>
<circle cx="371.7" cy="567.8" r="1.05" fill="#a8a8a8" fill-opacity="0.6"/>
<circle cx="393.9" cy="625.0" r="1.05" fill="#a8a8a8" fill-opacity="0.6"/>
<circle cx="350.3" cy="555.6" r="1.05" fill="#a8a8a8" fill-opacity="0.6"/>
<circle cx="353.3" cy="594.1" r="1.05" fill="#a8a8a8" fill-opacity="0.6"/>
<circle cx="430.4" cy="557.9" r="1.05" fill="#a8a8a8" fill-opacity="0.6"/>
<circle cx="349.4" cy="617.4" r="1.05" fill="#a8a8a8" fill-opacity="0.6"/>
<circle cx="350.6" cy="620.2" r="1.05" fill="#a8a8a8" fill-opacity="0.6"/>
<circle cx="348.4" cy="631.1" r="1.05" fill="#a8a8a8" fill-opacity="0.6"/>
<circle cx="426.0" cy="608.3" r="1.05" fill="#a8a8a8" fill-opacity="0.6"/>
<circle cx="396.0" cy="612.0" r="1.05" fill="#a8a8a8" fill-opacity="0.6"/>
<circle cx="369.1" cy="578.1" r="1.05" fill="#a8a8a8" fill-opacity="0.6"/>
<circle cx="432.2" cy="596.7" r="1.05" fill="#a8a8a8" fill-opacity="0.6"/>
<circle cx="377.8" cy="572.4" r="1.05" fill="#a8a8a8" fill-opacity="0.6"/>
<circle cx="447.9" cy="588.3" r="1.05" fill="#a8a8a8" fill-opacity="0.6"/>
<circle cx="348.8" cy="585.1" r="1.05" fill="#a8a8a8" fill-opacity="0.6"/>
<circle cx="372.7" cy="602.4" r="1.05" fill="#a8a8a8" fill-opacity="0.6"/>
<circle cx="349.8" cy="599.6" r="1.05" fill="#a8a8a8" fill-opacity="0.6"/>
<circle cx="376.5" cy="612.3" r="1.05" fill="#a8a8a8" fill-opacity="0.6"/>
<circle cx="396.1" cy="619.1" r="1.05" fill="#a8a8a8" fill-opacity="0.6"/>
<circle cx="348.4" cy="634.9" r="1.05" fill="#a8a8a8" fill-opacity="0.6"/>
<circle cx="445.4" cy="586.2" r="1.05" fill="#a8a8a8" fill-opacity="0.6"/>
<circle cx="353.9" cy="570.5" r="1.05" fill="#a8a8a8" fill-opacity="0.6"/>
<circle cx="437.6" cy="617.8" r="1.05" fill="#a8a8a8" fill-opacity="0.6"/>
<circle cx="350.7" cy="605.3" r="1.05" fill="#a8a8a8" fill-opacity="0.6"/>
<circle cx="364.2" cy="633.1" r="1.05" fill="#a8a8a8" fill-opacity="0.6"/>
<circle cx="348.6" cy="585.7" r="1.05" fill="#a8a8a8" fill-opacity="0.6"/>
<circle cx="348.6" cy="577.6" r="1.05" fill="#a8a8a8" fill-opacity="0.6"/>
<circle cx="349.2" cy="598.8" r="1.05" fill="#a8a8a8" fill-opacity="0.6"/>
<circle cx="401.3" cy="597.9" r="1.05" fill="#a8a8a8" fill-opacity="0.6"/>
<circle cx="397.4" cy="573.3" r="1.05" fill="#a8a8a8" fill-opacity="0.6"/>
<circle cx="393.5" cy="629.3" r="1.05" fill="#a8a8a8" fill-opacity="0.6"/>
<circle cx="436.9" cy="558.8" r="1.05" fill="#a8a8a8" fill-opacity="0.6"/>
<circle cx="447.5" cy="599.3" r="1.05" fill="#a8a8a8" fill-opacity="0.6"/>
<circle cx="348.7" cy="583.6" r="1.05" fill="#a8a8a8" fill-opacity="0.6"/>
<circle cx="350.2" cy="585.3" r="1.05" fill="#a8a8a8" fill-opacity="0.6"/>
<circle cx="356.8" cy="624.8" r="1.05" fill="#a8a8a8" fill-opacity="0.6"/>
<circle cx="398.6" cy="581.4" r="1.05" fill="#a8a8a8" fill-opacity="0.6"/>
<circle cx="348.5" cy="614.7" r="1.05" fill="#a8a8a8" fill-opacity="0.6"/>
<circle cx="356.9" cy="573.7" r="1.05" fill="#a8a8a8" fill-opacity="0.6"/>
<circle cx="348.8" cy="609.2" r="1.05" fill="#a8a8a8" fill-opacity="0.6"/>
<circle cx="388.8" cy="603.6" r="1.05" fill="#a8a8a8" fill-opacity="0.6"/>
<circle cx="365.9" cy="535.4" r="1.05" fill="#a8a8a8" fill-opacity="0.6"/>
<circle cx="348.5" cy="603.7" r="1.05" fill="#a8a8a8" fill-opacity="0.6"/>
<circle cx="401.6" cy="594.0" r="1.05" fill="#a8a8a8" fill-opacity="0.6"/>
<circle cx="348.8" cy="609.9" r="1.05" fill="#a8a8a8" fill-opacity="0.6"/>
<circle cx="364.4" cy="613.9" r="1.05" fill="#a8a8a8" fill-opacity="0.6"/>
<circle cx="435.5" cy="560.0" r="1.05" fill="#a8a8a8" fill-opacity="0.6"/>
<circle cx="357.3" cy="597.5" r="1.05" fill="#a8a8a8" fill-opacity="0.6"/>
<circle cx="390.9" cy="563.8" r="1.05" fill="#a8a8a8" fill-opacity="0.6"/>
<circle cx="407.1" cy="608.0" r="1.05" fill="#a8a8a8" fill-opacity="0.6"/>
<circle cx="354.8" cy="599.5" r="1.05" fill="#a8a8a8" fill-opacity="0.6"/>
<circle cx="419.2" cy="598.0" r="1.05" fill="#a8a8a8" fill-opacity="0.6"/>
<circle cx="359.8" cy="591.4" r="1.05" fill="#a8a8a8" fill-opacity="0.6"/>
<circle cx="351.0" cy="595.1" r="1.05" fill="#a8a8a8" fill-opacity="0.6"/>
<circle cx="352.0" cy="598.4" r="1.05" fill="#a8a8a8" fill-opacity="0.6"/>
<circle cx="370.4" cy="580.9" r="1.05" fill="#a8a8a8" fill-opacity="0.6"/>
<circle cx="357.5" cy="581.1" r="1.05" fill="#a8a8a8" fill-opacity="0.6"/>
<circle cx="355.8" cy="594.7" r="1.05" fill="#a8a8a8" fill-opacity="0.6"/>
<circle cx="411.4" cy="550.4" r="1.05" fill="#a8a8a8" fill-opacity="0.6"/>
<circle cx="356.1" cy="589.2" r="1.05" fill="#a8a8a8" fill-opacity="0.6"/>
<circle cx="348.4" cy="590.6" r="1.05" fill="#a8a8a8" fill-opacity="0.6"/>
<circle cx="357.3" cy="564.5" r="1.05" fill="#a8a8a8" fill-opacity="0.6"/>
<circle cx="367.9" cy="574.9" r="1.05" fill="#a8a8a8" fill-opacity="0.6"/>
<circle cx="450.0" cy="585.1" r="1.05" fill="#a8a8a8" fill-opacity="0.6"/>
<circle cx="361.4" cy="600.3" r="1.05" fill="#a8a8a8" fill-opacity="0.6"/>
<circle cx="352.3" cy="588.8" r="1.05" fill="#a8a8a8" fill-opacity="0.6"/>
<circle cx="444.7" cy="601.3" r="1.05" fill="#a8a8a8" fill-opacity="0.6"/>
<circle cx="348.4" cy="616.3" r="1.05" fill="#a8a8a8" fill-opacity="0.6"/>
<circle cx="357.9" cy="586.0" r="1.05" fill="#a8a8a8" fill-opacity="0.6"/>
<circle cx="376.4" cy="615.2" r="1.05" fill="#a8a8a8" fill-opacity="0.6"/>
<circle cx="431.6" cy="611.0" r="1.05" fill="#a8a8a8" fill-opacity="0.6"/>
<circle cx="348.4" cy="616.9" r="1.05" fill="#a8a8a8" fill-opacity="0.6"/>
<circle cx="348.4" cy="587.5" r="1.05" fill="#a8a8a8" fill-opacity="0.6"/>
<circle cx="420.0" cy="568.0" r="1.05" fill="#a8a8a8" fill-opacity="0.6"/>
<circle cx="452.0" cy="577.0" r="1.05" fill="#a8a8a8" fill-opacity="0.6"/>
<circle cx="455.0" cy="589.0" r="1.05" fill="#a8a8a8" fill-opacity="0.6"/>
<circle cx="489.0" cy="584.0" r="1.05" fill="#a8a8a8" fill-opacity="0.6"/>
<circle cx="510.0" cy="574.0" r="1.05" fill="#a8a8a8" fill-opacity="0.6"/>
<circle cx="455.0" cy="595.0" r="1.05" fill="#a8a8a8" fill-opacity="0.6"/>
<circle cx="470.0" cy="607.0" r="1.05" fill="#a8a8a8" fill-opacity="0.6"/>
<circle cx="432.0" cy="628.0" r="1.05" fill="#a8a8a8" fill-opacity="0.6"/>
<circle cx="442.0" cy="632.0" r="1.05" fill="#a8a8a8" fill-opacity="0.6"/>
<circle cx="470.0" cy="610.0" r="1.05" fill="#a8a8a8" fill-opacity="0.6"/>
<line x1="335.00" y1="624.40" x2="512.00" y2="624.40" stroke="#555" stroke-width="0.7" stroke-dasharray="1.2,1.2"/>
<path d="M334.9,523.5 L334.9,657.2 L514,657.2" fill="none" stroke="#666" stroke-width="0.7"/>
<line x1="332.80" y1="624.10" x2="334.90" y2="624.10" stroke="#666" stroke-width="0.7"/>
<text x="332.20" y="626.80" font-size="7.50" text-anchor="end" fill="#231f20">0.50</text>
<line x1="332.80" y1="590.50" x2="334.90" y2="590.50" stroke="#666" stroke-width="0.7"/>
<text x="332.20" y="593.20" font-size="7.50" text-anchor="end" fill="#231f20">0.55</text>
<line x1="332.80" y1="556.90" x2="334.90" y2="556.90" stroke="#666" stroke-width="0.7"/>
<text x="332.20" y="559.60" font-size="7.50" text-anchor="end" fill="#231f20">0.60</text>
<line x1="336.28" y1="657.20" x2="336.28" y2="659.00" stroke="#666" stroke-width="0.7"/>
<text x="336.28" y="666.00" font-size="7.50" text-anchor="middle" fill="#231f20">−0.4</text>
<line x1="384.60" y1="657.20" x2="384.60" y2="659.00" stroke="#666" stroke-width="0.7"/>
<text x="384.60" y="666.00" font-size="7.50" text-anchor="middle" fill="#231f20">0.0</text>
<line x1="432.92" y1="657.20" x2="432.92" y2="659.00" stroke="#666" stroke-width="0.7"/>
<text x="432.92" y="666.00" font-size="7.50" text-anchor="middle" fill="#231f20">0.4</text>
<line x1="481.24" y1="657.20" x2="481.24" y2="659.00" stroke="#666" stroke-width="0.7"/>
<text x="481.24" y="666.00" font-size="7.50" text-anchor="middle" fill="#231f20">0.8</text>
<text x="422.90" y="674.41" font-size="7.55" text-anchor="middle" fill="#231f20">Immunomodulatory potential</text>
<g transform="translate(311.2,590) rotate(-90)"><text x="0" y="2.7" font-size="7.6" text-anchor="middle" fill="#231f20">Potential to bind metabolic genes</text></g>
<text x="354.00" y="527.50" font-size="4.90" fill="#d9662e" stroke="#d9662e" stroke-width="0.12">ESRRA</text>
<text x="350.80" y="542.30" font-size="4.90" fill="#d9662e" stroke="#d9662e" stroke-width="0.12">MXI1</text>
<text x="345.50" y="550.30" font-size="4.90" fill="#d9662e" stroke="#d9662e" stroke-width="0.12">KLF15</text>
<text x="362.40" y="548.20" font-size="4.90" fill="#d9662e" stroke="#d9662e" stroke-width="0.12">CDK7</text>
<text x="361.30" y="554.60" font-size="4.90" fill="#d9662e" stroke="#d9662e" stroke-width="0.12">SUMO1</text>
<text x="348.20" y="560.60" font-size="4.90" fill="#d9662e" stroke="#d9662e" stroke-width="0.12">MAZ</text>
<text x="363.50" y="559.90" font-size="4.90" fill="#d9662e" stroke="#d9662e" stroke-width="0.12">BRF1</text>
<text x="345.50" y="567.60" font-size="4.90" fill="#d9662e" stroke="#d9662e" stroke-width="0.12">KDM5B</text>
<text x="364.50" y="566.20" font-size="4.90" fill="#d9662e" stroke="#d9662e" stroke-width="0.12">TCF7L2</text>
<text x="388.00" y="554.90" font-size="4.90" fill="#6a6abc">NR1H3</text>
<text x="405.60" y="554.90" font-size="4.90" fill="#6a6abc">NFATC1</text>
<text x="381.40" y="563.00" font-size="4.90" fill="#6a6abc">HOXA6</text>
<text x="401.50" y="563.00" font-size="4.90" fill="#6a6abc">PML</text>
<text x="418.00" y="577.40" font-size="4.90" fill="#b5b5b5">STAT1</text>
<text x="438.00" y="587.10" font-size="4.90" fill="#b5b5b5">IRF1</text>
<text x="487.70" y="583.60" font-size="4.90" fill="#b5b5b5">IRF8</text>
<text x="459.50" y="614.40" font-size="4.90" fill="#b5b5b5">TBX21</text>
<text x="476.00" y="600.60" font-size="4.90" fill="#b5b5b5">IKZF1</text>
<circle cx="450.30" cy="531.80" r="0.80" fill="#e07a3e"/>
<circle cx="450.30" cy="539.30" r="0.80" fill="#6b6bbd"/>
<circle cx="357.00" cy="529.00" r="0.75" fill="#444"/>
<circle cx="356.00" cy="543.50" r="0.75" fill="#444"/>
<circle cx="358.00" cy="550.00" r="0.75" fill="#444"/>
<circle cx="366.00" cy="549.00" r="0.75" fill="#444"/>
<circle cx="354.00" cy="560.00" r="0.75" fill="#444"/>
<circle cx="369.00" cy="561.00" r="0.75" fill="#444"/>
<circle cx="357.00" cy="567.00" r="0.75" fill="#444"/>
<circle cx="376.00" cy="566.00" r="0.75" fill="#444"/>
<circle cx="386.00" cy="554.00" r="0.75" fill="#444"/>
<circle cx="384.00" cy="561.00" r="0.75" fill="#444"/>
<circle cx="403.00" cy="562.00" r="0.75" fill="#444"/>
<circle cx="407.00" cy="556.00" r="0.75" fill="#444"/>
<text x="451.80" y="534.50" font-size="7.25" fill="#2a2a2a">Immunosuppressive</text>
<text x="451.80" y="542.00" font-size="7.25" fill="#2a2a2a">Immunostimulatory</text>
<text x="307.50" y="681.60" font-size="10.50" font-weight="bold" fill="#000">H</text>
<path d="M336.8,687 L336.8,805.6 L517.8,805.6" fill="none" stroke="#888" stroke-width="0.8"/>
<line x1="334.80" y1="800.20" x2="336.80" y2="800.20" stroke="#888" stroke-width="0.7"/>
<text x="333.80" y="802.60" font-size="6.55" text-anchor="end" fill="#231f20">0</text>
<line x1="334.80" y1="772.40" x2="336.80" y2="772.40" stroke="#888" stroke-width="0.7"/>
<text x="333.80" y="774.80" font-size="6.55" text-anchor="end" fill="#231f20">5,000</text>
<line x1="334.80" y1="744.60" x2="336.80" y2="744.60" stroke="#888" stroke-width="0.7"/>
<text x="333.80" y="747.00" font-size="6.55" text-anchor="end" fill="#231f20">10,000</text>
<line x1="334.80" y1="716.80" x2="336.80" y2="716.80" stroke="#888" stroke-width="0.7"/>
<text x="333.80" y="719.20" font-size="6.55" text-anchor="end" fill="#231f20">15,000</text>
<line x1="334.80" y1="689.00" x2="336.80" y2="689.00" stroke="#888" stroke-width="0.7"/>
<text x="333.80" y="691.40" font-size="6.55" text-anchor="end" fill="#231f20">20,000</text>
<line x1="360.60" y1="805.60" x2="360.60" y2="807.60" stroke="#888" stroke-width="0.7"/>
<text x="360.60" y="813.60" font-size="7.00" text-anchor="middle" fill="#231f20">−3</text>
<line x1="393.70" y1="805.60" x2="393.70" y2="807.60" stroke="#888" stroke-width="0.7"/>
<text x="393.70" y="813.60" font-size="7.00" text-anchor="middle" fill="#231f20">−2</text>
<line x1="426.80" y1="805.60" x2="426.80" y2="807.60" stroke="#888" stroke-width="0.7"/>
<text x="426.80" y="813.60" font-size="7.00" text-anchor="middle" fill="#231f20">−1</text>
<line x1="459.90" y1="805.60" x2="459.90" y2="807.60" stroke="#888" stroke-width="0.7"/>
<text x="459.90" y="813.60" font-size="7.00" text-anchor="middle" fill="#231f20">0</text>
<line x1="493.00" y1="805.60" x2="493.00" y2="807.60" stroke="#888" stroke-width="0.7"/>
<text x="493.00" y="813.60" font-size="7.00" text-anchor="middle" fill="#231f20">1</text>
<text x="427.8" y="822.2" font-size="7.6" text-anchor="middle" fill="#231f20">Fold change in T cell–mediated killing (log<tspan font-size="5" dy="1.5">2</tspan><tspan dy="-1.5">)</tspan></text>
<g transform="translate(310,735) rotate(-90)"><text x="0" y="2.4" font-size="7.0" text-anchor="middle" fill="#231f20">Rank</text></g>
<line x1="459.90" y1="686.00" x2="459.90" y2="805.60" stroke="#666" stroke-width="0.7" stroke-dasharray="1.2,1.5"/>
<path d="M348.3,799.8 C351.33,799.75 359.80,799.87 366.5,799.5 C373.20,799.13 381.80,798.52 388.5,797.6 C395.20,796.68 401.23,795.63 406.7,794 C412.17,792.37 416.42,790.48 421.3,787.8 C426.18,785.12 431.73,781.55 436,777.9 C440.27,774.25 443.87,769.73 446.9,765.9 C449.93,762.07 452.07,758.57 454.2,754.9 C456.33,751.23 457.87,747.85 459.7,743.9 C461.53,739.95 463.07,735.45 465.2,731.2 C467.33,726.95 470.07,722.37 472.5,718.4 C474.93,714.43 477.37,710.45 479.8,707.4 C482.23,704.35 484.05,702.23 487.1,700.1 C490.15,697.97 494.45,695.70 498.1,694.6 C501.75,693.50 507.18,693.68 509,693.5" fill="none" stroke="#8aa0b5" stroke-width="1.0"/>
<circle cx="349.20" cy="799.79" r="1.45" fill="#d63838"/>
<circle cx="351.00" cy="799.76" r="1.45" fill="#d63838"/>
<circle cx="364.20" cy="799.54" r="1.45" fill="#d63838"/>
<circle cx="366.50" cy="799.50" r="1.45" fill="#d63838"/>
<circle cx="381.50" cy="798.20" r="1.45" fill="#d63838"/>
<circle cx="387.30" cy="797.70" r="1.45" fill="#d63838"/>
<circle cx="389.60" cy="797.38" r="1.45" fill="#d63838"/>
<circle cx="405.80" cy="794.18" r="1.45" fill="#d63838"/>
<circle cx="416.20" cy="789.97" r="1.45" fill="#d63838"/>
<circle cx="419.60" cy="788.52" r="1.45" fill="#d63838"/>
<circle cx="424.20" cy="785.85" r="1.45" fill="#d63838"/>
<circle cx="432.30" cy="780.39" r="1.45" fill="#d63838"/>
<circle cx="438.10" cy="775.59" r="1.45" fill="#d63838"/>
<circle cx="440.40" cy="773.06" r="1.45" fill="#d63838"/>
<circle cx="442.70" cy="770.52" r="1.45" fill="#d63838"/>
<circle cx="445.00" cy="767.99" r="1.45" fill="#d63838"/>
<circle cx="448.50" cy="763.49" r="1.45" fill="#d63838"/>
<circle cx="450.80" cy="760.02" r="1.45" fill="#d63838"/>
<circle cx="454.20" cy="754.90" r="1.45" fill="#d63838"/>
<circle cx="463.80" cy="734.43" r="1.45" fill="#d63838"/>
<circle cx="465.40" cy="730.85" r="1.45" fill="#d63838"/>
<circle cx="480.30" cy="706.90" r="1.45" fill="#d63838"/>
<circle cx="457.70" cy="747.90" r="1.45" fill="#3d6fb0"/>
<circle cx="459.20" cy="744.90" r="1.45" fill="#3d6fb0"/>
<circle cx="469.20" cy="724.19" r="1.45" fill="#3d6fb0"/>
<circle cx="474.60" cy="715.24" r="1.45" fill="#3d6fb0"/>
<circle cx="477.00" cy="711.62" r="1.45" fill="#3d6fb0"/>
<circle cx="485.80" cy="701.40" r="1.45" fill="#3d6fb0"/>
<circle cx="487.70" cy="699.80" r="1.45" fill="#3d6fb0"/>
<circle cx="505.40" cy="693.86" r="1.45" fill="#3d6fb0"/>
<circle cx="352.50" cy="690.20" r="2.40" fill="#3d6fb0"/>
<text x="357.00" y="693.20" font-size="7.64" fill="#231f20">Stimulatory TFCR</text>
<circle cx="352.50" cy="699.40" r="2.40" fill="#d63838"/>
<text x="357.00" y="702.50" font-size="7.64" fill="#231f20">Suppressive TFCR</text>
<text x="387.50" y="782.09" font-size="7.67" text-anchor="middle" fill="#231f20">KO enhances</text>
<text x="387.40" y="789.09" font-size="7.67" text-anchor="middle" fill="#231f20">immunity</text>
<text x="485.70" y="781.19" font-size="7.67" text-anchor="middle" fill="#231f20">KO reduces</text>
<text x="485.80" y="789.29" font-size="7.67" text-anchor="middle" fill="#231f20">immunity</text>
<path d="M398,772.4 L380,772.4" fill="none" stroke="#000" stroke-width="0.8"/>
<path d="M380.5,770.6 L376,772.4 L380.5,774.2 Z" fill="#000" stroke="none" stroke-width="1"/>
<path d="M476.8,772.4 L495.5,772.4" fill="none" stroke="#000" stroke-width="0.8"/>
<path d="M495,770.6 L499.7,772.4 L495,774.2 Z" fill="#000" stroke="none" stroke-width="1"/>
</svg>
</body></html>
